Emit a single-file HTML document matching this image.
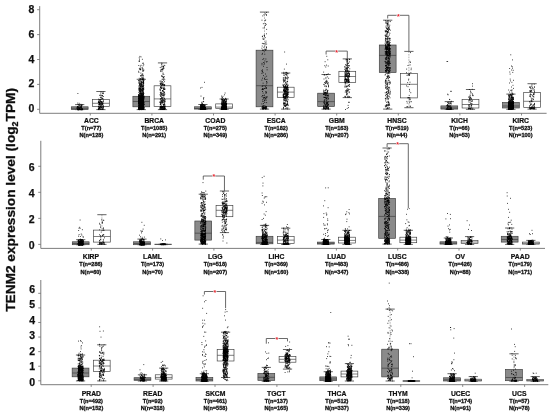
<!DOCTYPE html>
<html><head><meta charset="utf-8"><title>TENM2 expression level</title>
<style>html,body{margin:0;padding:0;background:#fff}svg{display:block}</style>
</head><body>
<svg width="550" height="416" viewBox="0 0 550 416">
<rect width="550" height="416" fill="#fff"/>
<defs><filter id="soft" x="0" y="0" width="550" height="416" filterUnits="userSpaceOnUse"><feGaussianBlur stdDeviation="0.35"/></filter></defs>
<g filter="url(#soft)">
<text transform="translate(14.9,311.8) rotate(-90)" font-family='"Liberation Sans", Arial, Helvetica, sans-serif' font-weight="bold" font-size="13.5" fill="#111" stroke="#111" stroke-width="0.3" textLength="223.8" lengthAdjust="spacingAndGlyphs">TENM2 expression level (log<tspan font-size="8.8" dy="2.6">2</tspan><tspan dy="-2.6">TPM)</tspan></text>
<path d="M39.7 6.1V113.3H546.6" fill="none" stroke="#6e6e6e" stroke-width="0.9"/>
<text x="34.3" y="111.96" text-anchor="end" font-family='"Liberation Sans", Arial, Helvetica, sans-serif' font-weight="bold" font-size="10.5" fill="#111" stroke="#111" stroke-width="0.25">0</text>
<text x="34.3" y="87.26" text-anchor="end" font-family='"Liberation Sans", Arial, Helvetica, sans-serif' font-weight="bold" font-size="10.5" fill="#111" stroke="#111" stroke-width="0.25">2</text>
<text x="34.3" y="62.56" text-anchor="end" font-family='"Liberation Sans", Arial, Helvetica, sans-serif' font-weight="bold" font-size="10.5" fill="#111" stroke="#111" stroke-width="0.25">4</text>
<text x="34.3" y="37.86" text-anchor="end" font-family='"Liberation Sans", Arial, Helvetica, sans-serif' font-weight="bold" font-size="10.5" fill="#111" stroke="#111" stroke-width="0.25">6</text>
<text x="34.3" y="13.16" text-anchor="end" font-family='"Liberation Sans", Arial, Helvetica, sans-serif' font-weight="bold" font-size="10.5" fill="#111" stroke="#111" stroke-width="0.25">8</text>
<path d="M37.1 109.30H39.7M37.1 84.40H39.7M37.1 59.50H39.7M37.1 34.60H39.7M37.1 9.70H39.7M90.3 113.3v2.2M151.9 113.3v2.2M213.5 113.3v2.2M275.1 113.3v2.2M336.7 113.3v2.2M398.3 113.3v2.2M459.9 113.3v2.2M521.5 113.3v2.2" fill="none" stroke="#6e6e6e" stroke-width="0.8"/>
<path d="M79.70 104.6V106.8M79.70 109.6V109.6" stroke="#666" stroke-width="0.5" stroke-dasharray="1.6 1" fill="none"/>
<path d="M75.10 104.6h9.2M75.10 109.6h9.2" stroke="#3a3a3a" stroke-width="0.8" fill="none"/>
<rect x="71.30" y="106.8" width="16.8" height="2.8" fill="#8a8a8a" stroke="#3a3a3a" stroke-width="0.65"/>
<path d="M71.30 108.3h16.8" stroke="#3a3a3a" stroke-width="0.65" fill="none"/>
<path d="M77.2 108.5h0M81.6 106.9h0M80.3 107.3h0M77.9 109.6h0M78.4 106.9h0M78.9 108.4h0M79.0 109.6h0M77.7 109.4h0M81.5 109.6h0M82.3 109.6h0M79.5 108.2h0M79.6 107.4h0M77.5 106.8h0M77.6 106.5h0M78.9 109.6h0M78.5 109.6h0M81.4 109.4h0M77.9 109.6h0M77.2 107.8h0M82.0 109.0h0M79.8 109.6h0M77.9 109.6h0M79.9 109.6h0M77.2 107.4h0M79.8 109.1h0M82.2 108.7h0M81.6 105.6h0M80.7 109.6h0M78.5 107.6h0M79.0 105.5h0M78.0 109.6h0M81.1 109.6h0M79.9 109.3h0M81.2 109.6h0M78.8 108.4h0M78.3 107.9h0M81.3 108.1h0M82.2 109.2h0M81.5 107.7h0M81.3 109.4h0M81.4 106.1h0M80.9 106.9h0M78.3 107.8h0M79.8 105.2h0M78.9 108.8h0M77.3 106.8h0M77.2 108.5h0M78.6 109.6h0M78.4 109.6h0M80.7 106.7h0M82.1 109.6h0M79.4 109.4h0M82.0 109.6h0M82.2 109.0h0M82.1 105.2h0M79.0 106.5h0M78.2 108.8h0M78.3 104.7h0M78.1 109.6h0M78.2 109.6h0M80.3 109.6h0M81.8 109.6h0M81.5 109.1h0M79.6 108.3h0M80.5 108.8h0M81.3 108.2h0M77.5 107.6h0M80.5 107.8h0M81.8 109.6h0M81.2 105.3h0M81.0 105.3h0M79.6 108.8h0M78.0 109.6h0M81.2 106.9h0M78.8 109.6h0M81.3 109.6h0M82.2 109.6h0M79.2 103.3h0M79.2 104.6h0M82.0 104.6h0M80.9 104.3h0M78.0 104.5h0M77.8 103.1h0M77.9 93.5h0" stroke="#000" stroke-opacity="0.9" stroke-width="1.0" stroke-linecap="round" fill="none"/>
<path d="M100.90 91.5V99.6M100.90 106.5V109.6" stroke="#666" stroke-width="0.5" stroke-dasharray="1.6 1" fill="none"/>
<path d="M96.30 91.5h9.2M96.30 109.6h9.2" stroke="#3a3a3a" stroke-width="0.8" fill="none"/>
<rect x="92.50" y="99.6" width="16.8" height="6.9" fill="#fff" stroke="#3a3a3a" stroke-width="0.65"/>
<path d="M92.50 103.3h16.8" stroke="#3a3a3a" stroke-width="0.65" fill="none"/>
<path d="M100.8 93.9h0M98.3 109.1h0M102.4 95.5h0M102.2 105.1h0M100.9 106.5h0M101.1 95.5h0M101.7 103.1h0M98.6 106.1h0M102.1 98.9h0M99.6 104.2h0M98.7 108.3h0M99.7 104.6h0M102.1 109.3h0M99.4 104.8h0M102.1 102.9h0M103.4 106.2h0M100.9 101.6h0M100.3 99.7h0M100.8 103.9h0M101.9 109.0h0M102.3 108.0h0M101.5 101.7h0M101.6 105.0h0M98.7 102.5h0M99.1 108.2h0M99.6 107.4h0M102.2 96.9h0M99.9 102.4h0M101.3 97.4h0M98.4 101.5h0M98.6 102.2h0M99.7 105.0h0M101.8 106.3h0M101.9 102.8h0M101.8 98.7h0M99.8 103.1h0M101.0 99.3h0M100.7 107.9h0M100.7 107.2h0M98.9 108.6h0M102.9 92.8h0M99.3 108.7h0M103.4 100.1h0M103.2 91.9h0M98.4 109.5h0M100.7 104.9h0M102.6 93.6h0M103.3 107.8h0M100.6 100.9h0M99.7 107.5h0M99.4 99.7h0M103.2 101.2h0M99.4 107.5h0M101.3 101.5h0M99.0 109.6h0M101.0 91.9h0M103.3 107.3h0M99.0 108.9h0M102.6 103.7h0M100.9 106.2h0M102.9 98.7h0M102.0 109.3h0M99.5 102.2h0M103.0 106.7h0M100.8 101.2h0M98.4 109.4h0M98.3 102.6h0M100.9 109.2h0M100.6 109.2h0M99.9 104.4h0M99.0 103.0h0M100.1 103.7h0M99.9 100.5h0M102.7 107.0h0M98.3 107.1h0M102.2 104.3h0M102.7 98.5h0M98.9 100.3h0M103.1 103.4h0M102.0 103.3h0M103.0 101.6h0M99.8 108.0h0M100.2 99.4h0M100.3 97.5h0M103.5 106.0h0M101.4 104.9h0M100.2 103.2h0M100.5 106.0h0M99.7 102.0h0M98.6 104.4h0M98.8 106.9h0M102.6 108.8h0M99.8 103.8h0M103.2 109.1h0M99.6 95.3h0M99.7 104.1h0M101.0 104.8h0M99.3 107.9h0M100.2 106.4h0M103.3 96.5h0M102.9 109.5h0M102.5 104.4h0M101.6 107.7h0M103.0 104.9h0M103.2 108.1h0M101.2 107.3h0M102.0 107.7h0M98.6 106.6h0M102.1 104.0h0M100.6 101.6h0M102.2 95.5h0M101.7 102.9h0M99.8 104.3h0M98.6 99.2h0M103.1 102.0h0M99.0 109.1h0M100.8 95.8h0M100.1 102.6h0M99.8 108.1h0M102.1 102.7h0M103.4 93.6h0M99.7 102.9h0M101.7 102.2h0M99.9 106.6h0M101.2 107.6h0M100.4 109.1h0M99.2 101.9h0M99.1 102.1h0" stroke="#000" stroke-opacity="0.9" stroke-width="1.0" stroke-linecap="round" fill="none"/>
<text x="91.4" y="122.8" text-anchor="middle" font-family='"Liberation Sans", Arial, Helvetica, sans-serif' font-weight="bold" font-size="6.8" fill="#111" stroke="#111" stroke-width="0.22">ACC</text>
<text x="91.4" y="130.0" text-anchor="middle" font-family='"Liberation Sans", Arial, Helvetica, sans-serif' font-weight="bold" font-size="5.6" fill="#111" stroke="#111" stroke-width="0.28">T(n=77)</text>
<text x="91.4" y="137.0" text-anchor="middle" font-family='"Liberation Sans", Arial, Helvetica, sans-serif' font-weight="bold" font-size="5.6" fill="#111" stroke="#111" stroke-width="0.28">N(n=128)</text>
<path d="M141.30 79.3V96.3M141.30 106.8V109.6" stroke="#666" stroke-width="0.5" stroke-dasharray="1.6 1" fill="none"/>
<path d="M136.70 79.3h9.2M136.70 109.6h9.2" stroke="#3a3a3a" stroke-width="0.8" fill="none"/>
<rect x="132.90" y="96.3" width="16.8" height="10.5" fill="#8a8a8a" stroke="#3a3a3a" stroke-width="0.65"/>
<path d="M132.90 101.5h16.8" stroke="#3a3a3a" stroke-width="0.65" fill="none"/>
<path d="M140.0 109.3h0M142.4 102.7h0M142.7 79.4h0M142.7 102.2h0M140.3 107.1h0M142.7 102.0h0M143.8 107.5h0M141.1 100.9h0M140.1 98.4h0M141.4 104.3h0M143.6 103.3h0M139.4 107.6h0M138.7 95.7h0M141.2 99.6h0M142.1 94.8h0M142.7 102.8h0M140.6 103.9h0M143.8 83.2h0M139.9 96.3h0M142.6 108.8h0M139.2 91.2h0M138.8 96.3h0M139.4 106.4h0M139.0 83.1h0M141.3 94.5h0M141.6 107.2h0M139.6 99.8h0M143.6 86.2h0M140.6 100.3h0M139.5 104.4h0M139.6 109.0h0M142.5 109.4h0M143.5 97.9h0M139.5 107.5h0M138.9 99.9h0M142.7 107.0h0M140.0 99.3h0M143.8 102.7h0M141.3 96.4h0M142.0 103.9h0M140.5 87.9h0M142.9 91.1h0M141.1 107.5h0M140.4 86.6h0M143.4 101.6h0M139.3 105.1h0M142.5 102.9h0M139.0 101.1h0M142.1 106.9h0M140.8 103.7h0M143.2 97.3h0M139.0 85.8h0M141.6 97.4h0M140.8 93.7h0M143.5 94.7h0M143.6 108.9h0M142.0 106.5h0M139.9 102.5h0M140.0 108.0h0M140.1 101.2h0M141.0 107.9h0M139.9 109.5h0M139.8 106.9h0M142.6 107.9h0M142.0 82.4h0M140.3 101.5h0M143.9 93.4h0M139.8 109.4h0M141.7 96.5h0M139.5 98.3h0M143.2 103.3h0M143.2 106.8h0M140.1 103.4h0M142.6 95.7h0M143.0 94.9h0M140.2 105.9h0M140.4 91.9h0M141.2 108.1h0M143.3 106.4h0M139.5 107.8h0M142.3 96.2h0M141.8 105.8h0M141.1 96.2h0M141.7 107.0h0M143.3 94.4h0M139.8 101.0h0M143.3 102.9h0M140.6 88.4h0M142.8 105.3h0M143.2 103.0h0M139.6 108.9h0M143.2 88.1h0M143.9 96.3h0M140.2 108.1h0M138.8 80.5h0M139.3 102.8h0M143.8 104.1h0M138.7 95.2h0M143.4 85.8h0M139.5 85.0h0M142.5 98.0h0M139.2 103.4h0M139.6 96.0h0M142.3 108.9h0M139.2 107.0h0M140.5 108.3h0M143.5 106.7h0M142.4 79.6h0M143.3 101.9h0M143.8 108.2h0M138.9 98.6h0M139.9 108.0h0M142.8 99.8h0M142.3 100.7h0M138.9 96.9h0M141.3 93.9h0M139.9 98.2h0M140.9 97.3h0M139.2 107.5h0M138.8 109.3h0M143.9 98.0h0M140.3 106.8h0M143.3 97.5h0M139.3 87.7h0M141.2 95.9h0M139.4 105.8h0M140.9 81.6h0M139.6 107.6h0M142.3 107.3h0M139.5 89.1h0M142.5 92.8h0M141.3 91.6h0M139.3 105.6h0M140.5 95.8h0M141.3 99.5h0M143.5 107.8h0M140.5 107.4h0M139.8 104.7h0M143.7 97.4h0M143.3 107.7h0M142.5 97.3h0M140.1 102.6h0M139.6 89.8h0M140.1 107.1h0M139.1 104.4h0M138.9 96.8h0M141.3 108.7h0M140.8 103.0h0M141.6 106.6h0M140.6 104.5h0M138.8 103.7h0M142.3 79.4h0M142.1 102.5h0M141.5 97.4h0M141.6 109.3h0M142.3 105.8h0M143.8 106.2h0M143.2 102.4h0M142.4 108.3h0M140.8 101.0h0M140.4 108.5h0M140.9 104.2h0M143.8 107.6h0M140.7 101.1h0M140.7 108.2h0M140.8 80.2h0M139.4 107.2h0M143.9 80.0h0M138.7 101.8h0M141.9 92.6h0M143.5 88.4h0M140.0 95.4h0M141.9 94.8h0M140.7 106.0h0M140.0 95.2h0M139.7 107.9h0M139.3 98.3h0M143.1 107.5h0M142.8 101.0h0M143.4 108.4h0M139.0 96.2h0M142.3 95.7h0M140.4 99.2h0M142.1 97.9h0M141.6 104.6h0M140.3 105.0h0M143.8 103.8h0M138.7 108.5h0M142.6 102.7h0M143.1 84.9h0M141.4 102.5h0M141.8 102.1h0M143.9 108.0h0M139.9 108.0h0M142.0 96.5h0M142.6 96.7h0M140.7 100.3h0M142.4 96.6h0M140.7 98.3h0M141.4 95.6h0M141.9 79.4h0M142.2 100.5h0M140.4 109.5h0M142.0 106.6h0M141.5 95.3h0M139.9 81.1h0M141.9 107.8h0M140.1 95.4h0M143.4 94.1h0M141.2 95.5h0M142.5 101.1h0M141.4 107.5h0M141.2 98.0h0M139.9 107.3h0M139.4 109.4h0M143.5 101.0h0M141.4 109.0h0M141.4 108.3h0M141.4 98.2h0M142.9 89.7h0M139.9 100.9h0M139.6 109.6h0M143.0 98.4h0M141.1 94.3h0M142.0 89.2h0M143.0 105.6h0M143.3 102.4h0M143.2 96.6h0M138.9 94.4h0M140.7 101.4h0M143.0 99.8h0M143.0 101.5h0M139.3 107.2h0M139.5 98.5h0M140.0 101.0h0M139.2 107.4h0M140.6 96.4h0M142.9 107.8h0M141.4 107.8h0M141.1 108.4h0M139.2 97.4h0M140.8 98.8h0M143.9 109.4h0M142.3 107.2h0M141.0 108.6h0M141.2 84.8h0M142.9 102.9h0M142.6 108.6h0M139.5 98.1h0M142.2 98.6h0M140.6 85.9h0M141.4 109.3h0M139.9 108.3h0M140.6 102.8h0M140.5 109.0h0M140.7 108.3h0M138.8 95.5h0M139.7 108.5h0M141.7 99.6h0M139.0 95.3h0M139.6 103.1h0M142.4 109.3h0M140.1 86.4h0M140.4 109.2h0M140.0 98.7h0M143.0 98.7h0M139.2 107.1h0M142.0 106.9h0M143.2 105.5h0M139.7 100.7h0M140.9 97.7h0M142.8 98.6h0M141.9 90.3h0M140.6 104.9h0M138.9 94.8h0M141.0 96.3h0M140.6 102.8h0M142.4 101.2h0M140.2 98.0h0M140.8 93.4h0M142.1 109.3h0M142.9 99.9h0M140.5 101.4h0M140.7 106.0h0M141.7 100.8h0M143.5 105.3h0M139.7 97.9h0M143.8 108.5h0M142.4 109.4h0M140.6 106.9h0M142.2 109.4h0M140.4 102.3h0M139.1 106.9h0M142.6 99.6h0M140.7 100.1h0M141.4 108.5h0M141.3 105.8h0M143.4 82.2h0M142.6 109.2h0M138.8 80.8h0M141.8 107.4h0M141.1 106.9h0M141.1 84.1h0M143.1 100.6h0M140.9 97.8h0M141.2 107.1h0M143.3 95.0h0M141.0 103.7h0M141.3 107.5h0M141.4 105.3h0M143.0 103.2h0M142.2 90.6h0M142.6 88.4h0M140.8 108.0h0M138.9 105.6h0M142.2 105.2h0M141.6 97.4h0M142.7 95.9h0M142.7 95.3h0M139.3 107.4h0M139.8 79.9h0M139.1 108.2h0M143.0 105.7h0M139.2 108.2h0M139.2 105.9h0M142.6 106.5h0M141.6 102.6h0M139.0 98.9h0M142.2 108.6h0M142.4 109.0h0M141.2 100.4h0M139.0 98.1h0M142.3 103.6h0M140.9 96.0h0M141.7 96.3h0M143.9 107.5h0M142.9 90.7h0M143.2 106.2h0M139.5 108.1h0M140.4 100.2h0M141.4 87.8h0M138.7 103.2h0M143.8 109.2h0M140.1 100.2h0M140.1 108.0h0M140.3 89.2h0M140.0 108.1h0M143.2 94.6h0M141.6 107.6h0M141.4 100.7h0M140.9 107.2h0M139.0 107.7h0M140.3 97.1h0M143.2 102.5h0M142.9 86.1h0M143.2 109.5h0M140.0 107.9h0M139.8 84.5h0M139.0 98.6h0M141.5 108.6h0M140.6 107.4h0M141.1 101.7h0M141.2 105.7h0M141.7 98.9h0M140.6 98.7h0M142.9 108.5h0M139.7 105.4h0M143.5 91.9h0M141.6 100.2h0M139.0 102.7h0M140.3 100.9h0M141.5 86.7h0M140.8 87.1h0M141.6 98.7h0M140.4 104.8h0M140.1 108.0h0M142.8 86.4h0M140.2 97.6h0M142.4 103.9h0M142.9 98.4h0M141.8 101.1h0M141.1 108.6h0M143.6 92.6h0M141.0 106.7h0M143.3 108.3h0M139.0 109.0h0M141.0 90.3h0M142.0 108.4h0M139.0 100.0h0M143.2 99.6h0M139.1 90.3h0M141.8 106.5h0M139.6 108.7h0M143.5 105.5h0M141.6 109.6h0M142.9 101.8h0M141.3 103.6h0M142.2 108.0h0M142.2 105.2h0M140.2 102.9h0M139.8 108.9h0M143.1 90.2h0M139.5 109.0h0M143.5 102.6h0M139.8 109.0h0M139.2 88.1h0M139.2 104.5h0M142.8 109.5h0M143.6 104.9h0M140.9 84.0h0M142.1 103.1h0M140.0 97.0h0M143.4 93.1h0M142.3 94.2h0M139.5 102.8h0M139.0 102.5h0M142.3 108.8h0M138.9 102.8h0M143.0 104.0h0M140.2 104.9h0M139.9 98.2h0M141.7 83.1h0M140.4 109.1h0M141.6 84.8h0M139.5 109.1h0M143.4 96.4h0M140.4 109.5h0M143.1 97.6h0M139.5 107.2h0M142.9 109.0h0M143.8 102.3h0M140.7 84.6h0M138.9 109.3h0M140.7 100.4h0M142.0 100.9h0M139.9 83.5h0M141.5 108.7h0M139.2 100.2h0M141.1 106.2h0M142.5 97.7h0M140.9 107.2h0M142.2 101.8h0M139.3 102.3h0M143.0 104.1h0M139.3 100.8h0M143.5 109.2h0M143.9 104.5h0M143.6 100.7h0M141.4 103.7h0M140.2 96.0h0M140.5 99.6h0M142.6 108.5h0M141.3 101.1h0M143.5 106.7h0M139.2 98.8h0M141.2 96.2h0M143.2 99.6h0M141.8 106.1h0M141.5 104.0h0M139.2 100.3h0M139.4 108.0h0M140.1 104.4h0M143.3 93.9h0M143.1 92.3h0M139.9 97.7h0M143.5 101.4h0M138.9 100.4h0M141.8 103.2h0M143.7 104.6h0M140.5 100.4h0M143.6 108.8h0M142.1 89.9h0M139.0 107.6h0M140.4 107.3h0M141.0 88.6h0M140.0 100.4h0M142.6 88.6h0M139.6 99.6h0M142.8 99.4h0M140.3 97.4h0M139.1 98.7h0M141.6 95.9h0M139.2 106.9h0M141.6 81.6h0M142.8 98.2h0M141.8 84.7h0M141.1 97.6h0M138.9 103.7h0M141.4 103.8h0M139.2 101.2h0M142.1 108.4h0M139.4 107.1h0M141.7 89.3h0M140.5 91.6h0M140.6 107.9h0M142.1 101.2h0M139.6 91.1h0M139.6 102.0h0M143.6 97.4h0M140.4 106.8h0M143.1 108.7h0M143.2 109.5h0M141.2 109.2h0M139.5 106.8h0M139.2 97.6h0M143.3 97.3h0M139.3 109.0h0M141.3 100.7h0M141.5 96.7h0M139.3 100.0h0M141.1 106.4h0M139.6 106.6h0M141.5 96.4h0M141.3 108.6h0M140.6 96.0h0M139.7 105.4h0M140.8 109.2h0M139.8 101.8h0M139.4 104.5h0M139.9 105.1h0M143.2 109.0h0M141.3 104.9h0M143.3 98.5h0M138.8 105.7h0M143.6 84.8h0M141.2 97.8h0M142.8 109.5h0M141.7 100.6h0M142.3 104.7h0M139.9 83.7h0M142.6 97.9h0M139.5 106.2h0M140.1 105.1h0M138.9 101.0h0M140.7 94.0h0M141.4 107.5h0M140.2 104.6h0M143.3 82.3h0M139.1 109.1h0M141.7 82.8h0M139.9 97.7h0M141.8 84.2h0M142.8 101.1h0M142.4 102.0h0M139.0 100.4h0M140.0 108.9h0M141.8 94.6h0M143.8 99.8h0M138.9 102.6h0M141.9 105.5h0M142.3 91.4h0M142.9 109.1h0M140.5 94.6h0M142.9 101.0h0M141.1 90.3h0M143.5 104.6h0M138.8 107.3h0M143.6 108.8h0M140.8 104.5h0M140.8 104.2h0M139.2 106.9h0M140.0 92.8h0M142.5 108.6h0M142.2 95.4h0M139.5 98.1h0M140.5 96.4h0M139.4 109.6h0M139.7 90.9h0M139.8 97.7h0M140.4 92.0h0M143.8 85.2h0M143.9 80.3h0M142.8 101.7h0M141.2 107.3h0M141.3 106.9h0M142.8 100.8h0M143.4 106.5h0M142.6 96.1h0M142.0 98.4h0M139.7 109.5h0M142.0 104.5h0M143.1 101.3h0M142.8 98.3h0M139.2 102.3h0M142.4 79.5h0M140.5 106.9h0M139.5 103.4h0M143.7 81.8h0M142.2 96.2h0M142.6 86.5h0M139.4 101.4h0M143.0 107.2h0M143.6 80.9h0M143.4 97.9h0M142.6 100.2h0M143.0 107.7h0M142.9 102.2h0M141.8 102.4h0M141.0 107.2h0M143.0 96.4h0M142.8 97.3h0M143.2 109.4h0M140.3 109.4h0M143.7 82.2h0M141.5 108.1h0M143.6 109.4h0M139.3 88.2h0M143.7 103.3h0M142.8 91.1h0M140.0 97.0h0M143.1 107.0h0M139.9 99.2h0M139.7 109.2h0M141.1 103.7h0M139.9 107.6h0M141.3 93.4h0M143.4 108.2h0M142.3 106.3h0M142.4 109.5h0M140.7 109.3h0M142.8 97.4h0M142.8 103.0h0M142.3 102.6h0M143.6 106.8h0M143.0 81.3h0M140.8 107.6h0M139.2 96.1h0M142.1 97.8h0M143.0 96.3h0M140.5 93.3h0M141.8 106.8h0M143.0 90.2h0M142.8 108.0h0M138.7 94.8h0M141.2 97.0h0M138.8 109.0h0M139.3 97.3h0M142.9 107.0h0M140.9 98.9h0M141.8 102.6h0M141.1 100.0h0M140.4 89.1h0M139.8 107.0h0M140.5 98.4h0M143.1 96.6h0M141.9 93.3h0M140.2 82.8h0M139.2 101.6h0M140.1 91.1h0M142.3 94.3h0M141.0 109.1h0M142.1 102.4h0M142.9 104.7h0M139.3 108.3h0M142.3 104.2h0M138.9 108.8h0M143.0 82.8h0M139.7 105.3h0M140.1 105.5h0M143.7 109.2h0M140.6 90.8h0M139.9 99.1h0M143.3 96.4h0M141.9 94.8h0M143.3 107.1h0M140.8 105.8h0M141.3 107.1h0M143.7 97.3h0M141.3 108.5h0M143.8 99.0h0M139.7 96.8h0M143.0 86.3h0M139.5 107.1h0M141.4 104.2h0M138.7 102.1h0M139.6 102.2h0M143.6 100.8h0M141.1 108.4h0M142.9 97.2h0M140.0 81.0h0M140.5 103.7h0M139.2 90.2h0M141.6 106.5h0M143.2 93.3h0M141.4 107.7h0M140.7 106.7h0M143.5 81.6h0M143.3 83.3h0M142.2 108.2h0M139.1 81.1h0M141.9 108.0h0M141.0 98.2h0M143.7 96.7h0M140.6 104.2h0M142.1 107.2h0M142.0 85.0h0M140.7 88.1h0M141.4 82.3h0M142.2 96.2h0M143.4 97.7h0M141.3 97.7h0M140.6 101.1h0M143.8 97.6h0M139.0 98.6h0M143.0 94.0h0M142.3 104.9h0M141.6 108.5h0M141.0 90.4h0M142.6 104.0h0M143.3 97.1h0M142.5 107.2h0M142.6 103.7h0M138.9 102.8h0M140.4 108.3h0M139.4 88.6h0M143.7 99.7h0M143.3 108.8h0M139.5 104.4h0M141.8 98.7h0M141.7 102.8h0M138.9 108.2h0M140.7 104.6h0M142.6 107.8h0M142.0 94.6h0M140.2 98.9h0M142.7 106.7h0M140.2 105.6h0M141.5 107.0h0M140.9 91.7h0M143.8 107.9h0M142.1 105.4h0M142.9 107.4h0M142.2 85.8h0M140.7 107.7h0M143.7 105.1h0M142.4 100.7h0M142.3 90.4h0M140.1 100.2h0M139.5 91.1h0M141.7 86.5h0M143.0 95.7h0M142.8 96.3h0M140.5 89.1h0M139.4 106.6h0M141.4 98.5h0M143.3 82.6h0M139.5 98.3h0M142.5 103.9h0M139.6 97.8h0M140.3 104.4h0M139.0 103.2h0M140.2 83.2h0M140.7 103.9h0M143.7 107.7h0M143.7 108.4h0M139.7 96.8h0M140.3 93.5h0M143.6 83.5h0M139.7 95.0h0M140.4 106.3h0M141.0 106.9h0M139.3 98.9h0M140.1 85.0h0M140.7 101.5h0M140.7 99.0h0M143.7 98.3h0M140.1 104.7h0M139.8 106.5h0M143.4 99.0h0M141.0 107.8h0M143.1 104.5h0M142.0 100.9h0M142.7 90.9h0M140.3 104.8h0M139.5 93.2h0M142.6 100.5h0M141.1 107.7h0M141.6 83.8h0M142.2 96.9h0M142.6 86.9h0M140.1 79.6h0M140.6 92.0h0M143.5 107.6h0M141.5 98.9h0M140.2 107.3h0M142.0 99.4h0M140.1 106.8h0M142.7 96.5h0M138.9 105.7h0M143.0 105.2h0M141.6 107.7h0M140.5 89.1h0M143.6 97.3h0M140.1 104.4h0M140.0 104.9h0M139.1 101.5h0M141.6 98.4h0M142.6 107.2h0M142.2 95.8h0M140.8 107.3h0M142.9 100.6h0M139.3 100.5h0M140.3 106.8h0M142.1 93.5h0M143.7 98.1h0M142.0 107.5h0M142.3 109.3h0M142.7 98.1h0M140.8 103.5h0M143.6 109.3h0M142.6 101.3h0M140.5 104.8h0M140.7 106.9h0M142.9 83.1h0M140.5 106.3h0M139.7 93.8h0M143.2 101.3h0M141.5 106.5h0M141.4 107.9h0M142.2 97.5h0M143.4 106.1h0M139.4 105.7h0M140.5 107.3h0M139.0 102.5h0M140.8 93.9h0M141.3 96.9h0M143.1 98.3h0M142.2 101.8h0M141.7 109.1h0M140.8 102.8h0M141.7 107.6h0M140.1 106.9h0M143.1 98.1h0M142.8 108.8h0M143.1 107.6h0M139.5 95.7h0M142.2 105.9h0M142.6 95.4h0M141.3 105.3h0M143.4 106.6h0M143.4 109.5h0M142.6 97.5h0M143.0 102.2h0M142.1 97.7h0M143.3 89.0h0M139.4 102.8h0M142.4 97.4h0M142.4 95.7h0M141.9 99.1h0M140.1 105.6h0M139.1 105.0h0M141.8 97.9h0M143.0 102.0h0M140.1 109.2h0M139.8 105.0h0M139.9 108.4h0M139.2 104.2h0M142.2 101.8h0M143.8 102.7h0M142.9 108.8h0M140.6 103.6h0M142.3 85.0h0M139.1 82.9h0M143.1 107.6h0M140.4 108.7h0M138.7 98.1h0M142.0 105.0h0M139.4 97.6h0M140.1 93.1h0M139.0 97.2h0M141.0 109.4h0M141.6 100.0h0M142.9 106.9h0M138.9 107.4h0M143.0 103.5h0M139.3 107.7h0M139.9 97.2h0M142.0 89.4h0M140.5 97.6h0M140.4 105.1h0M141.7 101.5h0M139.8 85.0h0M142.8 101.7h0M139.8 88.6h0M143.1 107.5h0M142.9 109.0h0M141.5 109.4h0M138.9 96.7h0M142.7 98.3h0M138.8 100.6h0M141.3 102.0h0M140.9 92.0h0M139.0 86.9h0M142.0 100.6h0M142.5 98.7h0M141.7 108.8h0M140.8 104.2h0M141.4 95.7h0M141.8 96.2h0M139.9 100.5h0M143.2 104.4h0M143.9 88.0h0M142.9 97.6h0M143.7 107.8h0M140.4 102.6h0M143.8 102.2h0M139.1 99.8h0M141.2 107.5h0M139.4 98.6h0M141.1 93.1h0M142.2 106.2h0M142.4 108.4h0M141.1 105.8h0M140.5 100.3h0M139.7 108.7h0M140.8 98.7h0M140.2 83.7h0M139.7 107.6h0M142.5 102.6h0M141.4 107.6h0M141.0 108.8h0M139.7 102.1h0M142.4 104.0h0M139.7 102.4h0M140.1 106.8h0M141.6 85.6h0M142.3 108.8h0M143.8 89.5h0M142.6 108.2h0M143.6 102.5h0M143.5 96.3h0M142.5 87.9h0M142.4 101.2h0M139.0 97.6h0M139.8 107.2h0M138.8 109.0h0M143.2 93.9h0M142.5 108.6h0M142.0 81.2h0M140.1 109.0h0M140.5 85.7h0M139.6 102.5h0M142.0 93.6h0M143.9 104.4h0M140.3 105.9h0M138.9 106.9h0M139.6 99.6h0M140.5 86.6h0M143.4 80.8h0M142.9 104.1h0M141.1 107.6h0M139.2 96.7h0M139.3 97.2h0M139.5 106.6h0M142.7 106.9h0M141.2 102.5h0M143.9 96.3h0M143.4 83.1h0M142.8 92.0h0M141.2 105.0h0M143.0 98.5h0M139.4 103.8h0M139.3 100.6h0M141.6 95.4h0M141.3 103.8h0M139.8 98.1h0M140.0 107.0h0M138.8 103.9h0M143.4 81.7h0M142.4 80.0h0M143.6 88.4h0M143.8 96.1h0M141.0 99.5h0M142.5 104.5h0M140.7 91.0h0M142.9 97.9h0M143.1 106.2h0M139.4 107.3h0M138.8 98.6h0M139.8 108.6h0M141.7 104.6h0M140.7 104.3h0M138.7 98.4h0M143.0 107.3h0M142.8 89.8h0M141.1 109.2h0M138.9 102.0h0M143.3 97.6h0M141.5 104.4h0M139.1 108.4h0M140.4 108.2h0M141.9 96.7h0M143.3 101.9h0M141.2 106.1h0M142.0 100.0h0M139.8 95.8h0M140.0 86.2h0M143.4 109.1h0M140.7 102.4h0M139.2 89.5h0M141.8 95.6h0M139.4 96.1h0M139.7 107.8h0M141.1 108.5h0M141.7 107.6h0M142.0 98.5h0M142.4 88.4h0M141.0 89.5h0M139.1 82.7h0M142.5 108.9h0M139.0 105.5h0M141.1 100.6h0M140.8 107.8h0M142.2 101.2h0M142.4 96.5h0M139.9 96.8h0M142.1 100.5h0M142.3 109.4h0M141.2 97.6h0M139.4 108.1h0M143.4 89.2h0M141.8 106.9h0M139.0 109.0h0M139.9 108.4h0M143.8 105.1h0M139.9 102.3h0M140.7 90.0h0M142.8 100.5h0M143.0 96.3h0M142.0 102.3h0M142.6 100.8h0M138.9 96.2h0M139.2 109.1h0M143.8 98.3h0M142.9 102.3h0M138.9 92.5h0M139.0 88.6h0M140.0 107.7h0M143.5 109.3h0M139.8 96.5h0M142.2 107.8h0M143.5 104.6h0M142.0 103.4h0M143.5 108.4h0M140.1 101.6h0M139.5 106.7h0M138.8 107.2h0M142.6 97.7h0M139.2 104.2h0M143.8 104.5h0M142.4 101.3h0M139.7 96.2h0M142.9 100.3h0M139.5 85.0h0M141.4 99.6h0M139.3 103.0h0M142.8 82.6h0M143.3 87.1h0M143.5 105.5h0M138.7 98.9h0M143.1 98.1h0M141.6 98.4h0M143.0 107.7h0M141.3 106.7h0M141.9 103.4h0M141.8 107.5h0M142.9 102.2h0M139.1 109.2h0M139.0 103.9h0M141.5 97.9h0M140.2 107.0h0M140.8 103.1h0M138.7 99.2h0M142.6 93.3h0M138.8 89.1h0M143.0 107.3h0M142.9 101.4h0M141.1 105.6h0M139.3 106.1h0M142.1 108.2h0M139.8 94.1h0M140.9 101.6h0M139.3 107.6h0M143.8 97.4h0M141.5 102.6h0M140.5 69.6h0M139.2 61.4h0M142.5 68.3h0M143.1 77.9h0M143.1 65.8h0M139.2 57.8h0M140.6 69.7h0M140.3 79.0h0M142.7 63.3h0M139.5 61.0h0M141.9 75.6h0M143.8 78.5h0M142.7 78.0h0M138.7 71.3h0M139.1 61.0h0M139.3 68.6h0M142.3 59.3h0M141.8 77.7h0M141.4 75.9h0M141.1 65.3h0M140.8 68.3h0M141.9 74.4h0M142.1 67.4h0M143.5 75.7h0M142.5 79.1h0M142.8 74.2h0M143.4 79.2h0M143.1 69.0h0M142.4 75.7h0M138.9 72.4h0M142.2 69.7h0M143.1 77.0h0M140.9 73.1h0M143.3 79.3h0M139.6 59.2h0M143.6 70.6h0M141.0 56.9h0M142.4 79.1h0M140.0 69.3h0M140.3 66.1h0M140.5 75.8h0M140.4 78.9h0M139.2 78.3h0M141.0 78.5h0M143.8 64.7h0M142.1 78.9h0M143.5 63.2h0M142.7 74.0h0M143.1 71.3h0M143.9 70.0h0M142.6 70.9h0M140.1 68.1h0M140.0 69.6h0M140.8 75.8h0M138.8 65.5h0M139.9 56.4h0" stroke="#000" stroke-opacity="0.9" stroke-width="1.0" stroke-linecap="round" fill="none"/>
<path d="M162.50 62.9V85.8M162.50 106.5V109.6" stroke="#666" stroke-width="0.5" stroke-dasharray="1.6 1" fill="none"/>
<path d="M157.90 62.9h9.2M157.90 109.6h9.2" stroke="#3a3a3a" stroke-width="0.8" fill="none"/>
<rect x="154.10" y="85.8" width="16.8" height="20.7" fill="#fff" stroke="#3a3a3a" stroke-width="0.65"/>
<path d="M154.10 98.9h16.8" stroke="#3a3a3a" stroke-width="0.65" fill="none"/>
<path d="M164.8 65.7h0M163.8 104.8h0M163.4 66.8h0M163.3 77.5h0M160.1 109.1h0M164.4 103.7h0M162.7 103.0h0M162.3 84.6h0M161.7 94.3h0M164.0 98.1h0M164.0 105.8h0M164.4 98.5h0M161.0 107.2h0M161.7 105.8h0M161.2 107.3h0M160.4 98.8h0M161.6 107.9h0M160.0 94.8h0M164.0 95.7h0M161.1 107.3h0M160.3 108.6h0M160.3 107.3h0M163.8 74.5h0M160.9 94.4h0M162.3 94.9h0M162.0 99.4h0M164.1 106.5h0M164.9 100.0h0M161.5 108.0h0M163.2 73.2h0M164.6 104.7h0M162.3 106.8h0M164.6 102.0h0M163.7 91.6h0M161.5 87.0h0M164.4 81.7h0M162.9 85.7h0M160.5 83.7h0M163.0 69.7h0M164.2 89.4h0M162.6 107.1h0M162.4 84.6h0M162.1 93.5h0M164.5 88.2h0M163.4 106.8h0M161.0 80.9h0M161.8 93.3h0M161.8 106.7h0M164.9 109.1h0M163.5 109.5h0M160.5 104.4h0M164.7 108.9h0M160.1 101.7h0M163.0 87.3h0M162.1 109.0h0M163.6 101.8h0M162.1 83.7h0M160.4 107.2h0M162.6 101.7h0M164.2 92.0h0M164.0 85.6h0M161.8 96.8h0M161.1 106.6h0M163.8 99.8h0M164.1 104.3h0M161.0 106.9h0M164.5 100.2h0M165.1 107.9h0M162.2 106.7h0M161.9 102.5h0M163.6 76.9h0M164.7 107.2h0M160.9 93.2h0M161.5 64.3h0M161.6 85.1h0M163.7 77.6h0M160.9 107.0h0M162.7 83.9h0M162.5 107.3h0M163.4 79.2h0M160.6 86.8h0M164.9 101.3h0M165.1 108.6h0M162.8 99.8h0M164.0 78.7h0M160.9 106.5h0M164.6 92.5h0M162.8 108.0h0M163.8 92.8h0M164.4 108.0h0M161.8 94.3h0M164.7 109.0h0M161.0 71.6h0M160.0 81.2h0M162.5 84.3h0M164.6 108.4h0M164.6 85.4h0M164.9 106.6h0M162.6 100.0h0M164.7 108.8h0M162.8 98.1h0M160.6 104.1h0M163.2 109.4h0M164.1 108.0h0M162.1 98.2h0M163.0 106.4h0M161.2 88.6h0M161.3 84.0h0M162.1 79.3h0M162.6 109.5h0M162.3 102.0h0M160.4 104.0h0M159.9 107.7h0M161.7 109.1h0M163.6 108.4h0M163.8 102.4h0M161.1 95.1h0M161.2 107.2h0M162.6 109.5h0M160.8 106.9h0M163.0 93.4h0M164.6 85.6h0M161.0 107.0h0M162.9 91.7h0M163.6 105.7h0M163.8 97.1h0M163.6 83.0h0M163.6 80.3h0M161.3 109.3h0M164.3 106.6h0M164.7 101.1h0M160.2 67.5h0M164.8 102.9h0M162.2 69.5h0M160.3 92.5h0M160.3 107.3h0M164.0 93.5h0M163.4 66.5h0M160.6 84.2h0M162.3 109.3h0M163.2 88.2h0M165.1 89.1h0M161.6 107.6h0M163.9 94.7h0M161.2 108.8h0M160.9 92.0h0M160.7 96.3h0M162.0 108.0h0M163.1 95.1h0M161.5 88.2h0M160.7 70.2h0M161.0 107.8h0M160.3 84.0h0M160.9 106.2h0M161.5 83.6h0M162.5 90.5h0M160.9 95.8h0M162.4 107.2h0M162.2 107.3h0M165.0 106.9h0M162.4 102.1h0M164.8 108.3h0M162.4 76.3h0M160.9 104.3h0M163.0 100.2h0M160.7 99.0h0M160.8 87.9h0M160.3 106.2h0M163.5 68.6h0M164.9 94.1h0M162.0 98.5h0M161.7 108.9h0M162.1 100.8h0M161.7 75.7h0M163.5 67.3h0M161.9 88.4h0M160.7 108.2h0M164.4 89.4h0M162.9 106.5h0M159.9 108.7h0M164.3 107.2h0M163.7 104.3h0M161.7 85.8h0M163.2 109.4h0M164.7 84.7h0M162.0 102.9h0M162.1 102.1h0M161.5 100.9h0M162.8 106.8h0M163.3 106.8h0M163.7 94.9h0M164.8 104.9h0M160.7 90.3h0M161.8 100.3h0M164.3 76.7h0M164.0 107.0h0M163.0 90.8h0M163.4 88.8h0M161.7 69.7h0M164.8 108.3h0M162.8 108.7h0M162.0 70.1h0M160.8 106.8h0M160.5 93.2h0M164.6 107.1h0M164.1 87.2h0M160.0 89.0h0M161.6 102.1h0M162.4 95.3h0M162.5 108.7h0M161.8 107.4h0M164.6 94.9h0M161.7 97.6h0M162.7 107.5h0M164.7 89.2h0M163.2 107.2h0M162.4 68.9h0M161.6 98.4h0M161.9 82.3h0M163.1 104.4h0M164.0 108.4h0M161.3 106.7h0M161.8 87.8h0M161.9 67.2h0M161.8 100.4h0M164.6 108.1h0M162.7 90.6h0M161.3 92.7h0M161.6 85.2h0M164.2 107.7h0M160.7 100.8h0M163.5 88.7h0M160.0 102.5h0M160.9 95.9h0M160.2 102.3h0M164.1 65.3h0M160.7 87.2h0M161.1 103.7h0M160.2 99.2h0M161.3 66.1h0M163.7 107.9h0M163.6 89.7h0M164.6 108.8h0M164.8 79.7h0M162.8 107.7h0M164.7 109.5h0M160.4 107.4h0M164.7 84.9h0M162.2 106.7h0M160.9 108.1h0M163.8 84.5h0M164.4 108.9h0M161.9 101.5h0M160.4 107.3h0M164.4 85.1h0M163.8 104.5h0M163.0 66.3h0M165.0 106.2h0M160.1 89.6h0M160.2 104.3h0M160.5 87.5h0M160.0 109.5h0M163.6 109.0h0M163.2 100.8h0M160.5 102.5h0M160.7 84.7h0M160.8 82.1h0M163.1 108.8h0M163.4 100.3h0M164.9 105.1h0M161.8 76.4h0M165.0 108.9h0M162.2 97.6h0M161.9 82.0h0M161.2 69.2h0M161.1 101.7h0M165.0 101.6h0M165.1 99.7h0M163.6 109.3h0M160.8 103.7h0M160.8 71.2h0M160.7 109.4h0M161.7 63.2h0M163.7 95.7h0M160.2 83.3h0M162.7 90.8h0M163.4 84.9h0M160.1 90.2h0M162.2 81.6h0M164.0 68.2h0M162.9 84.8h0" stroke="#000" stroke-opacity="0.9" stroke-width="1.0" stroke-linecap="round" fill="none"/>
<text x="154.2" y="122.8" text-anchor="middle" font-family='"Liberation Sans", Arial, Helvetica, sans-serif' font-weight="bold" font-size="6.8" fill="#111" stroke="#111" stroke-width="0.22">BRCA</text>
<text x="154.2" y="130.0" text-anchor="middle" font-family='"Liberation Sans", Arial, Helvetica, sans-serif' font-weight="bold" font-size="5.6" fill="#111" stroke="#111" stroke-width="0.28">T(n=1085)</text>
<text x="154.2" y="137.0" text-anchor="middle" font-family='"Liberation Sans", Arial, Helvetica, sans-serif' font-weight="bold" font-size="5.6" fill="#111" stroke="#111" stroke-width="0.28">N(n=291)</text>
<path d="M202.90 104.5V106.8M202.90 109.1V109.3" stroke="#666" stroke-width="0.5" stroke-dasharray="1.6 1" fill="none"/>
<path d="M198.30 104.5h9.2M198.30 109.3h9.2" stroke="#3a3a3a" stroke-width="0.8" fill="none"/>
<rect x="194.50" y="106.8" width="16.8" height="2.3" fill="#8a8a8a" stroke="#3a3a3a" stroke-width="0.65"/>
<path d="M194.50 108.5h16.8" stroke="#3a3a3a" stroke-width="0.65" fill="none"/>
<path d="M200.7 109.0h0M205.3 107.4h0M202.2 109.1h0M200.9 104.8h0M203.7 107.0h0M203.1 109.2h0M202.0 106.8h0M202.0 105.2h0M204.7 106.8h0M202.1 106.2h0M202.5 107.8h0M205.3 107.5h0M202.2 104.7h0M202.4 105.7h0M201.1 108.7h0M203.7 109.0h0M203.8 105.2h0M202.6 104.5h0M202.4 107.3h0M201.5 106.5h0M204.4 107.1h0M202.7 106.1h0M204.6 109.1h0M202.2 109.3h0M204.1 106.7h0M200.4 105.9h0M201.4 105.8h0M205.3 109.1h0M203.8 109.3h0M203.8 109.2h0M202.9 109.3h0M202.8 108.9h0M201.3 108.9h0M201.2 107.0h0M203.7 108.9h0M203.9 109.2h0M201.6 108.7h0M203.7 104.7h0M201.0 106.2h0M203.5 108.2h0M201.2 106.1h0M202.9 106.3h0M201.9 106.1h0M203.2 109.2h0M201.0 109.2h0M202.8 109.3h0M203.5 108.1h0M201.0 109.2h0M201.9 108.6h0M203.8 106.8h0M203.1 108.6h0M203.5 104.9h0M204.4 109.2h0M203.3 108.9h0M201.5 107.4h0M202.6 106.6h0M204.6 109.3h0M203.2 109.1h0M204.2 107.4h0M202.2 109.3h0M202.6 109.0h0M205.3 109.0h0M204.6 109.3h0M203.7 108.5h0M200.9 105.7h0M203.5 108.3h0M200.5 108.6h0M205.2 105.2h0M205.4 108.1h0M204.1 109.2h0M201.7 104.6h0M204.7 106.7h0M201.2 107.7h0M204.6 108.6h0M203.0 109.2h0M200.4 108.7h0M204.9 108.8h0M202.6 105.8h0M204.6 109.3h0M203.9 109.1h0M203.1 106.7h0M204.8 108.4h0M201.4 108.8h0M205.0 108.5h0M202.1 109.1h0M200.4 108.9h0M202.1 108.4h0M200.6 107.4h0M200.7 105.7h0M203.5 108.3h0M200.9 107.4h0M201.1 107.3h0M201.8 106.6h0M201.7 106.8h0M205.1 109.2h0M205.0 109.2h0M204.8 109.3h0M205.4 108.0h0M202.6 104.5h0M204.4 108.0h0M201.8 109.1h0M205.1 109.1h0M204.5 108.8h0M204.1 109.2h0M201.5 105.8h0M200.8 106.8h0M205.1 109.1h0M203.2 106.7h0M203.5 106.5h0M204.8 106.0h0M201.0 109.1h0M203.9 108.9h0M202.7 109.3h0M204.4 106.7h0M202.7 107.3h0M201.3 109.2h0M205.3 108.4h0M201.8 104.5h0M204.2 107.9h0M204.6 109.2h0M201.6 107.4h0M203.9 106.5h0M202.4 109.1h0M201.5 109.2h0M201.4 106.7h0M205.3 107.8h0M202.2 107.5h0M203.0 106.8h0M202.9 109.2h0M200.4 109.3h0M204.2 109.3h0M204.2 109.1h0M204.9 108.7h0M202.2 109.0h0M201.4 109.2h0M202.1 106.2h0M204.1 108.4h0M203.7 107.1h0M202.4 109.1h0M203.0 108.6h0M201.1 107.5h0M205.1 108.8h0M202.8 106.6h0M202.9 109.2h0M204.4 109.0h0M201.3 107.5h0M204.1 109.1h0M202.1 109.3h0M204.5 107.1h0M200.8 106.9h0M201.7 107.4h0M203.6 109.2h0M202.8 107.7h0M202.3 109.2h0M203.3 108.9h0M201.4 109.3h0M202.6 109.1h0M200.3 108.6h0M204.5 109.2h0M201.6 106.4h0M204.6 108.9h0M203.2 109.2h0M203.4 107.5h0M203.6 109.1h0M201.0 108.5h0M204.3 106.7h0M201.8 107.6h0M204.8 109.2h0M204.4 109.0h0M203.8 109.1h0M204.5 106.1h0M202.6 109.2h0M203.8 109.2h0M205.3 107.8h0M201.3 106.8h0M200.8 108.2h0M202.4 109.2h0M202.9 109.2h0M201.1 107.4h0M201.5 107.4h0M204.8 107.3h0M202.3 106.2h0M201.1 109.1h0M201.3 108.3h0M203.3 107.1h0M201.3 105.4h0M202.8 109.2h0M203.1 106.8h0M202.6 109.2h0M202.9 104.5h0M204.7 109.0h0M200.4 105.0h0M205.1 108.4h0M201.3 108.4h0M200.5 107.1h0M204.3 107.6h0M203.3 108.7h0M203.1 107.8h0M201.4 109.2h0M204.4 107.7h0M201.9 108.9h0M204.1 109.2h0M201.5 109.0h0M203.3 108.1h0M203.7 107.2h0M202.2 106.0h0M202.8 108.7h0M200.6 108.9h0M203.6 106.1h0M203.9 107.2h0M201.1 108.7h0M203.2 108.7h0M204.1 105.4h0M200.8 109.1h0M204.7 105.6h0M204.8 107.9h0M200.6 107.3h0M201.6 109.2h0M200.7 109.3h0M201.6 107.9h0M200.7 105.2h0M202.8 109.2h0M201.6 109.3h0M201.9 107.6h0M202.7 108.7h0M202.2 108.9h0M204.4 105.0h0M204.1 106.2h0M200.9 108.7h0M201.5 106.6h0M200.3 109.2h0M202.0 105.0h0M200.9 109.0h0M203.9 106.2h0M204.4 109.3h0M205.5 108.6h0M201.4 106.2h0M200.5 108.9h0M204.2 108.5h0M202.4 108.7h0M205.1 109.2h0M202.3 106.4h0M201.9 107.9h0M200.7 109.1h0M205.2 107.8h0M203.0 108.6h0M202.6 104.8h0M202.6 109.2h0M204.3 107.3h0M204.6 109.2h0M202.8 107.8h0M201.2 107.0h0M202.4 109.2h0M204.9 108.7h0M202.4 106.7h0M203.7 106.6h0M203.2 106.6h0M202.7 107.4h0M203.3 109.3h0M201.6 106.5h0M203.2 106.1h0M204.8 106.8h0M200.7 108.6h0M202.2 108.1h0M204.9 105.9h0M205.4 109.0h0M200.4 109.2h0M203.6 106.2h0M203.6 106.8h0M204.7 108.6h0M202.7 109.1h0M201.0 109.2h0M201.9 108.8h0M204.0 108.9h0M204.1 108.5h0M201.4 103.9h0M203.6 98.7h0M203.7 99.1h0M203.7 101.4h0M200.4 88.0h0M202.6 103.5h0M202.0 87.4h0M203.4 101.7h0M202.1 102.0h0M201.0 96.1h0M203.8 97.5h0M201.8 102.7h0M204.4 82.3h0" stroke="#000" stroke-opacity="0.9" stroke-width="1.0" stroke-linecap="round" fill="none"/>
<path d="M224.10 99.0V103.9M224.10 108.5V109.3" stroke="#666" stroke-width="0.5" stroke-dasharray="1.6 1" fill="none"/>
<path d="M219.50 99.0h9.2M219.50 109.3h9.2" stroke="#3a3a3a" stroke-width="0.8" fill="none"/>
<rect x="215.70" y="103.9" width="16.8" height="4.6" fill="#fff" stroke="#3a3a3a" stroke-width="0.65"/>
<path d="M215.70 107.1h16.8" stroke="#3a3a3a" stroke-width="0.65" fill="none"/>
<path d="M224.8 107.9h0M223.7 103.7h0M226.6 104.1h0M222.5 103.9h0M225.2 105.1h0M221.7 108.8h0M222.9 105.2h0M222.1 108.9h0M222.3 108.5h0M224.2 107.7h0M222.4 109.3h0M225.6 108.0h0M222.0 102.8h0M224.7 103.3h0M226.0 108.5h0M222.2 108.3h0M222.6 108.9h0M225.5 103.3h0M223.9 108.9h0M226.3 108.4h0M223.3 103.4h0M223.6 105.2h0M226.5 108.9h0M223.3 103.2h0M226.5 106.2h0M226.1 109.2h0M222.5 108.7h0M224.3 104.0h0M226.4 107.3h0M222.1 107.1h0M225.9 108.7h0M225.5 108.6h0M225.4 108.9h0M224.6 109.2h0M222.0 107.5h0M226.5 109.2h0M222.0 109.1h0M225.6 109.3h0M225.3 107.9h0M223.2 103.8h0M225.1 109.1h0M223.6 106.2h0M225.4 107.8h0M221.7 108.8h0M226.4 107.9h0M223.5 107.5h0M225.7 104.2h0M224.0 102.3h0M225.7 108.6h0M223.1 105.5h0M224.3 105.1h0M221.6 108.3h0M224.0 108.5h0M221.9 99.1h0M226.0 103.3h0M225.0 101.7h0M223.7 109.3h0M226.6 106.5h0M226.4 104.2h0M226.5 103.6h0M221.9 108.0h0M225.2 108.9h0M225.3 104.2h0M224.7 104.2h0M221.6 108.0h0M226.3 104.0h0M223.8 109.3h0M224.6 107.7h0M225.7 108.1h0M222.9 106.0h0M221.7 107.9h0M226.3 104.5h0M222.9 99.3h0M221.7 99.1h0M222.2 108.3h0M226.7 109.1h0M225.3 106.9h0M222.6 99.9h0M222.3 108.2h0M226.2 107.5h0M225.0 108.2h0M224.5 100.2h0M222.2 104.4h0M223.6 109.0h0M226.4 108.8h0M221.5 108.6h0M223.7 104.6h0M221.8 103.1h0M226.7 103.2h0M222.0 107.7h0M226.5 108.8h0M225.9 107.1h0M225.3 102.9h0M221.7 109.3h0M225.1 108.7h0M224.1 108.6h0M224.1 105.8h0M222.3 104.7h0M224.2 108.5h0M225.7 108.5h0M222.2 103.7h0M226.1 103.9h0M223.7 106.5h0M222.9 105.7h0M222.7 103.7h0M223.9 104.8h0M224.9 107.4h0M224.5 105.7h0M226.1 101.6h0M224.2 106.9h0M224.2 101.9h0M226.6 108.4h0M222.6 107.2h0M221.6 108.1h0M223.2 101.5h0M223.1 106.9h0M222.1 102.6h0M223.7 108.2h0M221.7 107.3h0M226.3 106.5h0M224.0 109.0h0M226.1 103.7h0M225.1 108.9h0M225.3 108.4h0M225.4 102.6h0M223.1 101.6h0M225.3 109.3h0M222.6 108.6h0M224.4 107.1h0M224.6 107.7h0M225.5 102.7h0M222.4 100.6h0M223.3 104.7h0M225.8 107.8h0M225.7 108.0h0M226.6 104.9h0M222.1 107.1h0M222.6 108.8h0M222.1 108.6h0M225.3 108.8h0M225.4 101.1h0M224.9 100.2h0M225.6 105.8h0M224.2 108.8h0M224.4 108.0h0M226.3 108.9h0M224.9 107.8h0M224.9 107.2h0M224.6 106.5h0M224.1 104.3h0M225.4 106.7h0M224.5 100.8h0M222.2 109.2h0M223.7 104.8h0M223.7 100.3h0M223.7 103.4h0M224.4 105.1h0M223.4 108.2h0M223.5 105.0h0M223.7 106.9h0M223.4 106.8h0M226.6 107.1h0M222.0 108.9h0M221.6 106.2h0M225.3 101.6h0M223.6 108.0h0M223.8 106.2h0M224.6 103.9h0M223.4 108.3h0M222.7 109.1h0M221.6 109.0h0M226.0 103.4h0M226.4 107.4h0M223.0 105.6h0M223.9 104.9h0M223.2 107.0h0M221.8 99.4h0M226.1 108.9h0M225.8 107.6h0M222.8 103.6h0M222.8 106.4h0M225.1 103.9h0M225.6 107.8h0M223.9 103.6h0M223.5 102.8h0M222.7 106.9h0M225.7 108.8h0M226.0 108.6h0M226.0 108.1h0M222.1 104.3h0M224.6 102.2h0M226.6 109.2h0M225.2 103.5h0M223.9 100.4h0M222.3 108.5h0M221.8 100.3h0M225.3 109.1h0M221.9 101.5h0M225.7 99.1h0M225.0 108.3h0M224.0 103.1h0M226.1 106.1h0M226.3 101.9h0M224.7 107.5h0M222.0 104.3h0M224.6 99.8h0M223.7 109.1h0M222.8 104.3h0M226.3 100.7h0M225.3 107.2h0M222.1 108.2h0M222.7 108.2h0M223.3 108.6h0M224.5 108.3h0M223.2 108.6h0M223.8 103.8h0M225.7 104.2h0M222.4 109.0h0M225.2 102.7h0M223.2 107.1h0M226.4 107.4h0M226.4 101.0h0M223.2 102.1h0M224.7 104.3h0M222.1 107.5h0M223.6 108.1h0M224.7 108.8h0M224.8 108.3h0M223.3 105.4h0M221.7 108.4h0M222.1 102.5h0M224.4 106.7h0M222.4 107.5h0M223.1 108.9h0M224.7 103.6h0M226.2 108.5h0M224.2 107.6h0M222.8 99.8h0M224.5 107.3h0M222.9 106.3h0M225.6 101.4h0M222.3 107.8h0M222.9 107.7h0M223.8 108.4h0M226.2 99.6h0M222.4 108.5h0M222.5 109.2h0M222.2 106.7h0M222.6 108.5h0M223.2 109.2h0M223.6 102.9h0M225.5 103.5h0M223.6 102.4h0M224.0 107.4h0M223.6 100.9h0M225.5 109.3h0M226.2 108.8h0M223.7 107.9h0M226.3 99.4h0M222.8 105.1h0M226.6 108.6h0M224.2 105.8h0M225.0 108.5h0M223.5 107.6h0M222.9 107.3h0M222.2 101.8h0M226.1 105.3h0M223.4 107.5h0M225.1 107.7h0M223.9 101.9h0M224.2 108.5h0M222.6 108.8h0M222.4 99.8h0M223.2 109.1h0M225.0 107.9h0M224.3 104.0h0M221.5 109.0h0M225.2 105.1h0M223.8 100.3h0M221.9 107.2h0M222.9 106.0h0M222.6 108.5h0M225.8 107.1h0M224.4 105.9h0M223.2 107.7h0M222.8 108.6h0M223.0 109.2h0M223.0 108.1h0M223.3 108.2h0M225.6 106.0h0M225.6 107.9h0M225.1 109.3h0M226.1 105.6h0M224.9 104.2h0M222.1 107.4h0M221.7 103.9h0M222.4 108.3h0M222.8 101.0h0M224.2 107.4h0M225.8 104.9h0M224.5 105.0h0M223.7 101.9h0M222.8 99.1h0M226.6 108.5h0M225.4 109.2h0M223.3 108.9h0M221.7 108.2h0M226.6 107.4h0M222.8 102.0h0M225.9 102.3h0M222.1 109.1h0M224.9 108.9h0M223.4 108.7h0M226.1 106.3h0M223.0 105.3h0M222.0 106.0h0M222.5 108.9h0M225.7 106.2h0M226.6 108.7h0M224.8 107.2h0M225.0 108.1h0M223.0 104.5h0M222.9 104.3h0M222.0 103.7h0M226.6 108.7h0M221.7 104.8h0M224.7 99.5h0M223.3 108.1h0M222.5 105.7h0M223.8 108.4h0M226.3 103.9h0M222.8 107.5h0M222.4 108.8h0M224.8 103.9h0M224.9 103.2h0M224.2 109.2h0M222.4 107.4h0M226.0 108.8h0M222.1 108.6h0M222.4 107.9h0M222.8 107.5h0M224.2 106.4h0M224.0 105.0h0M224.4 100.5h0M225.3 105.4h0M226.1 107.3h0M223.9 101.7h0M221.7 109.2h0M225.8 103.9h0M221.6 96.1h0M223.2 98.7h0M222.2 97.3h0M224.6 94.8h0M225.6 98.3h0M222.2 97.5h0M223.0 96.3h0M225.9 98.8h0M225.1 93.0h0" stroke="#000" stroke-opacity="0.9" stroke-width="1.0" stroke-linecap="round" fill="none"/>
<text x="215.3" y="122.8" text-anchor="middle" font-family='"Liberation Sans", Arial, Helvetica, sans-serif' font-weight="bold" font-size="6.8" fill="#111" stroke="#111" stroke-width="0.22">COAD</text>
<text x="215.3" y="130.0" text-anchor="middle" font-family='"Liberation Sans", Arial, Helvetica, sans-serif' font-weight="bold" font-size="5.6" fill="#111" stroke="#111" stroke-width="0.28">T(n=275)</text>
<text x="215.3" y="137.0" text-anchor="middle" font-family='"Liberation Sans", Arial, Helvetica, sans-serif' font-weight="bold" font-size="5.6" fill="#111" stroke="#111" stroke-width="0.28">N(n=349)</text>
<path d="M264.50 12.1V50.2M264.50 106.8V109.1" stroke="#666" stroke-width="0.5" stroke-dasharray="1.6 1" fill="none"/>
<path d="M259.90 12.1h9.2M259.90 109.1h9.2" stroke="#3a3a3a" stroke-width="0.8" fill="none"/>
<rect x="256.10" y="50.2" width="16.8" height="56.6" fill="#8a8a8a" stroke="#3a3a3a" stroke-width="0.65"/>
<path d="M256.10 85.7h16.8" stroke="#3a3a3a" stroke-width="0.65" fill="none"/>
<path d="M262.5 108.4h0M266.0 41.1h0M263.9 108.3h0M264.6 88.5h0M264.1 107.7h0M264.2 107.7h0M267.1 69.8h0M266.7 102.6h0M266.7 107.6h0M265.7 20.0h0M265.5 25.4h0M262.6 78.2h0M262.1 54.4h0M266.2 87.8h0M265.4 44.0h0M265.2 97.1h0M263.5 108.4h0M263.3 23.7h0M266.7 44.1h0M264.7 108.6h0M262.0 63.4h0M263.7 88.9h0M263.7 39.2h0M262.3 43.4h0M267.0 96.5h0M266.6 81.5h0M266.1 100.3h0M261.9 103.9h0M264.1 35.3h0M262.5 91.5h0M265.7 23.5h0M266.1 87.5h0M266.0 109.0h0M266.0 108.7h0M262.5 69.9h0M262.0 64.8h0M262.4 53.4h0M266.3 49.2h0M266.2 108.3h0M264.6 78.8h0M263.1 83.2h0M266.4 106.8h0M262.5 108.6h0M263.6 108.0h0M261.9 48.2h0M267.0 82.2h0M264.1 64.3h0M265.9 91.6h0M266.1 24.5h0M264.9 61.0h0M267.0 67.5h0M265.9 42.6h0M266.7 29.4h0M266.9 97.6h0M262.3 36.4h0M265.8 50.2h0M263.1 28.0h0M263.6 103.6h0M263.7 107.6h0M267.0 79.4h0M262.2 106.7h0M264.2 51.8h0M262.6 107.0h0M267.1 61.6h0M264.5 95.1h0M265.5 108.9h0M264.6 35.2h0M265.9 92.2h0M263.7 62.5h0M264.0 14.7h0M265.8 79.5h0M265.6 107.1h0M266.5 88.4h0M263.5 106.5h0M266.3 14.6h0M265.7 107.3h0M264.9 107.4h0M264.0 108.0h0M264.8 99.9h0M262.3 71.4h0M262.4 101.2h0M263.5 75.6h0M262.5 95.5h0M262.2 86.5h0M265.6 98.7h0M265.7 108.8h0M265.1 20.6h0M263.0 38.1h0M265.7 107.4h0M266.2 85.2h0M265.1 106.8h0M263.1 93.1h0M264.8 54.2h0M264.0 43.5h0M263.3 43.8h0M262.7 89.4h0M266.4 33.8h0M265.2 49.7h0M266.7 76.2h0M262.8 15.9h0M263.3 107.7h0M264.5 36.2h0M262.2 46.0h0M263.5 109.0h0M264.7 97.5h0M264.4 97.9h0M266.6 15.3h0M264.9 45.9h0M265.2 50.1h0M264.9 105.6h0M266.0 93.4h0M263.8 58.6h0M261.9 73.4h0M267.0 108.9h0M266.0 108.4h0M262.6 88.7h0M262.5 109.1h0M263.1 39.2h0M265.3 13.9h0M262.6 36.3h0M262.0 96.6h0M264.5 27.2h0M261.9 80.1h0M263.2 97.5h0M263.9 47.3h0M263.0 50.1h0M261.9 70.6h0M263.3 108.9h0M263.2 89.6h0M263.6 98.2h0M264.1 85.8h0M263.8 108.4h0M263.6 107.4h0M262.0 20.2h0M266.3 47.9h0M265.7 108.5h0M264.5 63.1h0M261.9 107.8h0M263.1 108.2h0M266.6 47.1h0M264.3 108.4h0M263.0 107.3h0M266.2 106.5h0M266.5 92.4h0M262.5 89.1h0M264.5 100.5h0M264.8 102.5h0M262.5 107.0h0M263.6 66.3h0M265.1 49.2h0M265.4 74.0h0M265.2 88.4h0M265.1 77.1h0M263.9 95.7h0M262.3 71.8h0M262.0 89.6h0M266.3 97.3h0M266.4 12.4h0M266.6 61.9h0M262.3 108.3h0M265.9 59.0h0M262.8 85.7h0M263.7 105.5h0M262.9 99.5h0M266.4 47.2h0M266.2 106.5h0M266.2 107.5h0M263.9 101.4h0M266.8 83.2h0M263.3 50.3h0M264.9 106.9h0M265.4 86.3h0M263.1 72.7h0M263.9 108.8h0M262.4 106.0h0M266.0 98.8h0M262.9 59.5h0M262.6 50.2h0M263.3 107.5h0M265.2 37.6h0M265.2 107.5h0M264.6 78.9h0" stroke="#000" stroke-opacity="0.9" stroke-width="1.0" stroke-linecap="round" fill="none"/>
<path d="M285.70 73.0V87.2M285.70 97.3V109.1" stroke="#666" stroke-width="0.5" stroke-dasharray="1.6 1" fill="none"/>
<path d="M281.10 73.0h9.2M281.10 109.1h9.2" stroke="#3a3a3a" stroke-width="0.8" fill="none"/>
<rect x="277.30" y="87.2" width="16.8" height="10.1" fill="#fff" stroke="#3a3a3a" stroke-width="0.65"/>
<path d="M277.30 92.1h16.8" stroke="#3a3a3a" stroke-width="0.65" fill="none"/>
<path d="M286.5 78.2h0M284.9 103.6h0M287.8 100.2h0M284.3 98.2h0M284.4 96.7h0M284.1 87.6h0M283.9 104.3h0M286.6 87.3h0M286.1 104.0h0M284.4 87.6h0M287.3 85.7h0M286.6 89.8h0M285.3 97.0h0M286.3 94.3h0M286.5 91.3h0M285.4 77.9h0M283.6 90.7h0M285.0 91.9h0M288.0 78.0h0M285.0 104.0h0M286.4 93.3h0M283.6 85.9h0M287.1 89.6h0M287.6 95.8h0M285.0 92.0h0M285.0 77.3h0M285.8 95.6h0M284.4 97.0h0M284.2 94.0h0M283.8 102.8h0M286.7 88.7h0M285.7 103.0h0M288.1 99.3h0M288.1 93.9h0M287.6 89.8h0M288.0 92.8h0M287.5 103.9h0M283.2 85.3h0M283.8 93.8h0M288.2 89.6h0M287.6 87.2h0M286.3 99.7h0M286.3 94.2h0M285.4 97.1h0M285.3 95.1h0M283.9 80.2h0M286.0 91.3h0M284.5 92.3h0M283.7 82.0h0M287.6 87.5h0M286.1 89.0h0M287.7 88.6h0M284.6 84.3h0M286.1 96.7h0M284.5 100.5h0M287.4 97.2h0M284.2 99.8h0M286.5 87.0h0M286.0 96.2h0M284.8 91.1h0M283.5 107.8h0M285.6 96.3h0M285.8 96.7h0M287.4 93.4h0M284.2 103.2h0M284.1 99.2h0M284.7 81.4h0M287.3 86.5h0M284.3 94.5h0M286.4 100.4h0M283.3 78.7h0M283.5 90.2h0M286.8 74.0h0M285.7 87.4h0M283.7 86.4h0M285.6 98.9h0M288.0 90.1h0M285.1 94.5h0M286.0 105.8h0M285.3 88.7h0M285.7 74.4h0M283.3 73.3h0M287.7 101.9h0M286.1 93.4h0M284.9 91.6h0M284.6 103.3h0M284.1 75.4h0M288.0 92.6h0M287.5 94.8h0M285.1 86.2h0M286.2 97.2h0M286.0 104.5h0M284.1 106.2h0M283.3 96.9h0M286.9 107.7h0M283.9 97.9h0M286.0 98.2h0M283.2 97.2h0M283.2 95.8h0M284.0 103.4h0M286.5 87.7h0M286.3 89.4h0M288.3 96.4h0M286.5 87.8h0M285.8 97.9h0M283.2 95.4h0M288.1 73.7h0M285.6 86.7h0M287.6 78.0h0M283.3 97.3h0M287.4 87.8h0M285.6 98.8h0M284.2 90.3h0M285.2 87.2h0M283.5 108.8h0M286.1 93.5h0M284.2 86.8h0M286.7 75.3h0M284.0 90.2h0M286.7 104.5h0M286.3 91.0h0M286.8 87.8h0M288.0 105.0h0M284.6 98.6h0M286.7 96.2h0M285.2 88.9h0M287.7 81.2h0M287.4 104.0h0M287.1 84.3h0M286.2 95.1h0M284.5 80.3h0M287.8 104.2h0M288.1 94.6h0M288.0 87.3h0M284.9 88.7h0M287.4 91.2h0M286.6 95.4h0M287.5 93.4h0M287.3 89.8h0M285.5 106.3h0M285.2 93.9h0M287.2 96.5h0M286.5 74.4h0M285.9 98.1h0M287.6 87.3h0M283.3 79.6h0M283.2 94.4h0M285.5 88.0h0M283.6 96.2h0M287.5 90.1h0M283.6 99.9h0M287.7 92.3h0M284.3 90.0h0M283.8 81.7h0M287.0 83.0h0M286.6 88.6h0M285.2 97.0h0M286.2 92.1h0M286.0 93.1h0M288.0 89.7h0M285.7 96.9h0M285.9 86.9h0M285.5 105.6h0M285.2 90.4h0M286.7 87.4h0M283.7 96.4h0M286.7 87.4h0M287.9 108.0h0M287.1 88.0h0M285.9 91.7h0M284.9 80.2h0M283.6 86.9h0M283.6 96.3h0M285.9 92.8h0M287.7 79.1h0M287.6 98.1h0M284.1 91.9h0M287.0 91.5h0M287.3 104.1h0M285.6 101.2h0M287.6 102.8h0M284.1 105.0h0M284.8 91.6h0M285.8 87.0h0M286.9 81.9h0M285.4 82.6h0M284.7 105.6h0M287.6 108.9h0M285.1 91.6h0M285.3 93.8h0M284.3 90.7h0M285.6 93.5h0M286.8 95.8h0M285.0 99.2h0M286.5 95.5h0M285.7 100.5h0M283.2 85.5h0M288.1 85.1h0M284.6 103.0h0M285.9 77.7h0M288.1 105.6h0M284.2 89.6h0M283.4 89.8h0M284.2 105.5h0M283.9 101.0h0M287.5 81.5h0M285.8 90.7h0M283.3 94.1h0M284.5 87.3h0M285.8 92.3h0M284.0 75.0h0M284.7 88.0h0M287.8 85.3h0M285.4 80.1h0M284.3 90.8h0M286.2 96.4h0M283.7 90.9h0M285.8 85.6h0M286.5 94.0h0M283.6 107.6h0M286.0 89.6h0M284.7 91.5h0M287.0 101.5h0M286.3 89.8h0M287.8 93.4h0M286.3 105.2h0M284.1 97.0h0M284.1 73.7h0M286.8 94.8h0M287.3 101.5h0M283.4 103.2h0M285.3 78.0h0M284.6 93.5h0M285.5 87.1h0M287.6 76.1h0M286.0 108.5h0M287.0 89.1h0M287.1 95.3h0M284.5 91.5h0M286.3 84.8h0M285.1 106.5h0M285.6 90.4h0M285.9 98.2h0M286.6 84.4h0M284.0 97.2h0M287.5 104.8h0M283.9 103.9h0M284.7 88.0h0M287.5 73.7h0M288.2 77.4h0M285.0 78.9h0M288.1 91.2h0M283.3 80.4h0M288.1 88.1h0M284.1 93.8h0M283.3 77.6h0M287.1 97.3h0M283.9 98.0h0M287.0 92.5h0M283.1 84.4h0M283.7 96.5h0M285.0 90.3h0M283.5 94.5h0M285.5 85.4h0M284.9 89.5h0M286.9 99.0h0M285.7 91.1h0M288.1 92.4h0M287.5 86.6h0M284.0 87.1h0M287.9 87.9h0M287.8 94.3h0M286.0 83.4h0M285.8 94.2h0M284.0 88.6h0M284.8 86.2h0M284.2 103.8h0M284.1 95.9h0M286.3 105.3h0M284.8 96.9h0M287.1 94.4h0M286.1 94.9h0M287.4 95.6h0M283.6 95.8h0M287.5 94.5h0M285.7 90.7h0M286.4 64.1h0M284.3 69.1h0M286.7 72.8h0M285.2 72.7h0M286.9 72.5h0M286.1 72.3h0M283.8 72.3h0M284.7 52.0h0" stroke="#000" stroke-opacity="0.9" stroke-width="1.0" stroke-linecap="round" fill="none"/>
<text x="276.2" y="122.8" text-anchor="middle" font-family='"Liberation Sans", Arial, Helvetica, sans-serif' font-weight="bold" font-size="6.8" fill="#111" stroke="#111" stroke-width="0.22">ESCA</text>
<text x="276.2" y="130.0" text-anchor="middle" font-family='"Liberation Sans", Arial, Helvetica, sans-serif' font-weight="bold" font-size="5.6" fill="#111" stroke="#111" stroke-width="0.28">T(n=182)</text>
<text x="276.2" y="137.0" text-anchor="middle" font-family='"Liberation Sans", Arial, Helvetica, sans-serif' font-weight="bold" font-size="5.6" fill="#111" stroke="#111" stroke-width="0.28">N(n=286)</text>
<path d="M326.10 74.5V93.2M326.10 106.5V109.1" stroke="#666" stroke-width="0.5" stroke-dasharray="1.6 1" fill="none"/>
<path d="M321.50 74.5h9.2M321.50 109.1h9.2" stroke="#3a3a3a" stroke-width="0.8" fill="none"/>
<rect x="317.70" y="93.2" width="16.8" height="13.3" fill="#8a8a8a" stroke="#3a3a3a" stroke-width="0.65"/>
<path d="M317.70 101.6h16.8" stroke="#3a3a3a" stroke-width="0.65" fill="none"/>
<path d="M326.2 93.2h0M326.9 97.8h0M328.3 96.0h0M326.9 103.9h0M326.2 93.8h0M327.5 95.4h0M326.0 95.4h0M323.7 107.1h0M326.3 89.5h0M325.7 81.8h0M325.2 104.3h0M325.5 108.9h0M324.7 94.1h0M325.1 97.4h0M327.4 95.6h0M328.1 84.4h0M325.9 108.6h0M327.9 90.4h0M324.2 100.4h0M326.2 92.9h0M327.4 91.2h0M327.6 83.0h0M325.5 106.0h0M324.4 74.7h0M328.5 85.5h0M326.7 98.8h0M326.9 104.0h0M325.3 95.0h0M324.1 105.7h0M326.5 82.7h0M325.6 97.5h0M328.1 98.8h0M326.9 107.7h0M327.4 91.7h0M326.5 102.0h0M327.4 105.6h0M324.2 108.6h0M328.7 78.3h0M326.5 106.2h0M326.6 103.8h0M324.5 86.1h0M324.0 94.1h0M327.2 107.2h0M327.3 108.6h0M327.0 109.0h0M324.8 94.8h0M326.0 95.9h0M327.5 93.8h0M326.8 80.4h0M328.2 99.0h0M324.0 102.2h0M327.5 105.2h0M323.6 94.3h0M326.8 107.7h0M326.3 106.6h0M323.9 102.3h0M325.7 92.5h0M327.0 99.9h0M328.0 104.3h0M323.9 84.6h0M326.2 106.4h0M327.6 106.3h0M324.1 103.7h0M328.1 104.8h0M328.4 82.9h0M325.3 109.1h0M324.6 97.5h0M324.3 92.7h0M324.6 99.8h0M325.7 83.3h0M327.2 107.7h0M328.4 104.6h0M326.4 103.8h0M328.5 98.1h0M325.7 90.7h0M326.9 102.5h0M323.5 108.7h0M325.7 92.5h0M323.6 106.0h0M324.2 75.1h0M327.7 90.4h0M324.1 107.1h0M325.1 93.3h0M326.2 103.9h0M326.2 94.5h0M323.7 107.4h0M324.1 106.8h0M327.0 108.6h0M325.6 93.1h0M324.0 79.0h0M326.0 95.7h0M325.4 92.9h0M328.7 109.0h0M323.7 108.9h0M324.4 93.1h0M323.9 108.2h0M326.4 108.2h0M328.5 95.1h0M327.5 102.6h0M324.1 84.3h0M326.3 98.4h0M325.4 108.8h0M328.6 86.7h0M327.2 97.3h0M326.6 86.4h0M324.8 104.1h0M325.8 106.5h0M326.2 100.5h0M325.5 95.0h0M326.4 98.1h0M324.0 97.1h0M325.7 99.0h0M328.6 86.7h0M325.6 83.1h0M326.1 107.2h0M327.4 103.3h0M327.7 103.0h0M327.3 81.8h0M325.5 105.0h0M327.2 92.2h0M324.5 101.3h0M326.7 105.9h0M323.6 90.2h0M324.5 108.6h0M324.4 103.3h0M325.3 105.2h0M327.3 76.9h0M323.6 92.0h0M328.1 101.6h0M324.0 107.4h0M328.4 107.7h0M328.4 108.2h0M326.7 102.8h0M327.9 96.0h0M328.4 108.7h0M325.8 78.0h0M328.0 102.9h0M323.7 94.4h0M327.6 83.7h0M326.9 93.6h0M327.5 103.7h0M324.3 92.4h0M323.9 93.9h0M326.2 81.5h0M326.7 81.4h0M327.1 107.1h0M324.4 107.9h0M326.5 107.0h0M328.5 108.9h0M324.8 90.7h0M327.8 92.2h0M328.5 107.5h0M327.0 92.7h0M325.8 86.1h0M325.7 89.9h0M325.9 106.8h0M324.1 97.5h0M323.9 91.8h0M325.0 102.6h0M324.4 82.6h0M328.2 108.4h0M325.4 107.7h0M328.1 105.3h0M326.4 65.1h0M328.2 66.0h0M328.2 73.8h0M327.2 74.5h0M325.8 67.0h0M324.8 65.7h0M326.4 74.5h0M325.1 61.7h0M327.8 59.8h0M323.7 72.1h0M326.8 56.3h0" stroke="#000" stroke-opacity="0.9" stroke-width="1.0" stroke-linecap="round" fill="none"/>
<path d="M347.30 58.9V71.3M347.30 82.6V97.6" stroke="#666" stroke-width="0.5" stroke-dasharray="1.6 1" fill="none"/>
<path d="M342.70 58.9h9.2M342.70 97.6h9.2" stroke="#3a3a3a" stroke-width="0.8" fill="none"/>
<rect x="338.90" y="71.3" width="16.8" height="11.3" fill="#fff" stroke="#3a3a3a" stroke-width="0.65"/>
<path d="M338.90 76.5h16.8" stroke="#3a3a3a" stroke-width="0.65" fill="none"/>
<path d="M348.5 79.1h0M349.0 76.4h0M346.6 68.9h0M346.9 59.8h0M346.6 74.2h0M346.5 94.4h0M346.8 81.1h0M349.1 65.5h0M345.0 74.2h0M349.8 89.5h0M348.8 85.3h0M347.6 68.7h0M348.0 89.1h0M346.3 91.7h0M348.7 85.9h0M349.2 76.1h0M346.7 93.3h0M347.3 73.8h0M345.8 76.6h0M346.0 79.7h0M349.1 82.6h0M348.0 81.7h0M347.0 62.7h0M348.0 79.5h0M345.7 70.9h0M344.7 82.8h0M346.6 79.3h0M347.7 60.2h0M345.7 79.5h0M347.5 93.9h0M346.4 72.2h0M346.1 71.2h0M348.5 89.8h0M346.6 70.8h0M348.6 81.3h0M348.6 82.2h0M346.7 86.2h0M344.9 81.7h0M349.1 92.7h0M347.6 59.4h0M347.7 71.2h0M348.3 77.8h0M347.6 86.2h0M349.4 74.3h0M344.7 86.9h0M349.7 96.5h0M347.9 67.6h0M346.8 59.3h0M349.4 86.4h0M349.4 92.0h0M347.8 74.0h0M344.7 66.8h0M347.9 80.6h0M346.8 71.2h0M347.7 77.4h0M349.0 73.5h0M345.4 64.8h0M349.1 66.1h0M346.3 76.4h0M346.0 69.1h0M344.9 96.4h0M345.3 96.4h0M346.1 64.9h0M347.5 65.7h0M349.6 74.4h0M345.6 83.8h0M346.2 73.6h0M346.6 91.0h0M348.0 78.1h0M346.5 65.6h0M348.2 75.5h0M345.5 79.3h0M344.9 78.7h0M347.7 61.1h0M348.5 80.8h0M345.4 82.7h0M344.9 75.3h0M348.2 82.6h0M345.0 73.0h0M349.5 61.9h0M348.3 96.3h0M345.5 78.2h0M346.8 79.7h0M345.0 72.8h0M345.2 92.1h0M346.5 74.9h0M349.3 81.7h0M349.4 84.5h0M348.6 90.9h0M348.0 72.5h0M347.7 71.3h0M347.4 97.0h0M348.1 71.1h0M347.3 73.9h0M346.8 75.7h0M349.1 76.2h0M346.3 76.1h0M346.8 94.9h0M348.2 82.1h0M349.7 59.6h0M346.5 68.5h0M347.0 75.4h0M346.8 90.7h0M345.8 75.0h0M346.5 80.2h0M348.8 73.3h0M345.7 76.0h0M347.2 79.7h0M346.2 81.6h0M347.7 78.2h0M348.7 80.5h0M345.3 97.3h0M347.2 75.1h0M345.7 76.7h0M348.1 80.0h0M348.2 97.3h0M345.9 73.7h0M345.9 86.3h0M346.3 80.5h0M346.4 89.9h0M349.3 79.9h0M349.2 74.0h0M348.8 65.5h0M346.7 92.5h0M347.1 81.1h0M345.7 69.0h0M347.1 70.1h0M349.6 71.3h0M345.2 67.9h0M346.8 79.5h0M345.7 77.9h0M349.1 74.6h0M346.3 86.7h0M347.2 69.7h0M345.0 80.0h0M348.3 82.3h0M347.4 70.8h0M348.9 85.2h0M348.5 78.2h0M348.6 75.9h0M346.1 83.0h0M346.0 87.2h0M347.8 89.1h0M345.0 80.9h0M349.6 59.3h0M348.4 80.4h0M347.3 91.8h0M346.6 61.1h0M345.1 85.1h0M347.6 64.3h0M348.7 71.1h0M345.3 71.4h0M345.2 75.4h0M348.3 76.5h0M347.1 76.5h0M348.8 73.2h0M346.8 81.5h0M349.8 68.8h0M349.2 97.5h0M346.4 79.2h0M347.5 80.9h0M347.8 67.6h0M347.0 68.4h0M349.0 81.4h0M348.4 63.4h0M349.0 75.6h0M346.0 59.8h0M347.3 73.3h0M347.5 90.5h0M347.7 76.5h0M344.8 69.4h0M348.9 71.3h0M347.0 81.3h0M345.5 74.8h0M349.1 77.1h0M347.6 63.3h0M348.5 79.9h0M348.5 67.3h0M347.9 79.5h0M349.5 75.1h0M345.0 81.2h0M346.4 80.6h0M345.6 82.0h0M348.0 63.0h0M345.8 78.6h0M344.8 80.2h0M345.4 90.8h0M345.6 71.1h0M347.5 66.2h0M347.1 63.9h0M347.1 75.2h0M344.8 77.2h0M347.4 61.2h0M346.0 72.4h0M345.2 79.6h0M345.0 79.5h0M345.5 82.5h0M346.8 76.4h0M345.6 70.5h0M347.1 68.7h0M345.6 74.2h0M348.5 72.9h0M349.3 73.2h0M346.4 67.3h0M345.1 76.5h0M349.7 76.5h0M345.1 66.9h0M348.1 105.4h0M348.6 107.6h0M347.2 108.4h0M349.3 102.3h0M345.5 109.5h0M348.4 102.3h0" stroke="#000" stroke-opacity="0.9" stroke-width="1.0" stroke-linecap="round" fill="none"/>
<text x="336.8" y="122.8" text-anchor="middle" font-family='"Liberation Sans", Arial, Helvetica, sans-serif' font-weight="bold" font-size="6.8" fill="#111" stroke="#111" stroke-width="0.22">GBM</text>
<text x="336.8" y="130.0" text-anchor="middle" font-family='"Liberation Sans", Arial, Helvetica, sans-serif' font-weight="bold" font-size="5.6" fill="#111" stroke="#111" stroke-width="0.28">T(n=163)</text>
<text x="336.8" y="137.0" text-anchor="middle" font-family='"Liberation Sans", Arial, Helvetica, sans-serif' font-weight="bold" font-size="5.6" fill="#111" stroke="#111" stroke-width="0.28">N(n=207)</text>
<path d="M387.70 20.2V45.0M387.70 72.5V109.1" stroke="#666" stroke-width="0.5" stroke-dasharray="1.6 1" fill="none"/>
<path d="M383.10 20.2h9.2M383.10 109.1h9.2" stroke="#3a3a3a" stroke-width="0.8" fill="none"/>
<rect x="379.30" y="45.0" width="16.8" height="27.5" fill="#8a8a8a" stroke="#3a3a3a" stroke-width="0.65"/>
<path d="M379.30 55.4h16.8" stroke="#3a3a3a" stroke-width="0.65" fill="none"/>
<path d="M388.6 24.2h0M389.2 38.4h0M390.2 53.8h0M386.8 59.8h0M385.5 80.0h0M386.2 106.5h0M385.1 61.4h0M386.5 31.3h0M388.3 57.2h0M389.7 60.4h0M385.6 38.8h0M386.5 41.9h0M389.7 105.4h0M388.2 101.3h0M387.2 48.0h0M385.5 38.6h0M385.4 35.2h0M386.2 22.9h0M388.3 67.2h0M385.4 51.8h0M387.7 97.7h0M389.4 43.2h0M385.1 75.0h0M386.6 46.1h0M387.2 38.9h0M388.3 29.9h0M388.9 58.5h0M388.6 65.8h0M387.4 24.3h0M386.9 55.8h0M388.4 52.1h0M387.5 53.4h0M389.9 33.3h0M387.9 44.1h0M388.1 32.0h0M388.6 78.7h0M387.6 48.2h0M387.7 41.8h0M388.6 64.0h0M388.2 41.3h0M390.3 30.2h0M386.7 54.8h0M387.7 29.4h0M390.2 45.5h0M389.3 96.3h0M388.0 96.0h0M386.7 62.0h0M386.0 26.2h0M387.3 49.6h0M387.3 55.2h0M387.3 33.8h0M386.4 105.5h0M387.6 76.8h0M388.1 47.0h0M385.6 31.4h0M388.5 105.7h0M388.8 32.3h0M386.1 27.6h0M386.4 69.5h0M385.3 31.1h0M387.6 86.1h0M388.6 48.8h0M387.2 89.2h0M388.2 89.9h0M388.2 99.1h0M385.3 106.7h0M385.4 95.6h0M387.7 47.1h0M389.9 50.7h0M388.8 46.9h0M387.4 69.7h0M386.5 47.5h0M385.8 70.4h0M388.5 90.0h0M389.1 49.5h0M387.1 76.4h0M385.5 38.0h0M386.5 63.1h0M388.8 75.5h0M389.1 29.0h0M387.2 84.1h0M389.7 84.1h0M387.1 52.8h0M385.2 53.8h0M386.2 35.0h0M389.7 77.4h0M388.8 46.4h0M385.6 44.8h0M386.6 108.9h0M387.2 64.9h0M387.6 46.2h0M385.2 61.7h0M389.9 53.1h0M387.9 46.9h0M386.5 71.1h0M385.3 85.3h0M388.1 55.4h0M390.0 97.8h0M388.8 64.4h0M389.6 44.4h0M389.6 48.3h0M388.6 30.5h0M385.4 58.0h0M386.7 31.0h0M388.1 52.8h0M387.3 42.4h0M386.2 53.4h0M385.5 70.8h0M389.6 71.7h0M388.6 55.1h0M386.7 28.3h0M387.5 63.2h0M389.6 53.4h0M385.8 70.8h0M388.4 91.6h0M386.3 78.8h0M389.8 56.2h0M389.3 51.4h0M390.0 69.0h0M387.1 52.1h0M387.7 84.6h0M386.8 78.4h0M386.9 44.0h0M390.1 48.9h0M390.1 54.1h0M390.3 21.6h0M389.8 39.3h0M387.6 28.9h0M388.5 61.0h0M389.8 53.8h0M387.3 105.1h0M389.9 51.2h0M389.2 61.9h0M386.6 67.6h0M387.0 67.6h0M388.7 44.5h0M386.0 106.9h0M386.4 102.3h0M386.1 59.2h0M385.7 88.2h0M389.8 45.6h0M390.3 83.0h0M389.4 29.3h0M387.7 62.3h0M389.0 67.5h0M388.7 61.5h0M387.4 47.5h0M387.8 68.2h0M385.8 45.6h0M386.4 65.2h0M386.9 86.7h0M387.0 48.8h0M388.5 104.5h0M386.4 105.7h0M386.3 92.8h0M389.6 49.3h0M389.2 54.2h0M389.9 56.4h0M389.2 104.6h0M386.1 52.8h0M387.6 60.9h0M389.4 50.9h0M389.3 43.7h0M386.3 67.2h0M387.6 37.7h0M388.2 44.3h0M385.2 48.4h0M386.4 48.1h0M389.0 82.3h0M388.6 52.4h0M387.4 39.0h0M388.1 102.1h0M387.8 67.7h0M386.9 63.0h0M385.5 80.8h0M389.0 49.8h0M389.1 27.4h0M387.4 55.2h0M389.1 87.2h0M389.4 45.6h0M388.7 43.8h0M389.3 47.8h0M390.1 63.4h0M385.3 58.3h0M390.0 51.5h0M387.5 108.1h0M389.1 80.7h0M388.9 61.6h0M385.6 70.8h0M388.1 93.5h0M385.6 47.7h0M388.9 63.0h0M386.9 28.4h0M387.1 56.6h0M386.5 69.4h0M389.3 62.1h0M388.4 45.4h0M386.7 52.1h0M389.0 87.8h0M386.1 42.1h0M389.3 48.6h0M388.2 49.1h0M389.1 71.2h0M388.3 55.4h0M390.2 63.4h0M388.7 70.2h0M387.5 67.0h0M388.2 92.3h0M388.0 71.0h0M386.6 71.7h0M386.7 48.5h0M389.3 54.7h0M389.4 53.6h0M390.1 51.4h0M388.7 102.9h0M387.7 51.7h0M387.2 68.4h0M388.8 48.3h0M388.5 28.6h0M390.0 53.7h0M389.0 49.0h0M387.1 23.8h0M386.5 49.5h0M385.3 45.5h0M389.2 26.6h0M387.3 49.8h0M387.2 44.9h0M385.4 59.7h0M387.7 48.7h0M389.8 54.3h0M386.5 57.4h0M389.0 103.1h0M389.0 62.9h0M388.5 76.3h0M388.2 105.3h0M386.4 84.3h0M388.6 65.2h0M388.1 96.1h0M390.1 55.2h0M387.8 83.3h0M386.9 83.1h0M389.8 73.6h0M388.3 41.8h0M386.9 53.5h0M388.5 44.9h0M385.9 53.9h0M386.1 51.3h0M389.7 69.5h0M387.5 48.7h0M389.3 63.5h0M386.2 97.1h0M387.5 32.4h0M386.3 87.3h0M389.3 44.0h0M388.2 52.1h0M387.1 48.4h0M387.1 98.3h0M386.2 94.5h0M386.2 52.5h0M388.7 108.1h0M386.7 54.1h0M385.6 98.9h0M387.1 67.4h0M387.5 49.3h0M390.2 38.4h0M387.1 67.6h0M387.2 105.3h0M390.2 70.6h0M388.8 77.0h0M387.5 47.5h0M387.2 58.8h0M386.3 52.7h0M385.9 46.4h0M387.6 93.8h0M388.4 98.7h0M385.7 54.7h0M387.6 32.4h0M386.0 36.6h0M388.2 56.4h0M386.9 51.9h0M388.6 50.3h0M389.2 71.1h0M387.2 57.8h0M387.1 29.0h0M385.5 20.8h0M386.2 58.1h0M388.3 63.8h0M389.3 68.8h0M385.8 72.0h0M390.2 82.9h0M389.9 42.6h0M387.0 47.8h0M387.9 63.4h0M388.6 102.6h0M386.8 23.1h0M387.0 73.4h0M388.9 68.1h0M387.6 55.0h0M387.4 31.5h0M388.0 62.3h0M385.7 86.9h0M387.5 41.1h0M386.6 92.2h0M386.0 32.7h0M387.8 88.3h0M388.8 102.2h0M387.8 63.0h0M387.7 41.4h0M388.6 72.2h0M387.3 64.6h0M390.2 48.5h0M386.2 49.4h0M385.1 35.3h0M388.1 51.0h0M388.7 49.1h0M387.1 85.8h0M387.2 55.6h0M386.9 36.2h0M386.4 67.4h0M389.2 77.1h0M389.6 45.4h0M386.6 36.6h0M388.0 25.5h0M387.5 61.3h0M385.8 68.6h0M388.9 67.7h0M387.9 29.4h0M390.3 52.7h0M389.8 65.3h0M389.8 71.4h0M386.5 35.0h0M385.7 46.1h0M389.3 54.7h0M385.7 100.9h0M388.7 67.6h0M386.0 65.6h0M388.8 44.9h0M385.4 36.2h0M385.6 83.7h0M389.6 52.7h0M387.8 75.1h0M387.4 95.7h0M390.2 68.4h0M389.2 48.8h0M386.3 46.5h0M388.8 51.7h0M387.1 96.9h0M387.5 108.1h0M386.7 54.6h0M386.3 47.2h0M386.7 51.4h0M386.5 67.2h0M386.1 31.6h0M389.6 107.8h0M387.1 38.5h0M388.0 20.5h0M389.3 58.7h0M388.6 90.4h0M385.9 81.2h0M390.1 45.2h0M389.9 49.2h0M389.5 47.7h0M386.8 59.0h0M389.4 104.1h0M388.4 60.4h0M385.3 39.9h0M387.1 46.5h0M388.7 70.4h0M387.9 27.0h0M390.0 42.6h0M389.2 77.3h0M389.4 50.7h0M390.2 67.6h0M386.9 94.8h0M389.8 57.8h0M385.1 43.3h0M389.3 29.0h0M385.6 63.2h0M387.7 77.6h0M387.4 48.9h0M385.5 48.8h0M388.4 58.2h0M389.2 38.5h0M386.3 104.5h0M386.4 80.9h0M389.1 93.0h0M387.8 44.9h0M385.2 30.9h0M386.7 38.8h0M390.0 57.0h0M386.5 70.3h0M386.6 70.8h0M387.4 23.3h0M389.7 88.0h0M389.3 41.2h0M387.1 73.3h0M388.6 50.7h0M385.2 82.0h0M385.4 46.8h0M387.0 25.1h0M388.4 57.6h0M385.8 48.1h0M385.3 98.5h0M389.5 47.8h0M386.1 99.0h0M385.4 40.3h0M385.5 47.3h0M385.5 65.3h0M386.6 65.7h0M388.1 45.5h0M388.5 87.7h0M386.6 92.5h0M387.8 51.5h0M386.8 33.8h0M388.1 44.2h0M385.7 22.9h0M388.3 53.6h0M385.1 49.5h0M389.9 90.1h0M386.2 53.3h0M388.0 36.3h0M386.1 39.9h0M387.4 88.1h0M386.5 53.0h0M388.4 73.4h0M389.2 47.0h0M389.5 35.0h0M390.2 91.6h0M387.5 42.7h0M388.0 44.8h0M386.9 94.3h0M386.6 51.3h0M387.7 43.1h0M390.2 92.2h0M385.4 62.2h0M389.0 70.5h0M386.8 67.2h0M388.2 48.0h0M386.5 42.2h0M388.8 58.7h0M387.7 52.2h0M386.7 57.4h0M387.4 48.5h0M385.1 51.8h0M385.6 74.2h0M389.8 25.2h0M385.5 80.7h0M387.2 69.6h0M388.6 71.8h0M385.3 105.6h0M389.9 94.5h0M386.2 30.3h0M390.1 40.3h0M387.4 23.9h0M388.1 68.6h0M388.2 42.9h0M385.6 68.6h0M387.7 54.5h0M389.0 63.1h0M389.2 82.5h0M388.9 42.1h0M388.6 27.5h0M385.8 48.1h0M387.2 76.8h0M387.7 21.8h0M385.3 41.8h0M389.1 38.3h0M385.6 70.9h0M388.0 31.7h0M386.5 57.2h0M385.9 82.1h0M390.1 93.4h0M388.3 59.1h0M388.9 40.0h0M388.3 72.8h0M388.0 45.3h0M389.6 45.3h0M385.4 66.0h0M387.1 47.2h0M386.2 21.3h0M388.2 22.8h0M387.2 40.0h0M389.9 49.3h0M386.3 43.6h0M386.5 89.0h0M389.9 55.3h0M388.8 55.5h0M387.3 70.4h0M387.0 91.5h0M388.9 53.7h0M385.9 65.8h0M388.9 21.3h0M386.3 48.5h0M389.3 52.6h0M385.5 52.0h0M389.9 67.6h0M389.6 59.4h0M385.2 92.8h0M385.9 82.8h0M389.9 61.8h0M389.4 72.1h0M386.6 50.7h0M389.3 64.8h0M388.1 36.2h0M386.4 48.7h0M388.7 80.3h0M387.3 82.9h0M385.8 87.7h0M389.5 46.2h0M388.8 38.0h0M386.4 49.5h0M387.3 31.6h0M388.7 92.6h0M387.0 68.2h0M386.4 59.2h0M387.8 108.6h0M390.0 81.7h0M385.6 44.8h0M386.4 62.8h0" stroke="#000" stroke-opacity="0.9" stroke-width="1.0" stroke-linecap="round" fill="none"/>
<path d="M408.90 51.4V73.6M408.90 97.9V107.7" stroke="#666" stroke-width="0.5" stroke-dasharray="1.6 1" fill="none"/>
<path d="M404.30 51.4h9.2M404.30 107.7h9.2" stroke="#3a3a3a" stroke-width="0.8" fill="none"/>
<rect x="400.50" y="73.6" width="16.8" height="24.3" fill="#fff" stroke="#3a3a3a" stroke-width="0.65"/>
<path d="M400.50 84.3h16.8" stroke="#3a3a3a" stroke-width="0.65" fill="none"/>
<path d="M408.6 97.7h0M409.3 73.6h0M408.0 75.1h0M410.6 99.2h0M409.9 97.8h0M406.7 69.1h0M410.0 61.4h0M407.0 106.7h0M408.8 97.6h0M407.3 106.7h0M408.8 79.1h0M409.7 102.7h0M410.1 64.9h0M408.0 65.5h0M406.6 72.7h0M408.6 80.0h0M411.1 69.7h0M409.2 95.4h0M409.5 89.4h0M410.3 62.5h0M409.6 84.5h0M411.2 68.2h0M411.3 101.7h0M410.1 106.1h0M410.5 52.6h0M407.0 75.3h0M407.7 97.8h0M410.0 101.3h0M409.3 99.6h0M410.8 92.7h0M410.3 106.4h0M408.0 86.7h0M407.2 103.0h0M409.7 91.1h0M406.9 101.4h0M408.9 74.5h0M407.7 82.6h0M408.4 75.0h0M409.7 74.5h0M409.6 98.0h0M409.5 75.5h0M406.6 85.9h0M410.9 72.6h0M410.0 82.2h0" stroke="#000" stroke-opacity="0.9" stroke-width="1.0" stroke-linecap="round" fill="none"/>
<text x="397.0" y="122.8" text-anchor="middle" font-family='"Liberation Sans", Arial, Helvetica, sans-serif' font-weight="bold" font-size="6.8" fill="#111" stroke="#111" stroke-width="0.22">HNSC</text>
<text x="397.0" y="130.0" text-anchor="middle" font-family='"Liberation Sans", Arial, Helvetica, sans-serif' font-weight="bold" font-size="5.6" fill="#111" stroke="#111" stroke-width="0.28">T(n=519)</text>
<text x="397.0" y="137.0" text-anchor="middle" font-family='"Liberation Sans", Arial, Helvetica, sans-serif' font-weight="bold" font-size="5.6" fill="#111" stroke="#111" stroke-width="0.28">N(n=44)</text>
<path d="M449.30 101.6V105.9M449.30 109.1V109.3" stroke="#666" stroke-width="0.5" stroke-dasharray="1.6 1" fill="none"/>
<path d="M444.70 101.6h9.2M444.70 109.3h9.2" stroke="#3a3a3a" stroke-width="0.8" fill="none"/>
<rect x="440.90" y="105.9" width="16.8" height="3.2" fill="#8a8a8a" stroke="#3a3a3a" stroke-width="0.65"/>
<path d="M440.90 108.0h16.8" stroke="#3a3a3a" stroke-width="0.65" fill="none"/>
<path d="M451.3 103.9h0M449.8 107.8h0M450.0 107.2h0M446.8 109.1h0M447.8 107.7h0M450.8 108.2h0M446.8 108.9h0M447.7 105.7h0M447.1 109.1h0M449.7 106.4h0M447.4 104.9h0M450.8 109.2h0M449.0 109.3h0M450.8 109.2h0M451.4 108.0h0M451.8 109.3h0M447.7 104.8h0M448.6 102.2h0M450.8 103.3h0M448.4 107.0h0M451.6 107.2h0M448.4 105.6h0M450.0 103.2h0M448.0 108.9h0M450.5 108.4h0M448.2 107.9h0M448.9 109.3h0M450.5 107.8h0M451.0 108.7h0M447.4 102.4h0M447.6 107.7h0M447.8 107.1h0M450.7 109.2h0M450.2 102.0h0M450.4 109.2h0M450.9 109.3h0M447.9 109.3h0M449.3 109.2h0M446.7 105.7h0M448.5 106.5h0M449.8 105.8h0M448.1 106.4h0M450.8 105.2h0M447.8 106.0h0M449.0 103.8h0M450.3 103.2h0M447.9 109.2h0M450.2 108.2h0M448.8 103.7h0M447.0 108.1h0M447.2 106.0h0M450.1 109.1h0M451.0 109.2h0M450.2 109.1h0M451.2 108.9h0M450.2 107.3h0M450.7 106.2h0M451.1 102.1h0M449.8 106.3h0M449.5 109.2h0M447.5 105.2h0M447.9 108.6h0M447.1 109.3h0M447.3 105.2h0M448.7 109.3h0M448.2 103.1h0M449.6 99.4h0M451.0 91.5h0M448.1 94.8h0M451.4 101.3h0M451.0 91.2h0M447.7 94.2h0M449.8 99.6h0M447.7 61.5h0M447.0 61.5h0" stroke="#000" stroke-opacity="0.9" stroke-width="1.0" stroke-linecap="round" fill="none"/>
<path d="M470.50 89.5V99.6M470.50 108.0V109.3" stroke="#666" stroke-width="0.5" stroke-dasharray="1.6 1" fill="none"/>
<path d="M465.90 89.5h9.2M465.90 109.3h9.2" stroke="#3a3a3a" stroke-width="0.8" fill="none"/>
<rect x="462.10" y="99.6" width="16.8" height="8.4" fill="#fff" stroke="#3a3a3a" stroke-width="0.65"/>
<path d="M462.10 104.5h16.8" stroke="#3a3a3a" stroke-width="0.65" fill="none"/>
<path d="M469.3 108.3h0M468.6 108.0h0M470.7 91.6h0M469.4 99.4h0M470.9 109.1h0M471.6 105.7h0M469.1 102.2h0M468.6 105.0h0M470.6 108.9h0M470.0 99.5h0M470.2 108.7h0M469.8 106.2h0M468.8 100.9h0M468.5 108.5h0M471.7 99.2h0M471.2 103.6h0M471.5 101.3h0M471.2 92.8h0M470.6 98.1h0M468.9 106.1h0M472.7 94.9h0M470.7 102.1h0M470.3 97.7h0M469.3 108.2h0M469.9 108.1h0M473.0 95.7h0M470.0 96.7h0M472.1 100.7h0M468.5 97.1h0M471.0 107.1h0M469.3 89.5h0M469.1 106.0h0M469.5 97.0h0M470.0 108.6h0M471.2 105.4h0M470.0 97.7h0M472.4 101.1h0M468.7 109.0h0M472.3 93.8h0M470.2 100.5h0M472.0 103.7h0M470.0 95.2h0M469.2 100.4h0M472.6 109.1h0M471.2 108.3h0M471.7 107.0h0M470.6 103.8h0M471.6 98.3h0M472.9 108.2h0M471.8 104.9h0M472.9 95.4h0M469.7 104.7h0M469.4 98.5h0M472.5 86.1h0M472.2 89.3h0M472.5 83.7h0" stroke="#000" stroke-opacity="0.9" stroke-width="1.0" stroke-linecap="round" fill="none"/>
<text x="459.5" y="122.8" text-anchor="middle" font-family='"Liberation Sans", Arial, Helvetica, sans-serif' font-weight="bold" font-size="6.8" fill="#111" stroke="#111" stroke-width="0.22">KICH</text>
<text x="459.5" y="130.0" text-anchor="middle" font-family='"Liberation Sans", Arial, Helvetica, sans-serif' font-weight="bold" font-size="5.6" fill="#111" stroke="#111" stroke-width="0.28">T(n=66)</text>
<text x="459.5" y="137.0" text-anchor="middle" font-family='"Liberation Sans", Arial, Helvetica, sans-serif' font-weight="bold" font-size="5.6" fill="#111" stroke="#111" stroke-width="0.28">N(n=53)</text>
<path d="M510.90 94.1V102.5M510.90 108.0V109.3" stroke="#666" stroke-width="0.5" stroke-dasharray="1.6 1" fill="none"/>
<path d="M506.30 94.1h9.2M506.30 109.3h9.2" stroke="#3a3a3a" stroke-width="0.8" fill="none"/>
<rect x="502.50" y="102.5" width="16.8" height="5.5" fill="#8a8a8a" stroke="#3a3a3a" stroke-width="0.65"/>
<path d="M502.50 106.0h16.8" stroke="#3a3a3a" stroke-width="0.65" fill="none"/>
<path d="M508.4 106.8h0M511.0 101.8h0M512.8 108.2h0M511.7 106.8h0M512.7 106.9h0M511.6 108.4h0M513.5 102.7h0M508.5 107.8h0M510.5 105.8h0M509.3 99.8h0M512.2 108.1h0M509.8 105.4h0M511.8 106.3h0M511.7 99.4h0M508.4 106.3h0M511.5 104.5h0M510.0 105.7h0M509.6 109.1h0M511.7 106.8h0M511.6 107.6h0M509.4 106.1h0M512.0 106.3h0M508.7 108.1h0M508.6 106.9h0M512.9 108.2h0M513.1 99.3h0M513.2 99.3h0M513.5 97.8h0M512.2 106.1h0M511.3 109.0h0M511.1 103.5h0M511.1 108.8h0M513.2 101.6h0M513.3 99.4h0M510.6 108.2h0M509.3 105.7h0M511.1 108.3h0M510.5 108.3h0M512.5 108.5h0M513.1 108.9h0M511.5 108.3h0M508.7 106.3h0M511.1 108.1h0M509.0 108.9h0M511.1 108.6h0M512.6 98.6h0M511.8 106.8h0M510.7 106.6h0M509.1 108.2h0M513.1 108.3h0M512.8 106.2h0M510.8 103.2h0M508.6 104.9h0M511.8 107.5h0M510.4 100.2h0M510.4 108.1h0M510.3 103.8h0M509.7 106.2h0M509.0 109.2h0M511.7 107.7h0M511.0 101.6h0M510.5 109.2h0M512.2 108.8h0M510.9 100.0h0M509.1 107.9h0M509.7 95.1h0M511.2 103.3h0M511.8 108.0h0M511.6 99.3h0M512.2 94.7h0M510.2 109.3h0M512.3 106.4h0M511.3 108.0h0M509.6 100.9h0M509.0 107.6h0M511.6 95.4h0M512.7 106.5h0M513.2 105.8h0M512.5 105.6h0M512.6 108.7h0M511.4 99.1h0M509.6 96.5h0M509.8 107.4h0M512.8 104.0h0M509.7 105.3h0M510.8 94.3h0M511.2 107.4h0M508.4 105.5h0M508.9 108.6h0M509.3 107.6h0M512.4 102.5h0M512.4 108.2h0M508.8 105.2h0M509.1 106.2h0M513.4 104.7h0M509.2 106.5h0M512.5 106.5h0M511.3 100.7h0M512.8 104.4h0M512.1 108.4h0M508.8 105.5h0M512.3 102.1h0M512.0 106.2h0M508.5 108.5h0M513.2 105.7h0M509.8 103.0h0M510.7 106.3h0M511.0 107.1h0M511.2 103.1h0M511.3 107.8h0M508.6 104.6h0M512.7 106.6h0M511.0 102.5h0M508.8 105.8h0M510.9 102.7h0M509.3 109.0h0M510.5 108.5h0M512.0 104.9h0M512.2 107.4h0M509.1 100.0h0M509.8 107.4h0M513.3 97.9h0M511.6 96.8h0M509.3 101.6h0M511.5 103.2h0M509.6 108.4h0M508.7 101.3h0M511.7 107.9h0M508.9 97.1h0M509.0 107.6h0M511.8 108.0h0M513.3 108.4h0M508.7 109.1h0M512.2 107.7h0M509.0 106.7h0M508.6 106.1h0M508.4 107.9h0M508.4 95.0h0M512.1 108.6h0M513.0 102.1h0M508.4 108.3h0M509.1 109.0h0M508.5 106.0h0M510.4 108.9h0M510.0 102.0h0M509.3 109.3h0M512.5 102.4h0M508.8 108.9h0M511.6 108.6h0M509.0 108.1h0M511.7 107.1h0M509.0 102.5h0M509.3 106.1h0M513.4 103.1h0M509.7 107.9h0M510.6 104.8h0M511.7 103.2h0M513.5 105.9h0M511.2 109.1h0M508.9 106.4h0M511.8 105.5h0M511.9 108.3h0M511.3 103.2h0M510.3 106.0h0M512.6 108.6h0M508.6 108.2h0M511.1 105.8h0M511.1 107.1h0M513.1 105.5h0M512.4 101.1h0M509.5 109.2h0M510.3 105.6h0M511.4 109.0h0M510.3 108.2h0M508.6 108.5h0M513.5 107.3h0M510.7 100.3h0M509.0 103.9h0M509.1 106.5h0M508.4 108.3h0M513.0 105.3h0M509.0 104.0h0M511.2 106.4h0M513.2 109.3h0M512.3 103.9h0M511.4 104.2h0M509.8 106.8h0M511.8 107.8h0M512.5 101.4h0M509.4 106.4h0M509.5 102.2h0M510.4 106.0h0M511.4 106.9h0M512.9 108.2h0M511.4 106.9h0M509.7 106.1h0M512.1 106.7h0M509.1 108.8h0M508.9 108.7h0M508.3 102.6h0M511.3 107.3h0M511.3 97.9h0M510.7 98.2h0M511.2 109.1h0M509.3 99.8h0M509.4 102.4h0M511.3 100.9h0M510.4 105.3h0M510.9 108.6h0M513.1 108.0h0M510.7 101.8h0M512.2 106.2h0M508.6 99.7h0M510.9 101.5h0M508.6 106.5h0M509.3 105.0h0M509.3 104.5h0M510.3 107.9h0M509.1 108.2h0M513.2 105.9h0M509.9 101.6h0M509.9 100.1h0M508.7 104.8h0M510.2 105.6h0M512.4 101.2h0M511.1 101.2h0M512.9 103.1h0M511.5 103.6h0M511.6 98.1h0M510.5 107.9h0M512.6 109.0h0M510.6 102.6h0M509.0 106.2h0M509.5 102.3h0M512.4 104.4h0M508.6 109.2h0M509.2 104.7h0M511.6 106.3h0M511.8 106.1h0M510.7 108.6h0M511.7 107.5h0M510.5 108.3h0M511.4 104.9h0M508.5 106.4h0M510.4 108.5h0M513.4 107.6h0M511.3 108.4h0M510.1 103.2h0M511.5 109.3h0M513.4 101.2h0M510.7 106.9h0M510.5 109.0h0M512.6 97.6h0M512.7 107.7h0M509.5 101.9h0M511.8 103.1h0M509.9 96.7h0M510.1 107.5h0M512.5 106.1h0M510.2 102.8h0M513.1 107.7h0M510.8 103.4h0M512.8 108.7h0M509.0 105.7h0M510.4 108.6h0M508.5 106.8h0M512.8 108.5h0M512.9 103.2h0M510.8 107.1h0M510.7 99.9h0M513.3 106.1h0M510.3 103.7h0M509.9 108.6h0M509.0 103.7h0M513.1 104.7h0M512.5 108.1h0M511.0 104.6h0M512.1 103.3h0M512.6 107.4h0M511.8 107.1h0M508.9 108.8h0M511.7 106.0h0M512.8 96.6h0M510.8 94.9h0M510.5 104.1h0M511.7 107.4h0M509.3 106.6h0M509.5 108.8h0M511.8 105.2h0M513.5 108.3h0M508.9 103.0h0M511.8 95.1h0M510.9 103.4h0M508.5 105.2h0M509.1 107.3h0M509.9 105.7h0M511.9 98.1h0M509.0 105.6h0M510.2 104.9h0M511.5 106.2h0M512.2 103.3h0M513.5 101.7h0M512.7 101.1h0M509.3 108.8h0M511.2 108.0h0M511.5 102.9h0M511.2 106.2h0M511.4 107.1h0M510.3 107.3h0M509.5 107.6h0M511.8 103.4h0M512.8 102.5h0M511.8 108.0h0M511.7 99.4h0M513.3 94.2h0M509.6 109.2h0M511.3 108.9h0M512.6 100.7h0M511.7 97.0h0M508.3 106.6h0M511.0 108.1h0M512.5 104.3h0M509.4 108.7h0M510.3 108.4h0M513.4 103.0h0M510.7 103.0h0M511.1 101.8h0M511.4 95.2h0M512.7 101.4h0M510.7 102.7h0M513.0 97.8h0M512.0 108.2h0M510.4 108.5h0M511.5 96.8h0M509.9 107.6h0M508.6 108.7h0M510.8 106.2h0M508.5 98.2h0M509.9 98.4h0M512.7 102.9h0M513.3 107.8h0M509.3 104.7h0M509.2 106.7h0M510.1 108.3h0M510.6 108.1h0M509.0 109.0h0M512.5 97.8h0M509.1 101.8h0M511.1 100.7h0M509.7 101.7h0M511.7 107.1h0M508.9 108.3h0M510.9 105.3h0M512.7 98.2h0M508.4 106.9h0M509.3 104.6h0M508.7 99.1h0M512.6 99.9h0M511.8 106.1h0M509.6 107.0h0M513.0 108.6h0M509.2 108.3h0M510.8 95.2h0M512.1 108.8h0M511.4 106.1h0M508.6 107.1h0M508.5 107.1h0M509.3 108.8h0M513.2 103.2h0M513.0 105.8h0M509.9 98.6h0M508.5 105.1h0M511.6 107.4h0M509.3 107.1h0M512.9 104.5h0M513.1 103.8h0M512.4 107.3h0M512.3 106.9h0M512.3 106.6h0M512.6 105.6h0M510.3 108.8h0M512.1 104.7h0M508.4 103.9h0M511.9 108.5h0M510.6 104.7h0M513.4 98.2h0M512.4 103.7h0M510.7 102.2h0M512.0 99.8h0M511.3 107.4h0M511.5 106.0h0M508.3 108.1h0M509.5 103.3h0M509.6 109.3h0M512.0 103.5h0M513.1 106.5h0M511.6 106.3h0M512.2 97.4h0M511.6 106.2h0M509.1 95.5h0M509.6 109.1h0M511.3 105.9h0M512.2 106.9h0M510.5 108.7h0M511.9 109.1h0M510.0 109.1h0M509.9 107.6h0M509.2 105.8h0M510.5 103.8h0M511.3 106.5h0M508.9 108.4h0M513.1 107.6h0M508.3 108.7h0M512.1 103.1h0M510.1 103.2h0M513.2 103.1h0M509.8 101.2h0M508.4 108.2h0M511.9 108.2h0M510.3 107.9h0M512.6 106.8h0M511.8 102.4h0M510.6 109.1h0M511.7 106.3h0M511.8 109.0h0M510.0 100.6h0M509.3 104.1h0M511.7 108.4h0M511.3 106.5h0M508.5 102.3h0M509.1 107.5h0M510.5 109.3h0M508.8 104.8h0M511.0 108.3h0M510.4 94.4h0M509.8 109.1h0M512.2 108.1h0M512.1 102.8h0M508.6 96.1h0M511.4 106.3h0M513.5 105.1h0M511.5 108.9h0M513.4 108.5h0M509.5 108.1h0M509.4 103.5h0M510.0 95.4h0M509.5 104.3h0M509.1 103.7h0M509.6 107.1h0M510.9 106.9h0M512.5 94.2h0M512.3 105.5h0M508.5 106.1h0M512.3 108.6h0M511.6 97.4h0M509.7 96.9h0M508.3 106.1h0M512.8 106.7h0M509.0 95.3h0M509.6 105.2h0M509.9 104.3h0M512.4 107.9h0M513.2 99.1h0M513.1 102.1h0M512.7 99.3h0M512.7 106.3h0M510.8 105.5h0M508.6 109.2h0M509.5 101.9h0M509.0 104.2h0M508.9 106.2h0M509.0 107.9h0M510.0 94.7h0M508.6 107.0h0M509.8 108.6h0M512.7 106.0h0M509.6 108.9h0M510.9 109.3h0M512.7 108.9h0M508.4 103.2h0M512.1 106.8h0M511.1 108.5h0M508.5 108.9h0M512.9 99.3h0M512.4 107.0h0M508.8 109.0h0M513.3 102.9h0M511.3 106.2h0M511.6 102.6h0M509.4 102.4h0M508.5 101.9h0M512.0 105.0h0M512.0 95.7h0M509.2 108.9h0M508.5 106.3h0M511.3 107.9h0M509.9 108.9h0M510.1 105.6h0M512.8 106.5h0M511.2 102.3h0M508.9 103.5h0M511.9 108.2h0M512.0 102.1h0M511.3 102.1h0M513.3 102.4h0M510.8 104.4h0M511.7 105.7h0M508.6 109.3h0M509.9 105.3h0M509.9 108.0h0M510.5 104.1h0M511.0 109.1h0M508.9 106.0h0M511.9 97.2h0M508.6 103.1h0M509.6 97.6h0M511.3 108.1h0M508.4 108.3h0M510.0 97.0h0M512.5 103.8h0M512.1 102.1h0M510.3 108.6h0M509.2 107.5h0M512.2 66.7h0M512.8 72.4h0M508.7 90.0h0M510.5 80.9h0M511.1 90.2h0M511.9 82.3h0M509.4 83.0h0M512.6 93.2h0M511.5 66.0h0M512.5 68.2h0M513.2 70.3h0M511.9 93.8h0M511.8 92.0h0M509.8 72.0h0M509.7 68.5h0M510.2 79.1h0M512.5 59.9h0M511.4 87.0h0M509.7 92.1h0M513.0 85.3h0M511.0 90.5h0M513.4 88.4h0M511.7 70.0h0M512.1 90.0h0M510.1 74.1h0M513.5 80.3h0M510.8 54.8h0" stroke="#000" stroke-opacity="0.9" stroke-width="1.0" stroke-linecap="round" fill="none"/>
<path d="M532.10 83.7V92.4M532.10 107.4V109.1" stroke="#666" stroke-width="0.5" stroke-dasharray="1.6 1" fill="none"/>
<path d="M527.50 83.7h9.2M527.50 109.1h9.2" stroke="#3a3a3a" stroke-width="0.8" fill="none"/>
<rect x="523.70" y="92.4" width="16.8" height="15.0" fill="#fff" stroke="#3a3a3a" stroke-width="0.65"/>
<path d="M523.70 101.3h16.8" stroke="#3a3a3a" stroke-width="0.65" fill="none"/>
<path d="M530.3 96.0h0M530.6 94.0h0M534.4 103.8h0M534.2 93.8h0M530.1 108.5h0M532.5 106.7h0M531.6 108.2h0M529.7 86.9h0M530.8 104.4h0M532.9 101.3h0M529.6 107.8h0M534.5 91.8h0M531.0 104.7h0M531.3 98.2h0M534.4 103.4h0M530.2 108.8h0M530.2 103.1h0M532.0 108.2h0M531.1 108.0h0M531.2 107.7h0M532.5 95.3h0M534.4 108.9h0M531.7 108.1h0M529.7 101.7h0M531.4 104.0h0M533.9 94.7h0M531.7 106.8h0M529.8 96.4h0M530.8 108.7h0M530.7 91.5h0M531.3 90.6h0M531.2 101.5h0M533.0 107.8h0M533.2 108.8h0M529.7 91.0h0M530.3 91.1h0M533.8 94.1h0M534.1 89.4h0M533.6 99.5h0M530.4 96.8h0M533.1 96.6h0M529.9 95.1h0M533.0 107.8h0M530.7 88.7h0M533.9 107.7h0M533.9 97.0h0M531.9 85.0h0M533.3 108.8h0M534.4 87.0h0M534.1 90.5h0M532.9 98.5h0M532.7 87.3h0M531.4 90.9h0M533.1 88.6h0M530.2 91.0h0M531.9 100.1h0M529.9 87.5h0M530.0 107.7h0M533.0 105.3h0M531.7 108.5h0M530.6 107.7h0M534.4 104.6h0M531.0 100.8h0M532.3 107.5h0M532.0 88.7h0M530.5 87.3h0M534.7 108.0h0M533.4 108.2h0M534.1 106.6h0M531.1 91.8h0M534.2 84.2h0M534.2 106.6h0M534.4 87.1h0M530.4 105.1h0M530.3 90.9h0M529.9 101.8h0M530.0 108.8h0M533.1 105.6h0M529.8 105.6h0M531.9 101.8h0M531.3 94.7h0M533.3 108.2h0M529.7 106.7h0M533.2 96.3h0M534.5 105.0h0M531.0 107.9h0M531.6 100.8h0M533.4 94.3h0M531.1 86.4h0M533.9 108.0h0M534.7 108.7h0M530.7 108.8h0M531.9 99.3h0M530.3 94.6h0M532.4 108.4h0M531.5 108.3h0M534.6 92.0h0M533.3 104.6h0M534.7 107.7h0M533.7 93.9h0" stroke="#000" stroke-opacity="0.9" stroke-width="1.0" stroke-linecap="round" fill="none"/>
<text x="520.7" y="122.8" text-anchor="middle" font-family='"Liberation Sans", Arial, Helvetica, sans-serif' font-weight="bold" font-size="6.8" fill="#111" stroke="#111" stroke-width="0.22">KIRC</text>
<text x="520.7" y="130.0" text-anchor="middle" font-family='"Liberation Sans", Arial, Helvetica, sans-serif' font-weight="bold" font-size="5.6" fill="#111" stroke="#111" stroke-width="0.28">T(n=523)</text>
<text x="520.7" y="137.0" text-anchor="middle" font-family='"Liberation Sans", Arial, Helvetica, sans-serif' font-weight="bold" font-size="5.6" fill="#111" stroke="#111" stroke-width="0.28">N(n=100)</text>
<path d="M326.10 54.5V51.1H347.30V58.9" fill="none" stroke="#444" stroke-width="0.8"/>
<circle cx="336.70" cy="51.1" r="1.6" fill="#fff"/>
<text x="336.70" y="54.5" text-anchor="middle" font-family='"Liberation Sans", Arial, Helvetica, sans-serif' font-weight="bold" font-size="7" fill="#e8202a">*</text>
<path d="M387.70 18.5V15.3H408.90V51.4" fill="none" stroke="#444" stroke-width="0.8"/>
<circle cx="398.30" cy="15.3" r="1.6" fill="#fff"/>
<text x="398.30" y="18.7" text-anchor="middle" font-family='"Liberation Sans", Arial, Helvetica, sans-serif' font-weight="bold" font-size="7" fill="#e8202a">*</text>
<path d="M40.8 140.8V248.4H545.0" fill="none" stroke="#6e6e6e" stroke-width="0.9"/>
<text x="34.7" y="248.86" text-anchor="end" font-family='"Liberation Sans", Arial, Helvetica, sans-serif' font-weight="bold" font-size="10.5" fill="#111" stroke="#111" stroke-width="0.25">0</text>
<text x="34.7" y="222.90" text-anchor="end" font-family='"Liberation Sans", Arial, Helvetica, sans-serif' font-weight="bold" font-size="10.5" fill="#111" stroke="#111" stroke-width="0.25">2</text>
<text x="34.7" y="196.94" text-anchor="end" font-family='"Liberation Sans", Arial, Helvetica, sans-serif' font-weight="bold" font-size="10.5" fill="#111" stroke="#111" stroke-width="0.25">4</text>
<text x="34.7" y="170.98" text-anchor="end" font-family='"Liberation Sans", Arial, Helvetica, sans-serif' font-weight="bold" font-size="10.5" fill="#111" stroke="#111" stroke-width="0.25">6</text>
<path d="M38.2 244.40H40.8M38.2 218.36H40.8M38.2 192.32H40.8M38.2 166.28H40.8M91.3 248.4v2.2M152.6 248.4v2.2M213.9 248.4v2.2M275.1 248.4v2.2M336.4 248.4v2.2M397.7 248.4v2.2M459.0 248.4v2.2M520.3 248.4v2.2" fill="none" stroke="#6e6e6e" stroke-width="0.8"/>
<path d="M80.70 239.7V241.8M80.70 244.7V244.7" stroke="#666" stroke-width="0.5" stroke-dasharray="1.6 1" fill="none"/>
<path d="M76.10 239.7h9.2M76.10 244.7h9.2" stroke="#3a3a3a" stroke-width="0.8" fill="none"/>
<rect x="72.30" y="241.8" width="16.8" height="2.9" fill="#8a8a8a" stroke="#3a3a3a" stroke-width="0.65"/>
<path d="M72.30 243.5h16.8" stroke="#3a3a3a" stroke-width="0.65" fill="none"/>
<path d="M82.9 241.3h0M78.5 242.0h0M82.1 244.6h0M80.5 241.7h0M80.9 244.0h0M79.4 242.8h0M83.0 244.6h0M79.7 244.4h0M79.8 243.5h0M78.4 242.8h0M82.7 241.6h0M82.4 244.7h0M78.4 240.6h0M78.9 243.2h0M79.6 244.7h0M78.2 240.8h0M80.7 241.0h0M82.5 241.8h0M81.8 244.7h0M80.7 242.9h0M83.2 243.6h0M79.7 241.8h0M79.8 241.6h0M79.5 242.8h0M81.2 244.7h0M80.5 243.8h0M78.7 242.3h0M80.7 242.3h0M83.1 244.7h0M82.7 242.2h0M81.3 241.3h0M82.6 244.4h0M80.6 241.4h0M80.7 242.4h0M81.7 241.5h0M79.1 244.7h0M81.2 244.7h0M80.7 242.9h0M79.6 244.0h0M80.7 243.9h0M79.0 244.7h0M81.4 242.9h0M78.7 244.7h0M80.4 241.6h0M78.4 243.8h0M80.9 242.5h0M78.6 242.5h0M82.4 241.9h0M78.2 241.3h0M82.3 244.5h0M79.7 244.4h0M83.1 243.6h0M79.8 242.3h0M78.9 244.7h0M81.6 239.9h0M79.4 244.5h0M82.3 242.3h0M80.6 244.7h0M79.5 242.1h0M81.2 240.9h0M79.3 244.7h0M79.5 239.8h0M78.5 244.7h0M79.3 243.5h0M79.2 243.9h0M78.9 241.1h0M80.3 241.7h0M80.4 243.5h0M81.2 244.7h0M81.0 241.9h0M81.6 244.7h0M81.3 244.6h0M80.5 244.7h0M82.5 244.7h0M78.8 243.0h0M79.5 244.7h0M78.2 240.1h0M82.8 240.3h0M82.7 243.0h0M80.2 244.7h0M82.5 242.4h0M81.0 243.9h0M82.9 244.7h0M82.8 240.4h0M79.8 244.7h0M79.6 241.8h0M80.3 242.1h0M83.1 241.5h0M80.5 242.2h0M80.0 241.8h0M78.2 243.8h0M80.1 242.4h0M82.9 241.4h0M80.3 244.7h0M82.2 243.6h0M82.8 244.7h0M83.0 242.8h0M81.9 244.7h0M80.7 244.7h0M79.7 242.6h0M83.0 244.3h0M82.3 244.7h0M82.0 244.7h0M78.4 244.7h0M81.5 240.6h0M81.7 244.7h0M78.8 243.9h0M79.8 241.3h0M80.5 241.9h0M79.4 244.7h0M78.7 244.7h0M78.9 242.6h0M80.5 240.3h0M78.2 243.5h0M82.2 240.1h0M80.3 244.7h0M79.5 243.7h0M79.4 242.7h0M79.7 244.7h0M81.2 244.7h0M81.8 244.2h0M80.3 244.1h0M81.8 243.0h0M81.1 242.5h0M82.3 244.7h0M81.9 241.8h0M82.1 244.7h0M78.2 244.7h0M79.9 242.9h0M78.7 244.7h0M82.4 242.8h0M79.0 241.9h0M82.9 242.3h0M79.9 243.6h0M78.9 240.8h0M81.7 241.1h0M79.1 244.7h0M80.0 243.6h0M80.4 244.7h0M81.4 241.8h0M80.8 243.6h0M81.6 239.7h0M82.2 244.7h0M83.1 244.7h0M81.3 243.9h0M80.3 240.0h0M80.7 244.3h0M79.9 241.4h0M82.4 244.7h0M80.9 244.3h0M81.7 241.2h0M82.4 244.0h0M81.7 241.8h0M82.7 239.9h0M80.5 244.7h0M81.7 244.7h0M82.7 243.7h0M80.6 240.1h0M82.4 243.4h0M79.6 244.7h0M78.9 244.7h0M82.5 244.0h0M81.0 244.7h0M83.1 240.5h0M81.2 243.8h0M79.4 244.0h0M78.7 243.1h0M82.8 241.8h0M79.4 244.7h0M79.0 244.6h0M80.8 244.4h0M81.8 241.2h0M81.1 244.4h0M78.3 243.5h0M82.2 244.6h0M81.6 244.5h0M79.8 242.8h0M82.9 241.8h0M80.7 244.1h0M82.1 241.7h0M78.6 241.8h0M79.7 244.1h0M82.0 242.7h0M81.7 240.6h0M81.7 244.1h0M81.7 244.5h0M78.2 243.7h0M82.5 244.7h0M78.3 244.5h0M79.4 242.2h0M79.7 244.6h0M80.7 241.6h0M78.6 241.8h0M80.3 241.5h0M78.8 241.8h0M79.8 243.4h0M79.9 240.9h0M78.7 244.7h0M82.3 244.7h0M78.3 240.1h0M79.1 244.7h0M82.7 244.2h0M80.2 243.8h0M83.0 241.7h0M79.7 242.5h0M80.8 244.5h0M80.8 243.1h0M80.2 244.7h0M83.2 240.4h0M80.2 244.7h0M82.2 244.7h0M80.7 243.3h0M79.9 243.3h0M82.5 244.7h0M82.9 244.5h0M78.2 241.6h0M81.2 242.5h0M82.0 242.5h0M80.7 244.4h0M80.2 242.4h0M81.8 242.2h0M78.9 242.1h0M80.6 244.0h0M79.1 244.7h0M82.6 243.9h0M82.2 244.1h0M80.2 240.2h0M82.2 243.7h0M80.9 244.7h0M81.5 240.4h0M79.3 243.3h0M82.1 243.7h0M81.5 244.7h0M83.3 244.4h0M79.5 244.7h0M80.2 243.6h0M82.2 244.7h0M79.4 242.9h0M82.1 241.5h0M82.5 244.7h0M79.0 244.7h0M81.9 244.7h0M79.6 244.7h0M79.5 244.7h0M79.9 244.7h0M82.1 242.6h0M81.4 241.1h0M80.1 244.7h0M81.6 244.7h0M82.3 243.5h0M79.1 242.2h0M82.6 244.0h0M80.8 243.8h0M81.4 244.7h0M82.6 244.7h0M79.2 239.8h0M80.5 241.4h0M81.8 242.2h0M78.2 244.7h0M80.1 244.7h0M80.9 244.5h0M80.4 242.2h0M80.7 244.1h0M82.5 244.7h0M78.7 244.6h0M81.8 244.7h0M79.6 242.0h0M78.5 240.6h0M80.5 243.7h0M78.8 242.1h0M80.5 243.7h0M79.0 244.7h0M80.4 242.7h0M78.8 242.9h0M83.3 242.3h0M79.2 244.7h0M80.4 243.4h0M81.2 241.1h0M81.6 244.2h0M78.8 244.7h0M82.5 244.4h0M80.0 241.8h0M78.5 244.7h0M80.3 244.2h0M81.3 241.7h0M80.0 244.7h0M81.9 235.1h0M79.7 227.3h0M82.3 239.7h0M83.0 236.8h0M82.3 229.7h0M78.4 236.2h0M80.3 239.1h0M80.9 239.6h0M80.1 228.3h0M79.1 234.6h0M81.2 234.0h0M78.7 230.5h0M79.0 228.2h0M80.3 236.5h0M83.3 237.1h0M80.1 220.0h0" stroke="#000" stroke-opacity="0.9" stroke-width="1.0" stroke-linecap="round" fill="none"/>
<path d="M101.90 214.7V230.1M101.90 242.1V244.4" stroke="#666" stroke-width="0.5" stroke-dasharray="1.6 1" fill="none"/>
<path d="M97.30 214.7h9.2M97.30 244.4h9.2" stroke="#3a3a3a" stroke-width="0.8" fill="none"/>
<rect x="93.50" y="230.1" width="16.8" height="12.0" fill="#fff" stroke="#3a3a3a" stroke-width="0.65"/>
<path d="M93.50 236.5h16.8" stroke="#3a3a3a" stroke-width="0.65" fill="none"/>
<path d="M102.3 221.9h0M102.2 235.9h0M103.8 234.8h0M99.5 241.0h0M103.0 230.1h0M103.7 230.0h0M102.0 230.6h0M100.5 226.1h0M103.4 244.0h0M101.5 244.2h0M100.7 239.6h0M103.3 240.8h0M103.3 239.4h0M103.6 242.9h0M101.9 242.7h0M99.4 240.4h0M99.4 242.5h0M102.2 222.5h0M99.5 244.1h0M102.5 223.1h0M100.0 224.5h0M103.3 242.1h0M99.4 243.2h0M102.9 235.4h0M100.5 242.3h0M104.5 242.9h0M101.8 219.7h0M102.0 243.5h0M103.7 242.6h0M100.8 237.9h0M104.4 237.8h0M100.8 239.8h0M99.5 234.8h0M100.8 236.7h0M101.2 232.1h0M102.4 243.0h0M99.6 223.3h0M104.0 230.4h0M103.3 234.6h0M103.2 220.2h0M104.4 244.4h0M99.6 243.9h0M102.9 241.7h0M103.8 220.4h0M100.2 243.6h0M101.4 243.1h0M100.3 242.8h0M104.1 243.3h0M101.8 242.7h0M103.6 227.9h0M100.6 235.6h0M102.4 235.3h0M103.2 228.5h0M101.1 244.4h0M100.7 227.6h0M99.7 229.8h0M102.6 244.1h0M101.4 244.1h0M100.3 243.9h0M101.0 243.3h0" stroke="#000" stroke-opacity="0.9" stroke-width="1.0" stroke-linecap="round" fill="none"/>
<text x="90.9" y="258.6" text-anchor="middle" font-family='"Liberation Sans", Arial, Helvetica, sans-serif' font-weight="bold" font-size="6.8" fill="#111" stroke="#111" stroke-width="0.22">KIRP</text>
<text x="90.9" y="266.4" text-anchor="middle" font-family='"Liberation Sans", Arial, Helvetica, sans-serif' font-weight="bold" font-size="5.6" fill="#111" stroke="#111" stroke-width="0.28">T(n=286)</text>
<text x="90.9" y="273.6" text-anchor="middle" font-family='"Liberation Sans", Arial, Helvetica, sans-serif' font-weight="bold" font-size="5.6" fill="#111" stroke="#111" stroke-width="0.28">N(n=60)</text>
<path d="M141.98 239.1V241.8M141.98 244.7V244.7" stroke="#666" stroke-width="0.5" stroke-dasharray="1.6 1" fill="none"/>
<path d="M137.38 239.1h9.2M137.38 244.7h9.2" stroke="#3a3a3a" stroke-width="0.8" fill="none"/>
<rect x="133.58" y="241.8" width="16.8" height="2.9" fill="#8a8a8a" stroke="#3a3a3a" stroke-width="0.65"/>
<path d="M133.58 243.5h16.8" stroke="#3a3a3a" stroke-width="0.65" fill="none"/>
<path d="M142.0 243.6h0M141.7 242.1h0M143.8 244.7h0M141.1 244.7h0M140.6 242.2h0M141.3 239.4h0M143.7 244.5h0M143.2 242.7h0M140.4 240.4h0M143.6 243.4h0M144.5 243.6h0M141.1 244.7h0M143.5 242.6h0M143.0 239.2h0M142.6 243.7h0M140.6 241.8h0M139.4 244.7h0M143.9 244.7h0M141.1 244.0h0M143.7 244.7h0M143.8 243.1h0M143.8 240.8h0M143.2 239.9h0M143.2 242.3h0M143.6 243.2h0M144.3 244.7h0M144.2 243.5h0M144.0 242.0h0M141.1 243.7h0M144.2 244.7h0M139.9 241.3h0M140.3 240.1h0M143.9 242.6h0M142.2 243.2h0M144.3 244.7h0M141.1 242.3h0M139.7 244.7h0M140.2 244.7h0M144.0 239.4h0M143.6 243.7h0M141.6 244.7h0M142.8 243.9h0M139.6 240.8h0M144.3 244.3h0M140.9 244.7h0M140.4 244.0h0M141.9 244.7h0M141.9 244.2h0M141.9 242.3h0M143.1 244.7h0M140.3 242.1h0M143.5 244.7h0M141.1 240.2h0M141.5 241.4h0M144.0 239.7h0M143.2 241.9h0M143.2 243.9h0M143.5 244.2h0M141.6 244.7h0M141.2 244.7h0M142.1 244.7h0M143.8 243.6h0M140.3 244.7h0M143.0 244.7h0M141.8 241.5h0M144.3 242.8h0M143.1 244.7h0M144.2 243.2h0M141.5 244.7h0M141.8 243.0h0M140.7 242.4h0M140.5 242.9h0M141.0 244.4h0M140.5 243.1h0M142.6 243.7h0M142.3 244.7h0M143.2 244.2h0M143.3 244.7h0M144.4 243.7h0M142.1 242.1h0M142.6 241.8h0M142.1 244.4h0M141.9 241.2h0M141.2 239.6h0M141.0 242.4h0M141.1 244.7h0M142.0 241.9h0M141.7 242.2h0M142.2 244.7h0M142.9 242.5h0M144.5 244.7h0M142.4 244.7h0M144.5 241.2h0M141.0 240.6h0M142.5 244.7h0M142.4 244.2h0M141.7 244.7h0M141.8 244.7h0M140.6 241.4h0M144.5 242.6h0M139.8 241.5h0M143.6 244.7h0M141.9 243.0h0M141.2 241.7h0M141.0 244.7h0M144.3 243.8h0M141.1 244.7h0M142.4 244.7h0M141.5 244.7h0M142.8 243.7h0M142.3 244.7h0M142.1 244.7h0M139.9 242.9h0M139.5 244.5h0M142.8 244.7h0M139.4 244.6h0M142.1 244.7h0M140.8 244.7h0M143.2 243.9h0M141.1 244.7h0M139.6 239.9h0M140.2 242.5h0M141.1 242.7h0M142.7 242.3h0M143.0 240.9h0M143.7 244.7h0M144.3 243.1h0M142.3 243.9h0M139.6 243.0h0M142.8 244.7h0M141.2 241.2h0M142.5 244.1h0M140.3 241.6h0M141.4 244.7h0M140.6 243.5h0M142.9 243.7h0M144.3 244.7h0M141.3 244.6h0M142.0 242.3h0M142.7 242.7h0M143.4 244.7h0M141.2 244.3h0M140.8 239.2h0M142.8 244.7h0M141.0 242.4h0M142.0 244.5h0M142.7 244.2h0M142.3 239.6h0M144.4 242.7h0M141.2 244.7h0M140.5 243.7h0M141.5 240.4h0M144.0 244.7h0M143.8 243.3h0M139.7 241.2h0M140.3 244.1h0M140.6 244.7h0M143.4 239.5h0M143.0 241.7h0M140.2 241.3h0M143.5 244.2h0M143.9 243.8h0M143.6 241.6h0M141.2 244.7h0M143.6 244.5h0M140.7 241.0h0M144.2 243.7h0M140.1 240.1h0M141.4 244.7h0M141.0 243.3h0M143.6 243.8h0M143.4 242.9h0M142.1 243.5h0M142.2 237.3h0M140.9 230.8h0M142.4 238.5h0M139.6 235.2h0M143.1 229.1h0M144.3 237.1h0M141.8 238.8h0M141.8 231.4h0M142.4 231.2h0M141.4 232.9h0M144.2 225.3h0M140.5 236.8h0M141.9 222.3h0" stroke="#000" stroke-opacity="0.9" stroke-width="1.0" stroke-linecap="round" fill="none"/>
<path d="M163.18 244.2V244.2M163.18 244.6V244.6" stroke="#666" stroke-width="0.5" stroke-dasharray="1.6 1" fill="none"/>
<path d="M158.58 244.2h9.2M158.58 244.6h9.2" stroke="#3a3a3a" stroke-width="0.8" fill="none"/>
<rect x="154.78" y="244.2" width="16.8" height="0.4" fill="#fff" stroke="#3a3a3a" stroke-width="0.65"/>
<path d="M154.78 244.4h16.8" stroke="#3a3a3a" stroke-width="0.65" fill="none"/>
<path d="M162.0 244.3h0M162.4 244.4h0M162.4 244.2h0M163.9 244.2h0M162.2 244.2h0M163.0 244.4h0M164.0 244.2h0M162.0 244.4h0M161.3 244.6h0M164.0 244.6h0M164.0 244.3h0M160.6 244.2h0M162.8 244.6h0M165.0 244.2h0M163.7 244.6h0M164.1 244.2h0M165.7 244.2h0M161.6 244.4h0M162.6 244.3h0M161.3 244.6h0M165.3 244.2h0M163.6 244.2h0M165.1 244.2h0M164.0 244.2h0M162.3 244.6h0M164.3 244.2h0M162.0 244.2h0M163.2 244.4h0M163.8 244.6h0M164.6 244.6h0M161.9 244.6h0M164.5 244.3h0M163.4 244.6h0M163.8 244.2h0M161.1 244.3h0M163.3 244.6h0M161.1 244.5h0M163.9 244.2h0M164.7 244.2h0M162.6 244.2h0M162.8 244.4h0M163.8 244.2h0M163.5 244.2h0M165.7 244.6h0M165.0 244.4h0M164.1 244.2h0M162.4 244.2h0M160.9 244.2h0M164.1 244.3h0M161.7 244.6h0M164.2 244.4h0M164.0 244.6h0M165.1 244.4h0M160.9 244.4h0M163.1 244.4h0M162.3 244.3h0M162.4 244.2h0M161.9 244.6h0M164.9 244.3h0M162.9 244.6h0M163.4 244.5h0M161.2 244.2h0M163.5 244.3h0M163.9 244.4h0M161.2 244.2h0M162.3 244.6h0M162.0 244.2h0M163.5 244.2h0M161.0 244.6h0M165.7 244.6h0M162.6 240.5h0M165.4 239.9h0M160.8 238.9h0" stroke="#000" stroke-opacity="0.9" stroke-width="1.0" stroke-linecap="round" fill="none"/>
<text x="152.5" y="258.6" text-anchor="middle" font-family='"Liberation Sans", Arial, Helvetica, sans-serif' font-weight="bold" font-size="6.8" fill="#111" stroke="#111" stroke-width="0.22">LAML</text>
<text x="152.5" y="266.4" text-anchor="middle" font-family='"Liberation Sans", Arial, Helvetica, sans-serif' font-weight="bold" font-size="5.6" fill="#111" stroke="#111" stroke-width="0.28">T(n=173)</text>
<text x="152.5" y="273.6" text-anchor="middle" font-family='"Liberation Sans", Arial, Helvetica, sans-serif' font-weight="bold" font-size="5.6" fill="#111" stroke="#111" stroke-width="0.28">N(n=70)</text>
<path d="M203.26 194.2V221.0M203.26 240.1V244.1" stroke="#666" stroke-width="0.5" stroke-dasharray="1.6 1" fill="none"/>
<path d="M198.66 194.2h9.2M198.66 244.1h9.2" stroke="#3a3a3a" stroke-width="0.8" fill="none"/>
<rect x="194.86" y="221.0" width="16.8" height="19.1" fill="#8a8a8a" stroke="#3a3a3a" stroke-width="0.65"/>
<path d="M194.86 233.2h16.8" stroke="#3a3a3a" stroke-width="0.65" fill="none"/>
<path d="M205.3 198.4h0M202.2 235.8h0M204.5 224.7h0M205.6 243.8h0M202.6 227.1h0M202.5 238.7h0M204.2 224.4h0M205.6 236.0h0M203.4 241.8h0M204.0 242.8h0M201.2 235.4h0M202.3 241.1h0M203.0 243.6h0M204.1 237.0h0M202.6 239.8h0M204.5 223.1h0M205.0 221.0h0M201.9 204.4h0M203.4 241.8h0M201.2 203.2h0M202.3 209.8h0M203.7 242.7h0M205.0 222.8h0M201.7 242.2h0M204.8 216.5h0M204.1 222.3h0M204.9 198.9h0M201.0 238.2h0M203.3 226.3h0M201.4 220.8h0M204.7 234.0h0M204.2 204.5h0M201.9 242.7h0M205.8 227.9h0M205.3 237.1h0M202.7 224.9h0M201.8 234.3h0M204.7 231.0h0M202.4 242.5h0M205.1 234.5h0M202.1 240.2h0M205.1 222.6h0M202.5 236.7h0M203.7 242.4h0M202.3 234.7h0M203.9 228.8h0M201.0 216.3h0M202.5 208.4h0M202.5 221.4h0M203.7 236.2h0M204.8 240.5h0M203.2 220.2h0M205.6 223.9h0M201.5 225.8h0M204.5 236.4h0M202.7 239.7h0M201.8 234.1h0M202.4 223.0h0M202.6 230.5h0M203.2 211.6h0M203.2 230.7h0M204.8 209.0h0M204.8 204.3h0M202.7 235.7h0M204.7 197.3h0M203.8 239.6h0M200.8 206.0h0M205.0 235.1h0M205.3 237.9h0M204.0 234.7h0M203.3 243.3h0M205.4 240.8h0M205.8 221.7h0M203.7 234.6h0M200.9 210.6h0M203.3 236.4h0M201.7 243.5h0M203.1 221.0h0M203.8 230.6h0M201.8 196.0h0M201.0 198.9h0M203.2 244.1h0M204.2 207.7h0M203.4 217.9h0M204.9 234.0h0M205.9 240.0h0M205.7 226.6h0M202.4 234.7h0M203.0 235.2h0M203.7 237.1h0M201.8 237.3h0M205.5 236.6h0M204.7 239.0h0M205.7 209.6h0M202.7 217.1h0M203.3 241.4h0M203.4 243.2h0M201.2 207.8h0M202.0 240.6h0M204.1 210.0h0M205.5 244.1h0M201.0 195.8h0M202.4 202.8h0M203.3 196.6h0M202.8 241.5h0M202.0 228.8h0M201.6 241.2h0M202.3 195.6h0M201.0 239.6h0M202.1 198.3h0M201.0 241.6h0M205.2 230.9h0M204.0 220.1h0M203.2 221.3h0M202.3 233.6h0M204.2 222.5h0M202.4 226.0h0M205.0 216.6h0M205.1 220.1h0M201.9 242.1h0M203.3 231.3h0M202.5 240.8h0M205.8 241.8h0M201.9 207.1h0M200.9 241.7h0M201.8 210.5h0M205.6 241.5h0M203.9 241.9h0M204.5 241.3h0M203.2 239.2h0M204.3 240.5h0M202.9 241.8h0M203.4 239.6h0M204.0 224.3h0M204.8 242.3h0M205.6 218.5h0M204.0 215.7h0M205.0 196.1h0M201.5 243.3h0M201.7 225.7h0M205.4 232.0h0M201.0 237.1h0M203.0 233.4h0M201.9 220.3h0M203.5 221.0h0M202.2 224.1h0M205.4 228.6h0M201.2 231.0h0M205.0 220.1h0M205.6 242.0h0M202.8 214.9h0M204.8 242.2h0M203.9 233.7h0M201.8 213.4h0M203.4 220.3h0M201.3 234.0h0M202.3 213.6h0M201.0 221.6h0M201.6 235.9h0M205.3 223.9h0M203.3 216.5h0M205.2 226.7h0M203.1 233.6h0M202.3 243.8h0M203.2 208.7h0M202.5 240.9h0M205.7 233.4h0M200.8 235.1h0M201.7 239.0h0M201.8 233.2h0M203.3 233.7h0M202.7 204.9h0M201.3 215.5h0M203.8 220.3h0M205.2 229.4h0M203.5 228.5h0M202.4 236.2h0M203.3 237.4h0M201.9 216.3h0M200.9 225.8h0M202.2 242.9h0M202.6 243.6h0M204.7 240.8h0M202.8 226.3h0M205.2 236.6h0M201.3 207.7h0M202.3 239.7h0M201.6 240.5h0M204.8 230.8h0M201.5 214.9h0M203.6 223.6h0M203.3 239.7h0M204.5 196.5h0M203.4 229.7h0M202.2 235.9h0M205.6 204.3h0M203.2 219.7h0M201.5 239.5h0M203.5 201.5h0M203.3 217.8h0M201.2 222.3h0M200.9 233.3h0M203.2 234.5h0M204.4 237.8h0M202.5 231.8h0M204.0 217.0h0M202.0 236.1h0M204.4 239.0h0M204.8 207.1h0M203.4 224.6h0M205.4 238.4h0M202.8 244.1h0M202.6 240.9h0M200.7 197.9h0M202.6 243.9h0M204.6 222.5h0M204.7 223.8h0M202.9 228.7h0M203.0 197.5h0M203.8 206.7h0M200.9 231.6h0M203.4 212.3h0M205.1 195.8h0M201.3 240.9h0M201.1 227.7h0M203.2 236.6h0M203.8 241.8h0M202.6 230.2h0M202.8 222.3h0M205.5 242.0h0M205.8 217.6h0M205.8 223.8h0M201.6 239.1h0M202.3 243.5h0M202.0 221.3h0M205.4 236.9h0M203.9 241.6h0M203.6 236.5h0M201.1 215.1h0M204.8 217.2h0M205.7 222.9h0M201.9 230.1h0M202.2 220.8h0M200.7 222.9h0M205.0 217.0h0M201.9 219.5h0M201.5 211.1h0M205.2 243.8h0M204.2 205.0h0M203.0 234.8h0M201.9 231.4h0M205.6 229.7h0M202.4 241.9h0M204.5 236.9h0M204.0 228.3h0M202.7 241.3h0M205.7 236.1h0M202.8 234.5h0M202.0 242.1h0M201.8 218.7h0M200.8 207.1h0M203.0 199.0h0M205.5 197.7h0M204.5 242.6h0M202.5 234.4h0M202.2 237.7h0M204.8 240.5h0M204.9 201.7h0M202.3 240.9h0M202.0 242.2h0M202.0 219.7h0M204.9 226.4h0M203.1 228.2h0M204.2 222.3h0M204.2 202.8h0M204.8 240.1h0M203.5 203.1h0M200.8 239.6h0M204.1 227.2h0M201.9 242.0h0M205.1 236.2h0M203.7 239.1h0M204.2 233.9h0M204.2 239.0h0M205.1 225.3h0M204.9 194.9h0M205.4 234.2h0M205.0 234.0h0M202.0 205.5h0M204.5 237.7h0M202.5 194.4h0M204.6 241.9h0M203.6 226.4h0M203.6 226.6h0M201.1 237.2h0M201.6 235.2h0M201.3 238.6h0M201.2 242.0h0M205.2 243.8h0M205.4 241.5h0M202.5 205.5h0M203.0 243.0h0M203.6 222.1h0M204.3 240.3h0M201.1 236.0h0M205.7 198.8h0M200.8 229.1h0M201.3 230.9h0M204.4 237.7h0M202.4 241.0h0M204.0 236.0h0M203.6 237.3h0M203.2 241.4h0M203.4 230.7h0M204.9 214.0h0M202.8 221.3h0M204.6 207.0h0M203.7 220.3h0M205.3 235.3h0M201.2 203.7h0M202.2 244.0h0M200.8 240.6h0M200.8 226.3h0M203.5 220.8h0M203.0 205.4h0M201.6 234.2h0M201.5 221.4h0M201.7 233.8h0M205.3 240.1h0M203.6 210.7h0M202.8 228.7h0M203.6 201.1h0M202.9 196.5h0M203.2 239.8h0M201.0 234.0h0M205.8 221.6h0M203.7 195.1h0M204.4 217.9h0M205.3 221.7h0M201.2 238.9h0M201.0 240.7h0M201.8 235.6h0M201.5 235.4h0M201.7 242.7h0M202.7 237.4h0M205.0 239.4h0M203.7 210.5h0M204.4 239.1h0M203.3 236.1h0M205.5 221.7h0M205.2 233.8h0M201.3 202.6h0M204.2 240.9h0M205.6 227.6h0M204.9 236.0h0M203.5 241.7h0M202.7 240.4h0M201.1 240.2h0M202.1 240.9h0M201.1 237.3h0M201.0 205.7h0M204.7 210.4h0M203.3 208.2h0M202.6 241.6h0M204.4 242.8h0M202.3 236.2h0M205.4 244.0h0M201.9 234.2h0M201.7 235.4h0M201.8 242.9h0M205.6 233.3h0M205.3 220.1h0M201.7 194.8h0M205.5 230.4h0M200.8 240.9h0M204.3 206.0h0M203.0 241.2h0M201.8 243.3h0M203.8 225.3h0M201.8 227.1h0M203.4 236.9h0M204.5 243.0h0M202.9 219.5h0M205.3 237.3h0M205.3 230.4h0M201.6 238.4h0M201.8 238.6h0M200.7 228.0h0M202.5 219.3h0M201.0 235.6h0M202.2 243.2h0M201.3 240.8h0M203.2 243.2h0M202.0 225.0h0M205.5 235.7h0M204.8 233.5h0M202.5 239.8h0M203.4 238.0h0M201.1 226.7h0M201.0 229.5h0M204.9 230.6h0M201.1 234.8h0M202.6 238.6h0M201.9 233.2h0M201.8 239.4h0M201.8 242.4h0M201.8 236.9h0M205.5 216.5h0M201.9 241.9h0M204.0 220.9h0M201.9 234.7h0M205.5 238.6h0M205.3 228.2h0M203.3 242.2h0M205.6 225.1h0M204.4 244.0h0M205.3 232.8h0M203.4 225.2h0M201.1 243.8h0M201.1 209.9h0M205.0 241.3h0M205.7 233.8h0M202.8 236.4h0M205.3 242.2h0M205.4 199.4h0M202.3 217.0h0M204.6 242.0h0M204.7 218.8h0M204.1 243.5h0M201.9 242.1h0M200.9 210.0h0M202.4 241.3h0M202.1 206.6h0M203.4 241.9h0M202.5 234.3h0M202.7 241.3h0M202.3 239.8h0M201.4 239.4h0M202.1 242.0h0M204.1 240.3h0M202.1 238.0h0M205.3 224.5h0M205.2 229.6h0M203.0 206.2h0M202.2 243.2h0M204.1 199.3h0M205.3 222.5h0M204.9 212.3h0M201.8 232.3h0M201.8 240.2h0M200.9 198.7h0M205.6 241.9h0M202.1 208.7h0M202.7 233.2h0M204.6 241.6h0M202.2 243.9h0M204.4 224.2h0M200.7 197.8h0M202.8 239.8h0M200.8 242.9h0M204.9 218.4h0M202.1 231.1h0M204.9 217.8h0M204.6 234.0h0M201.2 231.5h0M202.2 239.3h0M204.8 236.4h0M204.2 230.9h0M202.8 215.9h0M201.3 238.4h0M201.5 202.6h0M202.5 239.2h0M203.2 209.4h0M204.1 238.2h0M205.2 243.1h0M204.3 238.5h0M203.5 225.4h0M203.4 236.7h0M203.8 241.1h0M200.9 223.4h0M200.9 211.3h0M203.5 234.4h0M202.9 235.9h0M205.2 241.3h0M201.9 196.8h0M202.5 196.4h0M202.0 232.8h0M204.1 226.0h0M204.8 242.7h0M201.2 196.8h0M202.7 213.7h0M204.2 233.2h0M204.5 231.4h0M204.7 210.5h0M201.5 215.9h0M204.4 213.9h0M203.0 243.4h0M205.3 208.0h0M201.7 235.0h0M205.0 207.0h0M205.4 231.0h0M203.8 243.3h0M201.5 219.9h0M202.5 243.6h0M202.6 236.9h0M205.2 219.1h0M201.6 233.6h0M202.8 199.9h0M202.6 238.7h0M203.4 243.3h0M204.4 204.8h0M200.8 241.3h0M201.9 231.2h0M201.1 237.9h0M203.2 237.2h0M204.0 234.6h0M204.7 210.6h0M204.4 235.2h0M201.5 192.9h0M205.8 191.1h0M200.7 193.9h0M201.7 191.8h0M203.9 192.8h0M204.0 192.5h0M202.7 192.6h0M204.2 194.2h0M203.0 182.6h0" stroke="#000" stroke-opacity="0.9" stroke-width="1.0" stroke-linecap="round" fill="none"/>
<path d="M224.46 191.0V205.4M224.46 216.7V232.6" stroke="#666" stroke-width="0.5" stroke-dasharray="1.6 1" fill="none"/>
<path d="M219.86 191.0h9.2M219.86 232.6h9.2" stroke="#3a3a3a" stroke-width="0.8" fill="none"/>
<rect x="216.06" y="205.4" width="16.8" height="11.3" fill="#fff" stroke="#3a3a3a" stroke-width="0.65"/>
<path d="M216.06 210.3h16.8" stroke="#3a3a3a" stroke-width="0.65" fill="none"/>
<path d="M225.1 212.3h0M223.1 211.0h0M224.2 206.2h0M223.0 209.9h0M225.2 195.0h0M225.3 229.5h0M222.1 220.3h0M226.0 214.6h0M226.7 204.2h0M223.4 212.1h0M226.0 205.5h0M223.5 203.3h0M226.5 229.8h0M226.8 209.3h0M225.5 201.3h0M224.0 215.4h0M223.7 211.9h0M222.8 207.5h0M226.4 193.8h0M226.7 205.2h0M225.5 207.6h0M226.6 221.3h0M223.6 227.9h0M222.3 219.5h0M224.4 203.6h0M227.1 208.7h0M225.0 205.8h0M226.2 229.8h0M225.2 212.2h0M224.0 210.5h0M224.4 209.2h0M223.1 203.1h0M223.9 210.0h0M226.9 201.2h0M226.6 200.0h0M225.0 208.2h0M225.5 222.9h0M223.5 209.3h0M225.2 207.1h0M226.5 205.2h0M222.3 222.2h0M226.9 201.1h0M222.8 215.6h0M222.1 229.4h0M222.0 226.1h0M224.0 199.0h0M225.7 220.1h0M223.1 203.7h0M226.8 201.7h0M225.8 228.3h0M222.6 208.7h0M225.9 222.6h0M223.0 216.2h0M225.6 223.6h0M222.1 214.3h0M226.0 212.3h0M223.7 213.8h0M225.4 221.8h0M222.2 212.1h0M224.5 212.1h0M223.9 214.7h0M222.6 231.8h0M224.1 221.4h0M226.9 208.6h0M222.0 212.1h0M226.9 207.2h0M223.6 193.1h0M226.0 227.4h0M226.1 225.7h0M224.9 198.4h0M225.1 202.8h0M226.9 213.8h0M224.2 213.7h0M226.1 211.6h0M224.4 206.0h0M223.5 218.1h0M227.0 206.2h0M222.6 215.8h0M226.8 207.7h0M225.7 213.6h0M222.8 202.6h0M226.5 219.6h0M222.1 207.7h0M225.6 204.1h0M226.9 207.3h0M225.8 214.9h0M226.6 211.7h0M225.5 213.0h0M225.7 232.4h0M226.6 212.6h0M226.7 219.0h0M223.8 217.8h0M222.8 208.6h0M223.8 203.7h0M222.4 196.4h0M226.6 219.8h0M224.1 230.5h0M226.9 205.7h0M222.4 219.3h0M224.2 207.5h0M225.0 194.6h0M223.8 212.0h0M225.6 207.4h0M223.2 204.4h0M222.0 199.2h0M226.5 216.5h0M224.7 215.2h0M223.6 193.4h0M225.9 201.5h0M222.4 194.6h0M223.4 213.2h0M224.4 195.7h0M226.3 215.3h0M224.9 223.0h0M224.3 206.9h0M225.1 225.8h0M226.7 208.6h0M223.8 217.8h0M222.8 225.3h0M224.7 219.9h0M222.6 212.7h0M223.1 206.1h0M225.3 207.5h0M224.2 231.2h0M222.8 191.8h0M221.9 210.5h0M226.9 209.8h0M226.2 212.2h0M225.2 199.8h0M224.8 208.9h0M224.3 209.4h0M226.9 209.0h0M227.0 224.4h0M226.8 200.8h0M225.2 208.0h0M225.3 205.2h0M226.7 211.4h0M223.1 191.6h0M224.4 221.2h0M224.8 226.3h0M223.5 206.7h0M224.9 201.4h0M224.9 212.6h0M226.7 210.5h0M224.3 232.1h0M224.0 212.5h0M224.7 203.2h0M221.9 230.5h0M222.0 214.4h0M222.0 211.1h0M226.4 228.9h0M226.4 208.6h0M225.8 208.2h0M223.2 206.3h0M225.1 223.7h0M222.6 204.1h0M224.7 194.8h0M224.6 205.9h0M225.4 229.6h0M222.5 217.1h0M226.7 208.8h0M224.9 197.0h0M227.1 207.2h0M222.3 203.7h0M225.6 211.0h0M226.1 208.8h0M227.0 207.2h0M223.1 226.8h0M223.6 228.8h0M226.5 209.6h0M225.5 209.1h0M222.4 216.3h0M225.0 208.1h0M223.4 215.7h0M226.0 208.1h0M222.4 209.2h0M225.6 204.3h0M223.9 203.5h0M222.7 215.0h0M223.2 202.8h0M226.0 213.7h0M226.8 212.9h0M226.9 210.4h0M222.1 202.7h0M226.4 198.6h0M225.1 219.5h0M223.9 211.6h0M222.1 228.9h0M225.6 211.3h0M224.6 208.7h0M223.0 201.6h0M224.6 217.3h0M222.3 208.0h0M226.8 203.9h0M226.3 225.1h0M225.7 206.5h0M227.0 211.5h0M222.8 199.5h0M224.4 212.6h0M226.8 210.4h0M226.6 196.0h0M225.2 212.5h0M222.4 203.7h0M224.4 209.9h0M224.7 215.3h0M224.7 216.6h0M223.4 219.5h0M223.0 241.0h0M223.4 236.8h0M223.1 238.1h0M226.9 243.0h0M222.7 234.5h0M222.9 235.3h0" stroke="#000" stroke-opacity="0.9" stroke-width="1.0" stroke-linecap="round" fill="none"/>
<text x="215.3" y="258.6" text-anchor="middle" font-family='"Liberation Sans", Arial, Helvetica, sans-serif' font-weight="bold" font-size="6.8" fill="#111" stroke="#111" stroke-width="0.22">LGG</text>
<text x="215.3" y="266.4" text-anchor="middle" font-family='"Liberation Sans", Arial, Helvetica, sans-serif' font-weight="bold" font-size="5.6" fill="#111" stroke="#111" stroke-width="0.28">T(n=518)</text>
<text x="215.3" y="273.6" text-anchor="middle" font-family='"Liberation Sans", Arial, Helvetica, sans-serif' font-weight="bold" font-size="5.6" fill="#111" stroke="#111" stroke-width="0.28">N(n=207)</text>
<path d="M264.54 225.4V236.3M264.54 243.8V244.4" stroke="#666" stroke-width="0.5" stroke-dasharray="1.6 1" fill="none"/>
<path d="M259.94 225.4h9.2M259.94 244.4h9.2" stroke="#3a3a3a" stroke-width="0.8" fill="none"/>
<rect x="256.14" y="236.3" width="16.8" height="7.5" fill="#8a8a8a" stroke="#3a3a3a" stroke-width="0.65"/>
<path d="M256.14 242.4h16.8" stroke="#3a3a3a" stroke-width="0.65" fill="none"/>
<path d="M265.5 235.9h0M265.3 244.0h0M262.7 240.3h0M265.5 226.8h0M266.0 244.3h0M265.8 244.2h0M265.2 235.9h0M265.0 242.0h0M263.2 243.3h0M267.1 234.1h0M267.0 244.2h0M263.3 244.4h0M265.4 243.2h0M265.9 244.1h0M264.4 243.3h0M263.4 244.0h0M263.8 241.0h0M262.8 236.5h0M266.1 233.8h0M264.6 242.3h0M267.1 234.2h0M263.0 243.1h0M267.0 237.1h0M265.3 241.4h0M264.8 244.2h0M262.5 237.6h0M262.3 235.8h0M264.5 236.1h0M262.6 234.9h0M265.2 240.4h0M263.2 241.0h0M266.7 243.0h0M265.3 240.6h0M262.2 242.9h0M266.4 236.9h0M265.5 238.7h0M263.1 238.3h0M263.9 244.2h0M265.5 242.5h0M266.6 244.4h0M264.0 237.2h0M266.1 244.1h0M266.8 242.5h0M266.9 239.4h0M265.2 237.0h0M266.2 244.2h0M262.3 244.1h0M265.6 243.6h0M266.4 237.2h0M263.7 244.3h0M266.4 244.2h0M263.8 242.8h0M266.3 243.3h0M263.7 242.9h0M264.8 243.6h0M265.2 229.3h0M262.6 234.0h0M262.4 240.4h0M263.8 235.2h0M264.2 244.1h0M265.3 238.2h0M266.9 235.5h0M266.8 241.5h0M262.6 233.9h0M265.6 237.2h0M262.5 237.1h0M262.3 232.3h0M262.5 244.4h0M266.6 243.6h0M265.6 231.6h0M264.6 243.4h0M264.9 242.7h0M265.2 244.3h0M262.5 229.9h0M264.4 241.4h0M266.7 242.8h0M262.1 227.3h0M265.6 239.5h0M262.3 238.7h0M264.7 242.5h0M262.9 241.2h0M262.3 243.4h0M262.3 240.5h0M264.2 244.1h0M267.0 241.7h0M262.7 243.9h0M264.2 244.3h0M263.5 244.1h0M263.8 243.4h0M263.1 242.8h0M264.0 241.7h0M267.0 232.3h0M262.7 241.9h0M266.3 240.1h0M266.1 236.0h0M264.3 237.9h0M265.5 242.5h0M264.8 243.1h0M267.1 225.8h0M262.2 231.2h0M265.9 233.9h0M266.2 244.0h0M265.3 239.7h0M267.0 243.9h0M262.2 242.0h0M265.1 243.1h0M265.8 229.6h0M262.3 239.6h0M264.7 234.5h0M266.2 244.3h0M265.4 236.9h0M263.9 233.1h0M266.2 242.5h0M266.7 244.3h0M263.1 239.8h0M263.2 238.5h0M266.2 225.8h0M265.9 244.0h0M264.2 230.3h0M267.1 235.8h0M267.0 243.1h0M265.0 244.1h0M263.9 244.1h0M262.4 236.1h0M262.0 229.5h0M264.0 242.5h0M264.2 238.9h0M262.4 233.0h0M263.1 238.4h0M266.4 244.0h0M265.8 244.1h0M263.8 244.2h0M262.5 230.5h0M266.8 242.5h0M266.6 233.8h0M265.9 235.9h0M265.5 241.5h0M265.5 243.0h0M263.3 242.4h0M264.8 233.8h0M262.0 236.3h0M263.6 232.8h0M262.9 234.7h0M262.5 244.1h0M265.7 242.9h0M264.2 243.8h0M263.6 243.9h0M266.0 244.3h0M265.3 239.7h0M265.4 244.0h0M266.6 227.2h0M262.9 234.2h0M264.3 237.8h0M262.3 239.6h0M265.8 236.6h0M265.8 244.0h0M262.1 238.2h0M263.7 243.1h0M262.3 238.5h0M266.2 243.2h0M265.1 240.8h0M263.2 237.0h0M265.6 243.3h0M266.8 241.8h0M266.5 240.0h0M264.0 237.9h0M262.1 238.5h0M263.9 242.7h0M263.3 226.0h0M265.6 243.1h0M263.7 244.3h0M266.3 243.6h0M263.4 244.1h0M266.6 239.9h0M266.8 229.7h0M264.8 242.9h0M262.1 243.0h0M266.0 236.3h0M266.4 243.4h0M262.6 244.3h0M265.7 243.6h0M262.4 244.3h0M263.6 234.5h0M263.4 241.0h0M262.8 231.8h0M265.3 227.2h0M267.1 235.4h0M264.6 243.3h0M266.8 236.9h0M263.3 241.9h0M262.6 237.4h0M263.4 243.7h0M266.2 242.5h0M263.6 243.2h0M263.7 244.1h0M266.5 243.3h0M265.1 242.7h0M264.0 242.7h0M266.5 238.7h0M262.7 235.6h0M263.0 238.0h0M265.2 243.9h0M264.5 239.5h0M265.5 240.4h0M266.2 244.4h0M265.5 235.0h0M262.9 244.3h0M265.7 244.2h0M263.2 243.8h0M262.4 244.1h0M263.5 243.9h0M263.9 241.1h0M264.6 244.4h0M262.5 244.0h0M265.2 244.0h0M263.9 236.4h0M267.1 228.4h0M264.4 230.9h0M266.3 244.0h0M266.1 244.4h0M265.1 240.7h0M265.4 229.4h0M262.4 235.6h0M266.7 243.1h0M267.0 239.4h0M266.7 242.8h0M262.4 236.8h0M263.1 236.1h0M263.6 243.6h0M262.8 244.1h0M263.3 243.9h0M262.4 241.8h0M265.0 243.7h0M266.5 243.4h0M263.7 235.6h0M266.3 238.0h0M266.4 242.6h0M264.9 234.8h0M266.4 243.6h0M263.3 243.2h0M265.1 241.1h0M265.3 243.6h0M262.0 244.4h0M267.1 244.3h0M263.3 241.6h0M264.6 243.9h0M266.1 233.6h0M264.4 243.6h0M262.6 237.6h0M267.1 240.0h0M266.5 244.1h0M264.5 237.4h0M263.6 234.0h0M262.0 238.2h0M263.6 243.8h0M267.0 243.1h0M265.9 243.0h0M262.7 243.7h0M265.3 235.8h0M262.4 227.2h0M264.5 242.0h0M266.9 243.7h0M262.1 230.4h0M264.5 243.4h0M267.0 235.6h0M262.5 244.2h0M264.3 244.3h0M266.1 225.5h0M266.3 244.1h0M264.7 244.2h0M264.9 243.9h0M264.8 243.9h0M265.4 226.8h0M267.0 240.6h0M265.4 242.7h0M263.1 243.8h0M263.1 244.0h0M264.5 236.7h0M265.4 239.3h0M266.1 242.5h0M263.4 243.6h0M262.9 240.6h0M262.4 242.6h0M265.9 236.1h0M262.1 242.9h0M262.0 243.8h0M264.2 243.2h0M266.1 241.3h0M267.0 242.2h0M263.3 244.0h0M263.8 242.6h0M262.5 243.1h0M262.6 242.8h0M263.0 229.7h0M266.1 232.2h0M265.6 239.9h0M265.6 234.5h0M266.0 232.6h0M263.0 228.9h0M267.0 243.2h0M264.7 242.6h0M263.3 243.7h0M266.1 242.6h0M263.2 239.2h0M262.0 237.1h0M265.9 239.0h0M262.6 239.2h0M267.1 242.3h0M266.3 243.8h0M263.7 242.6h0M267.0 244.2h0M265.0 236.3h0M264.8 243.9h0M263.4 243.8h0M266.6 244.0h0M265.1 237.5h0M263.4 243.4h0M263.6 241.2h0M263.5 238.3h0M263.6 243.8h0M266.8 241.2h0M264.9 240.0h0M265.2 242.5h0M265.8 242.6h0M262.3 243.5h0M265.1 241.7h0M266.0 229.8h0M262.4 235.8h0M266.8 240.2h0M264.5 237.0h0M262.0 243.7h0M267.0 242.0h0M264.1 236.2h0M266.2 243.6h0M267.0 239.3h0M262.1 243.0h0M263.4 242.9h0M264.5 243.2h0M263.5 243.9h0M265.6 239.8h0M263.8 243.1h0M264.4 243.8h0M264.1 243.1h0M266.0 243.2h0M264.8 243.0h0M263.9 244.0h0M266.5 243.3h0M264.2 236.2h0M267.1 242.7h0M262.6 243.7h0M262.4 229.8h0M265.6 232.7h0M266.6 237.1h0M262.2 237.9h0M263.7 237.7h0M265.7 238.7h0M265.7 232.4h0M264.8 235.1h0M265.5 239.5h0M266.5 243.0h0M264.9 243.9h0M263.9 243.4h0M263.0 240.6h0M263.7 243.9h0M266.2 235.8h0M266.4 244.1h0M263.8 243.6h0M263.2 231.7h0M267.0 243.0h0M262.2 177.6h0M264.0 224.8h0M264.1 214.0h0M265.6 196.8h0M262.1 203.3h0M265.5 225.0h0M262.1 193.0h0M263.0 183.1h0M264.2 198.1h0M265.9 223.9h0M262.9 185.9h0M265.3 224.4h0M262.1 225.4h0M262.8 201.2h0M263.5 202.0h0M262.3 195.5h0M266.1 211.6h0M264.9 225.2h0M266.2 225.3h0M264.4 204.9h0M264.8 197.0h0M262.1 219.5h0M266.8 196.7h0M263.6 218.4h0M265.3 215.2h0M266.4 202.3h0M264.1 176.3h0" stroke="#000" stroke-opacity="0.9" stroke-width="1.0" stroke-linecap="round" fill="none"/>
<path d="M285.74 228.2V236.6M285.74 243.5V244.4" stroke="#666" stroke-width="0.5" stroke-dasharray="1.6 1" fill="none"/>
<path d="M281.14 228.2h9.2M281.14 244.4h9.2" stroke="#3a3a3a" stroke-width="0.8" fill="none"/>
<rect x="277.34" y="236.6" width="16.8" height="6.9" fill="#fff" stroke="#3a3a3a" stroke-width="0.65"/>
<path d="M277.34 240.1h16.8" stroke="#3a3a3a" stroke-width="0.65" fill="none"/>
<path d="M285.1 242.7h0M288.0 229.4h0M284.3 241.3h0M288.3 238.7h0M283.2 239.5h0M288.2 237.5h0M288.2 231.0h0M287.9 236.4h0M288.3 243.0h0M288.2 240.6h0M285.7 244.1h0M287.4 243.8h0M284.1 240.7h0M287.4 242.6h0M284.0 243.8h0M287.6 238.8h0M287.1 237.6h0M286.7 243.3h0M287.2 241.1h0M284.8 240.5h0M287.3 239.9h0M287.9 236.6h0M286.5 236.0h0M286.7 243.8h0M284.4 236.6h0M285.2 234.6h0M286.8 244.1h0M286.2 236.6h0M286.0 243.6h0M283.8 241.4h0M283.2 244.4h0M285.6 235.5h0M287.4 238.3h0M288.3 235.7h0M283.9 231.5h0M288.2 238.6h0M284.6 236.7h0M288.2 233.9h0M285.3 243.8h0M287.3 239.3h0M286.1 243.8h0M286.5 236.5h0M283.5 243.3h0M283.8 238.4h0M287.8 240.3h0M283.4 235.1h0M286.3 244.4h0M288.1 243.9h0M286.5 238.5h0M286.1 242.6h0M286.8 244.1h0M287.2 243.4h0M284.7 235.8h0M283.7 234.3h0M284.7 240.6h0M286.4 243.5h0M284.3 243.8h0M285.0 239.8h0M285.6 240.0h0M284.9 229.9h0M286.5 240.2h0M288.0 237.9h0M285.9 236.6h0M287.3 235.5h0M284.3 239.1h0M287.8 242.7h0M287.6 236.3h0M283.7 228.4h0M283.2 233.0h0M285.3 236.9h0M284.4 237.6h0M283.2 244.3h0M284.0 240.8h0M287.4 233.5h0M285.7 236.1h0M286.5 234.5h0M285.7 232.8h0M283.7 241.3h0M288.3 244.0h0M288.0 244.3h0M285.5 241.2h0M288.2 241.7h0M286.6 236.5h0M285.3 241.9h0M283.7 239.7h0M288.3 238.9h0M283.3 237.9h0M285.3 240.8h0M284.8 244.4h0M286.9 237.0h0M285.1 234.6h0M283.4 242.8h0M285.2 242.4h0M283.3 232.2h0M286.2 243.6h0M288.0 232.8h0M286.6 243.3h0M288.1 240.1h0M286.1 244.2h0M286.0 236.1h0M286.1 243.9h0M283.3 242.1h0M284.8 243.5h0M285.6 243.6h0M285.9 242.8h0M287.8 237.2h0M286.8 240.0h0M284.9 236.3h0M288.3 236.9h0M286.3 235.2h0M283.5 239.8h0M285.8 241.2h0M284.7 244.1h0M285.2 239.0h0M286.3 243.8h0M287.5 240.6h0M286.9 243.7h0M288.1 229.9h0M286.1 237.7h0M283.7 243.2h0M286.2 243.6h0M287.7 235.5h0M284.9 235.4h0M288.2 243.8h0M283.5 230.0h0M286.3 238.5h0M284.3 241.3h0M286.2 234.7h0M284.4 244.0h0M285.9 241.2h0M284.1 232.2h0M287.9 243.2h0M287.9 243.7h0M285.8 236.3h0M284.0 237.6h0M286.0 244.4h0M284.2 237.7h0M287.9 244.1h0M287.5 235.4h0M283.8 243.8h0M283.9 237.7h0M286.5 234.1h0M284.5 244.0h0M283.8 244.1h0M284.0 235.8h0M283.3 244.0h0M287.6 243.6h0M283.9 237.3h0M283.5 238.4h0M284.6 244.3h0M283.3 239.4h0M287.2 235.6h0M287.1 243.8h0M285.9 239.2h0M288.3 243.7h0M287.9 244.2h0M286.2 233.0h0M284.0 238.1h0M287.0 241.4h0M283.2 243.7h0M288.1 227.4h0M287.2 227.8h0M286.6 226.8h0M283.8 228.1h0M287.3 224.5h0" stroke="#000" stroke-opacity="0.9" stroke-width="1.0" stroke-linecap="round" fill="none"/>
<text x="276.4" y="258.6" text-anchor="middle" font-family='"Liberation Sans", Arial, Helvetica, sans-serif' font-weight="bold" font-size="6.8" fill="#111" stroke="#111" stroke-width="0.22">LIHC</text>
<text x="276.4" y="266.4" text-anchor="middle" font-family='"Liberation Sans", Arial, Helvetica, sans-serif' font-weight="bold" font-size="5.6" fill="#111" stroke="#111" stroke-width="0.28">T(n=369)</text>
<text x="276.4" y="273.6" text-anchor="middle" font-family='"Liberation Sans", Arial, Helvetica, sans-serif' font-weight="bold" font-size="5.6" fill="#111" stroke="#111" stroke-width="0.28">N(n=160)</text>
<path d="M325.82 239.5V242.1M325.82 244.1V244.4" stroke="#666" stroke-width="0.5" stroke-dasharray="1.6 1" fill="none"/>
<path d="M321.22 239.5h9.2M321.22 244.4h9.2" stroke="#3a3a3a" stroke-width="0.8" fill="none"/>
<rect x="317.42" y="242.1" width="16.8" height="2.0" fill="#8a8a8a" stroke="#3a3a3a" stroke-width="0.65"/>
<path d="M317.42 243.3h16.8" stroke="#3a3a3a" stroke-width="0.65" fill="none"/>
<path d="M323.7 239.7h0M328.0 243.6h0M325.6 241.4h0M324.6 243.0h0M327.1 244.3h0M324.1 239.6h0M326.4 244.2h0M323.5 243.4h0M326.7 244.3h0M327.3 242.6h0M327.0 244.2h0M326.0 244.3h0M327.3 244.2h0M324.3 244.3h0M325.7 240.7h0M326.1 244.1h0M324.7 242.2h0M328.0 242.1h0M328.1 244.4h0M326.1 243.6h0M323.3 244.3h0M324.9 243.0h0M327.0 244.2h0M326.0 243.3h0M327.0 243.7h0M326.1 243.9h0M327.3 243.7h0M327.7 244.2h0M328.2 244.2h0M325.8 242.7h0M327.1 244.3h0M327.5 244.3h0M324.5 241.9h0M328.1 244.3h0M323.8 244.3h0M325.6 243.9h0M323.6 244.3h0M327.8 244.3h0M327.1 243.6h0M323.5 243.6h0M325.0 242.9h0M326.9 244.2h0M324.4 243.8h0M324.2 240.4h0M324.8 239.8h0M325.3 242.1h0M325.8 243.2h0M324.5 241.4h0M324.7 244.2h0M328.0 244.2h0M323.5 244.4h0M324.3 240.2h0M324.3 243.2h0M325.8 241.4h0M326.6 243.5h0M325.7 244.3h0M328.1 243.6h0M325.7 241.0h0M323.8 244.3h0M323.8 244.2h0M326.3 244.3h0M323.7 242.6h0M327.2 239.9h0M326.9 243.9h0M324.5 244.4h0M328.2 244.3h0M328.3 243.4h0M325.1 244.2h0M324.0 244.3h0M325.6 240.4h0M324.7 241.4h0M327.5 244.1h0M323.9 242.6h0M325.8 242.5h0M325.3 243.8h0M327.5 241.4h0M325.3 242.1h0M323.8 243.1h0M323.3 244.3h0M325.4 243.4h0M325.2 243.3h0M325.3 243.4h0M327.0 242.2h0M325.0 240.9h0M326.0 243.4h0M323.8 243.3h0M323.3 244.2h0M325.4 243.7h0M326.8 242.2h0M324.9 240.9h0M328.1 242.1h0M323.6 241.5h0M323.8 244.3h0M324.5 243.5h0M324.3 244.4h0M323.8 239.6h0M324.1 242.6h0M328.3 242.1h0M324.9 244.0h0M327.8 243.1h0M327.9 241.7h0M325.5 242.1h0M327.3 242.1h0M327.1 244.1h0M326.5 244.3h0M326.2 243.8h0M326.4 241.7h0M323.6 244.4h0M326.5 239.6h0M326.4 241.1h0M327.8 244.4h0M327.2 241.6h0M325.8 244.1h0M326.4 243.5h0M324.7 243.6h0M324.4 241.5h0M324.0 244.3h0M326.3 243.4h0M324.8 243.5h0M324.4 244.0h0M327.0 241.3h0M327.9 241.4h0M323.9 241.2h0M328.3 243.6h0M325.1 240.0h0M325.4 239.8h0M326.7 244.1h0M327.9 242.8h0M327.6 243.5h0M327.6 243.0h0M326.4 244.2h0M326.5 243.5h0M323.3 242.1h0M326.0 243.9h0M323.5 244.2h0M327.9 239.6h0M324.7 243.0h0M326.5 242.6h0M323.5 244.2h0M327.5 244.1h0M324.2 243.2h0M323.5 243.7h0M324.8 244.3h0M326.7 239.6h0M326.3 244.2h0M324.7 243.7h0M325.4 240.6h0M323.3 242.3h0M324.2 242.7h0M323.8 242.1h0M328.2 243.6h0M324.2 243.7h0M326.6 241.2h0M326.6 244.2h0M323.6 242.2h0M327.2 242.8h0M327.4 242.9h0M327.2 242.0h0M323.7 243.5h0M323.6 243.2h0M326.6 243.9h0M328.2 244.2h0M327.0 243.2h0M323.3 243.2h0M326.7 241.8h0M323.8 242.0h0M324.3 242.3h0M325.3 244.2h0M326.8 242.9h0M325.0 244.2h0M324.6 241.0h0M327.1 239.5h0M325.0 244.1h0M325.2 240.2h0M323.7 243.9h0M324.7 242.5h0M327.1 243.0h0M323.3 242.7h0M325.9 244.1h0M324.7 244.3h0M326.6 240.2h0M324.5 241.3h0M325.7 244.4h0M326.6 242.8h0M328.1 242.4h0M323.9 241.1h0M325.8 242.5h0M326.4 243.2h0M323.3 244.2h0M323.9 243.0h0M324.4 243.9h0M325.4 242.3h0M323.2 243.6h0M324.3 243.4h0M325.5 241.6h0M327.4 244.1h0M328.2 243.4h0M327.9 243.4h0M323.7 243.4h0M323.7 244.4h0M326.2 244.3h0M325.9 240.4h0M323.9 244.2h0M325.9 243.0h0M328.1 241.1h0M325.7 244.1h0M325.5 243.1h0M325.0 243.9h0M326.5 242.1h0M328.2 244.2h0M326.3 244.1h0M325.0 242.3h0M326.8 243.3h0M326.0 244.2h0M326.4 244.2h0M325.3 240.4h0M323.7 243.6h0M327.2 242.7h0M324.8 244.4h0M323.6 240.5h0M325.1 244.3h0M324.3 244.4h0M326.9 244.1h0M323.3 242.7h0M327.6 243.9h0M326.3 242.6h0M323.8 241.9h0M327.0 242.2h0M325.3 241.9h0M326.3 242.9h0M324.8 244.1h0M324.0 242.8h0M325.0 244.2h0M326.3 240.8h0M328.3 244.3h0M326.7 243.3h0M325.8 244.3h0M327.1 241.8h0M327.1 243.0h0M325.2 244.4h0M323.5 242.1h0M327.8 244.3h0M324.0 243.4h0M324.1 244.4h0M324.8 241.4h0M326.8 242.9h0M325.4 241.7h0M325.4 243.8h0M324.0 239.8h0M327.3 241.2h0M327.1 244.1h0M326.5 243.3h0M327.9 243.7h0M323.4 243.6h0M327.5 241.3h0M327.3 242.7h0M325.7 240.2h0M325.2 244.1h0M328.3 240.3h0M327.3 242.6h0M328.2 244.1h0M323.4 243.8h0M327.1 241.5h0M324.6 242.8h0M323.4 239.8h0M327.5 244.3h0M327.9 244.1h0M327.3 244.2h0M326.0 244.3h0M326.2 244.1h0M323.7 242.3h0M326.7 244.4h0M324.7 241.2h0M327.5 241.0h0M323.6 242.0h0M324.2 244.3h0M324.6 243.8h0M326.0 242.7h0M324.8 244.1h0M325.2 243.7h0M325.8 242.1h0M324.0 242.8h0M326.0 244.3h0M323.3 244.1h0M325.5 243.4h0M326.3 241.8h0M325.9 240.8h0M323.3 243.7h0M325.9 240.0h0M327.9 244.2h0M325.2 244.3h0M324.6 243.5h0M327.5 243.3h0M327.6 244.3h0M327.4 243.8h0M325.6 243.4h0M324.3 244.0h0M323.8 244.1h0M326.5 244.2h0M324.0 242.0h0M326.6 242.3h0M323.9 244.2h0M325.5 241.1h0M326.6 244.2h0M326.6 240.3h0M324.8 242.5h0M326.3 243.3h0M327.9 244.4h0M327.2 244.0h0M325.6 240.7h0M323.4 243.6h0M323.7 244.2h0M324.3 243.3h0M323.4 241.2h0M326.7 243.8h0M326.5 243.6h0M323.5 243.7h0M328.2 243.6h0M325.6 244.0h0M327.9 240.0h0M324.2 244.1h0M326.7 244.4h0M328.1 242.1h0M326.8 241.7h0M324.7 242.2h0M328.1 242.9h0M324.9 243.6h0M325.3 239.9h0M325.8 244.2h0M324.7 242.5h0M327.8 243.8h0M325.7 240.3h0M323.7 244.0h0M324.9 242.0h0M327.1 244.4h0M327.9 244.2h0M323.5 240.2h0M327.1 244.2h0M327.7 241.8h0M323.2 241.8h0M326.0 244.1h0M327.9 242.6h0M326.5 239.9h0M328.1 241.2h0M326.9 244.2h0M324.5 244.2h0M327.6 244.3h0M325.8 242.1h0M323.8 240.3h0M325.3 243.3h0M323.3 244.1h0M327.8 244.1h0M323.3 240.9h0M327.8 244.3h0M324.1 242.8h0M323.6 243.6h0M326.7 240.9h0M326.2 244.2h0M326.0 242.9h0M324.8 242.4h0M325.2 242.7h0M325.4 243.3h0M328.0 241.7h0M326.1 241.9h0M327.8 243.3h0M326.1 241.9h0M325.0 240.9h0M323.9 240.7h0M325.9 244.3h0M326.7 241.4h0M323.3 241.7h0M325.1 244.3h0M326.7 244.2h0M324.7 240.1h0M328.3 242.6h0M326.1 244.3h0M327.1 244.3h0M324.2 242.0h0M327.6 243.7h0M325.0 243.9h0M323.9 244.3h0M325.5 242.4h0M324.2 244.1h0M325.6 244.2h0M327.9 244.1h0M325.3 243.3h0M324.3 244.3h0M327.0 242.4h0M325.0 243.6h0M326.3 243.8h0M327.4 244.3h0M324.6 243.1h0M324.4 240.4h0M323.8 242.2h0M326.6 240.8h0M323.6 242.5h0M328.0 244.1h0M323.6 241.3h0M327.6 244.0h0M327.3 243.6h0M327.1 243.7h0M328.3 243.0h0M325.2 244.3h0M326.9 243.2h0M326.3 243.4h0M323.2 241.7h0M326.1 239.8h0M326.7 242.4h0M324.8 242.8h0M324.7 243.8h0M323.7 241.0h0M323.4 242.6h0M324.1 244.0h0M323.5 244.2h0M323.4 243.3h0M324.8 244.4h0M325.9 242.2h0M326.9 243.4h0M324.0 240.8h0M328.0 242.1h0M327.6 244.0h0M325.6 244.2h0M323.8 243.1h0M326.1 244.2h0M323.3 244.3h0M323.9 242.2h0M326.4 244.2h0M325.0 242.2h0M328.0 241.1h0M326.4 242.9h0M326.8 243.8h0M327.6 243.9h0M325.8 242.2h0M325.3 243.4h0M326.6 242.1h0M323.8 243.9h0M324.2 243.3h0M323.7 244.2h0M327.2 244.0h0M326.5 244.4h0M324.2 242.4h0M327.8 243.8h0M324.0 244.4h0M324.3 244.3h0M324.9 243.1h0M327.3 244.1h0M326.4 242.4h0M328.4 244.2h0M327.1 241.2h0M327.3 244.3h0M327.0 244.1h0M327.1 243.6h0M326.0 243.5h0M328.2 244.3h0M327.1 244.3h0M325.9 241.6h0M326.4 242.4h0M325.8 242.2h0M325.0 239.7h0M326.7 240.7h0M327.5 243.8h0M326.6 240.0h0M323.5 243.6h0M325.2 244.2h0M325.4 242.2h0M328.3 242.2h0M324.8 241.9h0M324.7 244.0h0M323.6 242.2h0M323.4 242.6h0M325.1 241.9h0M325.4 242.7h0M326.1 242.9h0M323.4 243.9h0M328.2 242.4h0M327.6 244.3h0M324.1 242.3h0M325.6 244.0h0M327.0 243.5h0M323.8 242.2h0M324.4 244.0h0M324.4 244.1h0M326.0 243.5h0M327.1 239.5h0M327.4 230.4h0M325.1 225.2h0M323.4 239.5h0M323.7 217.4h0M325.1 228.7h0M323.7 223.8h0M324.7 238.2h0M327.3 223.8h0M325.7 187.9h0M324.8 200.7h0M325.4 235.6h0M327.6 239.5h0M328.4 235.8h0M326.8 214.2h0M323.7 234.3h0M327.5 224.8h0M327.8 220.4h0M325.5 233.6h0M324.1 238.5h0M326.7 215.1h0M327.5 232.3h0M328.3 229.9h0M327.5 236.3h0M324.4 228.8h0M324.1 225.2h0M328.1 207.7h0M327.7 218.9h0M326.7 228.4h0M323.5 205.9h0M323.9 213.6h0M326.2 213.0h0M328.2 187.8h0" stroke="#000" stroke-opacity="0.9" stroke-width="1.0" stroke-linecap="round" fill="none"/>
<path d="M347.02 230.3V237.2M347.02 243.0V244.4" stroke="#666" stroke-width="0.5" stroke-dasharray="1.6 1" fill="none"/>
<path d="M342.42 230.3h9.2M342.42 244.4h9.2" stroke="#3a3a3a" stroke-width="0.8" fill="none"/>
<rect x="338.62" y="237.2" width="16.8" height="5.8" fill="#fff" stroke="#3a3a3a" stroke-width="0.65"/>
<path d="M338.62 240.4h16.8" stroke="#3a3a3a" stroke-width="0.65" fill="none"/>
<path d="M349.3 239.0h0M345.7 238.7h0M349.0 235.2h0M347.3 235.3h0M344.5 243.0h0M346.5 238.6h0M346.8 243.6h0M349.2 243.6h0M348.1 243.6h0M344.9 242.5h0M346.5 242.3h0M349.6 239.1h0M348.2 231.6h0M346.7 243.4h0M345.8 243.8h0M349.2 243.4h0M345.2 235.6h0M346.5 241.1h0M346.9 234.8h0M347.5 242.6h0M348.8 243.0h0M348.3 232.5h0M347.5 239.8h0M348.6 237.5h0M348.3 244.0h0M346.0 243.8h0M345.0 242.8h0M349.2 235.9h0M348.2 243.8h0M345.5 237.3h0M347.3 240.8h0M346.6 242.3h0M346.1 237.0h0M345.1 241.7h0M348.2 231.4h0M345.8 236.8h0M344.8 233.5h0M346.4 243.6h0M346.1 237.8h0M348.9 243.6h0M345.5 243.5h0M344.6 238.1h0M349.4 240.1h0M347.0 241.4h0M345.9 240.0h0M348.7 244.2h0M346.9 231.2h0M346.4 244.3h0M347.0 241.3h0M347.6 242.5h0M344.4 237.7h0M349.4 241.9h0M346.8 234.1h0M347.5 238.2h0M348.6 234.0h0M347.8 238.1h0M344.5 238.2h0M348.0 242.8h0M346.2 240.9h0M347.1 241.0h0M348.5 237.9h0M344.9 238.7h0M345.1 241.9h0M345.5 234.2h0M349.6 243.4h0M347.4 243.9h0M347.3 237.1h0M348.4 240.7h0M349.3 239.9h0M349.5 244.2h0M345.7 241.8h0M349.6 240.2h0M349.6 230.5h0M346.7 240.3h0M344.4 234.3h0M348.1 238.2h0M345.5 243.6h0M344.7 240.4h0M347.0 236.6h0M349.1 234.9h0M344.9 241.4h0M347.2 243.8h0M348.8 240.4h0M347.2 243.6h0M349.3 236.6h0M349.2 235.4h0M344.9 241.4h0M345.7 238.2h0M348.2 239.6h0M345.3 235.5h0M347.0 237.7h0M347.7 240.0h0M344.9 243.1h0M346.3 243.4h0M349.0 241.8h0M349.6 243.0h0M347.0 240.0h0M344.8 243.3h0M345.2 237.2h0M344.7 238.2h0M347.9 238.8h0M348.3 236.7h0M346.6 230.5h0M347.6 241.9h0M349.6 243.8h0M345.9 242.4h0M347.2 239.5h0M347.3 237.2h0M345.6 242.0h0M345.4 236.1h0M348.5 232.2h0M347.1 242.2h0M349.3 239.3h0M346.1 237.1h0M346.4 237.1h0M348.1 238.3h0M348.5 239.9h0M347.5 241.7h0M349.5 234.7h0M348.0 239.2h0M346.8 237.1h0M346.2 242.5h0M349.3 244.1h0M347.2 240.9h0M348.0 233.4h0M344.4 239.6h0M347.2 240.4h0M347.0 237.1h0M349.0 243.9h0M345.7 241.3h0M347.6 236.5h0M347.9 242.9h0M348.4 239.1h0M348.0 244.1h0M347.0 242.9h0M345.5 241.4h0M345.5 242.8h0M347.5 239.1h0M344.4 243.2h0M347.7 242.3h0M348.7 241.3h0M345.5 240.4h0M347.8 236.2h0M345.4 231.3h0M349.4 239.1h0M348.0 237.4h0M349.3 234.1h0M345.8 239.4h0M344.6 239.8h0M348.0 238.2h0M349.0 243.4h0M348.8 241.2h0M349.3 239.2h0M345.3 241.6h0M346.5 240.4h0M349.6 243.1h0M347.5 239.7h0M349.4 238.3h0M346.4 243.5h0M345.3 236.6h0M348.0 238.3h0M348.3 237.2h0M348.5 238.1h0M348.4 238.9h0M349.6 243.0h0M349.3 242.1h0M348.0 238.2h0M346.1 240.2h0M346.9 235.4h0M344.8 239.4h0M346.6 243.4h0M346.3 240.0h0M346.3 242.5h0M348.6 239.9h0M344.8 236.0h0M346.6 240.5h0M346.3 234.8h0M346.2 237.0h0M348.0 242.6h0M347.4 243.8h0M349.0 232.6h0M348.4 243.6h0M348.4 241.5h0M349.1 244.3h0M349.3 240.0h0M347.5 237.4h0M345.7 240.8h0M345.6 242.4h0M347.7 237.2h0M347.7 237.2h0M345.5 244.3h0M349.6 243.9h0M347.4 237.1h0M344.5 235.9h0M345.8 232.5h0M347.7 242.0h0M345.9 240.6h0M347.6 239.2h0M347.3 243.7h0M349.4 243.6h0M344.5 238.1h0M344.5 240.5h0M345.9 239.7h0M348.7 235.2h0M346.4 241.3h0M346.6 239.1h0M348.8 243.6h0M349.5 236.1h0M348.7 240.3h0M349.0 244.3h0M347.2 241.7h0M346.7 241.2h0M346.5 242.1h0M344.9 237.5h0M346.6 238.7h0M344.5 243.5h0M346.9 233.2h0M346.5 236.2h0M344.5 243.1h0M347.3 244.2h0M346.4 244.0h0M347.5 243.0h0M349.0 232.8h0M349.1 236.4h0M346.4 244.1h0M347.4 236.4h0M349.4 239.2h0M349.5 244.4h0M345.8 243.9h0M345.8 241.7h0M345.3 236.9h0M349.4 241.5h0M347.1 242.1h0M345.6 232.2h0M348.9 238.9h0M349.0 238.1h0M345.9 237.8h0M347.4 232.7h0M346.4 238.7h0M348.7 238.7h0M349.3 237.5h0M349.1 238.5h0M345.8 237.1h0M344.7 230.9h0M345.5 236.3h0M347.3 240.8h0M348.4 233.2h0M347.1 244.0h0M349.0 244.1h0M346.3 244.2h0M347.1 242.7h0M346.9 237.6h0M348.7 233.1h0M347.4 243.2h0M346.8 243.6h0M346.3 239.1h0M349.4 235.1h0M346.7 239.4h0M344.6 231.2h0M349.1 238.4h0M349.5 243.2h0M348.2 243.7h0M346.3 237.5h0M347.8 240.0h0M345.0 231.8h0M345.2 235.1h0M346.2 240.6h0M345.7 235.5h0M347.0 244.2h0M348.1 239.3h0M347.5 243.1h0M346.6 237.9h0M348.8 239.5h0M346.3 242.5h0M345.3 230.5h0M348.9 243.7h0M347.0 238.3h0M344.8 237.6h0M348.0 243.0h0M344.8 240.6h0M348.6 237.8h0M346.6 240.0h0M347.4 233.3h0M348.4 238.6h0M347.8 238.9h0M349.4 241.3h0M346.2 240.4h0M345.5 239.1h0M348.4 242.3h0M349.4 238.7h0M347.7 237.5h0M345.2 244.1h0M347.3 242.3h0M345.6 242.4h0M346.8 237.1h0M349.1 243.6h0M345.7 243.0h0M349.5 240.6h0M347.8 232.1h0M347.6 243.9h0M345.3 237.5h0M346.6 243.3h0M349.1 237.0h0M347.8 244.0h0M349.2 241.8h0M348.4 243.2h0M349.2 241.7h0M346.0 242.6h0M345.8 239.5h0M345.1 238.3h0M345.1 237.9h0M348.1 235.7h0M346.5 239.5h0M345.4 237.6h0M346.0 243.4h0M345.8 238.2h0M346.4 242.4h0M347.3 243.3h0M349.5 240.7h0M347.2 234.1h0M349.5 236.3h0M348.4 238.8h0M347.3 235.6h0M347.2 240.3h0M345.2 240.6h0M347.2 238.1h0M346.0 240.4h0M344.4 236.9h0M346.4 244.3h0M344.7 241.1h0M347.0 238.0h0M346.9 237.9h0M345.1 231.4h0M349.2 230.8h0M346.8 243.5h0M346.1 240.6h0M347.7 237.7h0M345.0 236.8h0M346.7 243.3h0M347.3 238.8h0M345.2 241.9h0M345.1 240.0h0M345.2 243.8h0M348.9 240.8h0M347.7 232.5h0M348.9 244.1h0M347.5 243.2h0M347.4 228.9h0M346.8 211.8h0M346.1 213.9h0M347.0 219.2h0M345.3 228.6h0M349.4 213.9h0M346.8 221.6h0M345.6 229.8h0M348.9 212.7h0M349.1 226.8h0M345.4 214.6h0M349.0 230.3h0M349.1 209.5h0" stroke="#000" stroke-opacity="0.9" stroke-width="1.0" stroke-linecap="round" fill="none"/>
<text x="336.6" y="258.6" text-anchor="middle" font-family='"Liberation Sans", Arial, Helvetica, sans-serif' font-weight="bold" font-size="6.8" fill="#111" stroke="#111" stroke-width="0.22">LUAD</text>
<text x="336.6" y="266.4" text-anchor="middle" font-family='"Liberation Sans", Arial, Helvetica, sans-serif' font-weight="bold" font-size="5.6" fill="#111" stroke="#111" stroke-width="0.28">T(n=483)</text>
<text x="336.6" y="273.6" text-anchor="middle" font-family='"Liberation Sans", Arial, Helvetica, sans-serif' font-weight="bold" font-size="5.6" fill="#111" stroke="#111" stroke-width="0.28">N(n=347)</text>
<path d="M387.10 148.0V198.5M387.10 238.3V244.1" stroke="#666" stroke-width="0.5" stroke-dasharray="1.6 1" fill="none"/>
<path d="M382.50 148.0h9.2M382.50 244.1h9.2" stroke="#3a3a3a" stroke-width="0.8" fill="none"/>
<rect x="378.70" y="198.5" width="16.8" height="39.8" fill="#8a8a8a" stroke="#3a3a3a" stroke-width="0.65"/>
<path d="M378.70 216.4h16.8" stroke="#3a3a3a" stroke-width="0.65" fill="none"/>
<path d="M387.0 204.4h0M387.0 242.1h0M387.2 214.6h0M388.9 214.2h0M388.6 211.0h0M386.2 186.9h0M384.9 177.1h0M386.3 234.7h0M386.8 193.0h0M389.6 220.1h0M385.5 167.6h0M384.8 202.9h0M387.4 241.5h0M384.9 221.9h0M387.5 173.9h0M385.9 231.8h0M388.3 242.7h0M386.6 241.7h0M385.9 205.4h0M388.1 149.1h0M386.2 202.1h0M386.5 243.0h0M388.6 224.8h0M385.1 204.5h0M388.7 240.1h0M386.8 223.7h0M389.1 242.9h0M385.6 196.0h0M385.5 211.1h0M385.4 161.9h0M385.7 223.9h0M385.5 167.7h0M387.4 226.3h0M388.7 200.9h0M385.3 241.7h0M387.0 211.8h0M389.3 242.8h0M387.3 240.0h0M389.2 239.3h0M388.4 211.9h0M384.5 158.0h0M386.1 194.1h0M389.0 201.7h0M386.5 203.0h0M388.9 163.1h0M387.4 153.2h0M384.7 236.3h0M385.6 213.6h0M385.2 208.5h0M386.8 243.5h0M388.7 202.1h0M387.1 224.9h0M384.5 190.7h0M388.8 244.1h0M384.5 195.6h0M389.1 200.5h0M387.9 186.4h0M386.6 241.9h0M386.3 174.5h0M385.9 242.1h0M386.5 236.0h0M387.2 162.2h0M389.6 213.0h0M385.8 230.4h0M388.8 196.6h0M389.1 176.8h0M387.8 242.9h0M389.2 202.4h0M387.8 169.4h0M389.0 181.9h0M385.1 239.9h0M386.6 157.2h0M388.3 234.5h0M389.3 240.2h0M385.6 169.7h0M387.7 243.9h0M387.0 213.0h0M385.9 160.4h0M387.1 204.1h0M387.2 235.1h0M385.0 150.9h0M388.2 204.2h0M387.5 232.1h0M388.0 241.9h0M385.7 240.2h0M384.6 215.0h0M387.3 180.1h0M389.7 241.1h0M387.5 238.1h0M385.7 240.8h0M388.0 228.4h0M384.7 206.7h0M385.1 243.9h0M385.0 226.0h0M385.5 222.5h0M389.3 219.0h0M387.5 166.9h0M388.0 235.8h0M386.6 242.2h0M384.9 156.8h0M387.8 200.8h0M386.2 206.3h0M385.6 232.6h0M384.8 206.9h0M389.2 243.5h0M388.3 203.5h0M386.4 231.0h0M385.6 226.4h0M389.6 210.1h0M389.5 210.4h0M387.3 237.6h0M386.6 160.7h0M388.8 199.6h0M387.5 222.5h0M386.3 174.0h0M389.6 209.4h0M389.3 180.9h0M385.9 244.0h0M389.6 230.5h0M388.9 215.6h0M389.6 148.8h0M389.5 174.5h0M386.1 239.2h0M388.7 224.1h0M385.5 242.0h0M385.4 179.3h0M385.8 188.1h0M386.1 230.4h0M386.2 242.5h0M388.9 204.6h0M387.8 162.5h0M384.6 206.7h0M388.8 209.8h0M385.4 173.6h0M388.6 235.0h0M385.8 206.5h0M389.5 207.1h0M387.8 228.1h0M387.7 156.4h0M385.9 171.9h0M388.9 243.2h0M384.9 243.4h0M388.8 226.7h0M387.4 233.2h0M386.6 154.3h0M386.6 238.3h0M384.6 228.4h0M387.1 201.3h0M387.0 203.8h0M386.4 238.5h0M385.5 199.7h0M387.5 210.1h0M386.8 204.3h0M385.6 156.4h0M385.7 203.0h0M385.4 181.9h0M384.6 223.3h0M388.2 226.7h0M385.4 193.9h0M388.0 219.0h0M386.5 240.9h0M385.0 222.8h0M385.6 198.4h0M388.3 238.7h0M386.2 240.3h0M387.4 232.8h0M384.9 218.9h0M389.4 237.1h0M386.9 201.4h0M388.7 197.4h0M385.7 232.7h0M389.4 207.6h0M385.7 218.1h0M388.1 206.3h0M389.2 242.5h0M387.8 239.8h0M385.1 228.6h0M389.0 211.8h0M388.6 225.7h0M388.0 216.5h0M387.7 191.2h0M384.8 165.8h0M386.1 169.5h0M386.2 191.8h0M385.7 201.4h0M388.7 152.0h0M385.2 229.3h0M385.9 241.9h0M385.4 199.6h0M385.4 243.5h0M389.0 240.9h0M384.7 202.9h0M384.7 233.4h0M388.5 218.9h0M386.1 203.9h0M386.0 235.5h0M385.4 242.9h0M387.7 237.2h0M385.1 201.6h0M386.7 193.5h0M387.8 243.3h0M384.5 198.1h0M386.8 183.1h0M385.2 198.7h0M384.7 197.1h0M388.6 186.3h0M384.6 243.7h0M385.5 164.3h0M389.5 241.5h0M384.7 241.5h0M386.8 177.3h0M388.2 190.1h0M387.5 205.5h0M389.5 210.5h0M386.7 227.0h0M389.1 192.5h0M385.9 231.8h0M386.5 195.0h0M389.7 202.3h0M386.7 238.8h0M387.6 244.1h0M388.9 195.6h0M389.1 233.9h0M389.3 156.0h0M384.6 240.5h0M386.4 205.7h0M389.4 224.7h0M386.4 236.4h0M385.7 204.9h0M385.8 204.9h0M388.9 213.1h0M387.4 223.2h0M386.5 199.1h0M385.5 221.2h0M385.9 225.3h0M385.8 239.4h0M387.1 208.6h0M384.8 243.6h0M387.3 240.1h0M387.6 241.6h0M388.4 238.8h0M387.3 241.3h0M388.5 241.7h0M385.4 210.3h0M388.8 201.2h0M385.6 179.9h0M386.3 242.3h0M387.6 240.2h0M385.0 234.2h0M388.7 212.7h0M388.7 235.3h0M388.2 234.3h0M386.2 223.3h0M385.5 243.1h0M385.5 210.2h0M385.7 226.8h0M387.8 173.7h0M385.7 240.1h0M387.4 170.1h0M388.5 187.8h0M389.1 241.3h0M388.4 227.7h0M386.2 165.8h0M388.3 230.0h0M389.4 204.2h0M387.9 212.4h0M384.9 240.2h0M387.3 230.5h0M387.0 216.5h0M384.6 237.7h0M386.0 204.6h0M388.9 238.6h0M387.0 241.8h0M389.3 229.3h0M388.9 236.2h0M387.0 200.8h0M387.3 240.6h0M385.4 195.6h0M387.9 239.6h0M385.3 234.8h0M387.3 242.1h0M387.0 230.2h0M388.1 221.1h0M388.2 222.5h0M389.3 218.4h0M389.1 210.3h0M388.9 197.7h0M385.3 208.8h0M386.8 198.6h0M388.2 241.2h0M386.7 207.9h0M384.5 199.8h0M387.6 240.4h0M385.1 237.8h0M384.6 165.6h0M385.4 213.2h0M385.7 191.7h0M385.7 233.4h0M386.6 170.0h0M388.4 168.8h0M387.6 199.9h0M386.6 179.4h0M386.5 221.7h0M386.9 218.0h0M386.3 210.8h0M389.1 176.1h0M386.6 160.8h0M388.4 200.1h0M387.4 202.7h0M386.8 223.9h0M387.6 212.4h0M388.6 242.3h0M387.0 189.7h0M387.9 242.0h0M386.0 239.3h0M388.0 187.8h0M385.7 180.4h0M386.0 241.5h0M389.4 219.8h0M388.1 241.9h0M387.8 220.5h0M386.1 188.8h0M387.5 238.7h0M386.0 227.2h0M385.6 233.1h0M387.8 216.5h0M385.2 240.1h0M384.7 162.8h0M387.9 237.5h0M386.4 209.9h0M386.3 214.0h0M387.8 201.2h0M389.1 240.3h0M387.9 238.1h0M385.2 221.8h0M388.5 239.7h0M387.3 198.9h0M389.3 234.7h0M385.1 243.3h0M386.3 232.7h0M384.9 198.9h0M386.1 193.7h0M386.9 240.5h0M386.8 184.9h0M386.3 190.2h0M388.3 217.8h0M389.3 243.8h0M387.5 235.2h0M386.9 242.1h0M388.7 202.4h0M387.7 177.2h0M387.7 225.5h0M385.8 227.0h0M387.4 173.1h0M388.1 200.5h0M385.1 239.5h0M387.6 205.5h0M387.6 194.2h0M387.5 198.0h0M388.1 207.1h0M389.3 197.6h0M389.4 167.2h0M389.4 212.0h0M388.8 208.8h0M385.3 234.9h0M388.2 228.4h0M388.2 239.4h0M387.2 243.6h0M386.8 242.9h0M386.5 241.6h0M386.5 211.9h0M386.6 197.8h0M385.6 229.4h0M388.7 170.5h0M387.5 183.9h0M389.5 188.4h0M387.2 196.5h0M389.5 195.1h0M389.5 214.6h0M385.0 215.1h0M387.3 168.0h0M387.8 168.6h0M389.2 198.3h0M386.7 154.2h0M388.5 218.3h0M385.8 223.9h0M386.3 242.4h0M386.6 209.4h0M387.6 194.5h0M385.9 173.4h0M385.3 237.9h0M384.6 198.7h0M385.4 241.7h0M389.0 198.1h0M388.9 242.5h0M386.1 213.2h0M386.9 241.4h0M386.6 221.5h0M387.4 156.6h0M385.7 213.2h0M384.7 179.0h0M387.4 198.0h0M389.5 186.2h0M388.8 227.7h0M387.7 173.4h0M385.1 210.6h0M386.7 233.7h0M387.1 201.0h0M389.6 238.9h0M387.7 219.9h0M388.2 200.5h0M387.0 158.4h0M388.4 192.0h0M385.4 204.9h0M389.6 219.6h0M389.4 185.1h0M388.0 239.9h0M386.6 241.2h0M388.9 148.1h0M384.6 201.2h0M385.8 162.7h0M387.7 242.3h0M388.8 208.6h0M385.9 243.5h0M388.1 207.7h0M389.2 239.9h0M388.6 202.9h0M387.2 212.0h0M388.7 168.3h0M389.0 232.9h0M386.9 237.3h0M385.7 222.4h0M386.3 172.8h0M386.4 240.1h0M389.5 216.9h0M384.5 243.7h0M387.7 200.9h0M385.4 234.8h0M385.4 239.9h0M386.4 225.5h0M386.7 188.1h0M388.5 200.4h0M385.9 243.4h0M388.1 238.3h0M384.8 151.0h0M386.3 222.8h0M386.2 207.5h0M385.2 231.2h0M387.2 198.5h0M386.3 227.5h0M386.0 197.8h0M385.9 189.9h0M388.5 240.5h0M386.5 240.2h0M388.1 240.2h0M388.1 230.8h0M388.7 178.4h0M388.8 194.2h0M388.1 243.1h0M387.2 185.0h0M386.2 198.0h0M389.4 192.4h0M384.9 218.3h0M385.0 159.5h0M385.0 241.8h0M386.6 240.9h0M389.1 215.6h0M389.4 218.9h0M388.1 228.7h0M389.4 243.7h0M385.7 177.0h0M387.4 225.0h0M386.3 236.8h0M387.4 243.0h0M389.1 193.3h0M385.3 158.0h0M387.2 214.6h0M384.9 219.4h0M385.1 224.1h0M386.3 179.1h0M387.1 200.6h0M384.7 235.1h0M388.8 238.7h0M384.6 222.8h0M388.5 215.4h0M386.0 170.3h0" stroke="#000" stroke-opacity="0.9" stroke-width="1.0" stroke-linecap="round" fill="none"/>
<path d="M408.30 230.3V237.2M408.30 242.7V244.4" stroke="#666" stroke-width="0.5" stroke-dasharray="1.6 1" fill="none"/>
<path d="M403.70 230.3h9.2M403.70 244.4h9.2" stroke="#3a3a3a" stroke-width="0.8" fill="none"/>
<rect x="399.90" y="237.2" width="16.8" height="5.5" fill="#fff" stroke="#3a3a3a" stroke-width="0.65"/>
<path d="M399.90 240.1h16.8" stroke="#3a3a3a" stroke-width="0.65" fill="none"/>
<path d="M409.3 242.2h0M407.9 243.5h0M407.6 244.0h0M408.7 237.8h0M408.5 236.9h0M407.4 243.0h0M407.7 242.5h0M409.6 241.2h0M407.8 239.7h0M408.2 243.3h0M406.3 244.3h0M407.0 238.7h0M409.4 241.6h0M410.3 241.0h0M408.5 237.4h0M407.5 243.0h0M408.8 236.8h0M409.8 241.2h0M410.9 241.9h0M405.9 239.6h0M406.0 244.4h0M408.0 239.2h0M405.9 241.6h0M408.5 244.2h0M407.6 241.8h0M405.8 238.9h0M406.4 241.9h0M408.4 244.2h0M410.4 242.5h0M407.0 242.8h0M407.7 243.6h0M408.9 243.6h0M410.3 242.9h0M408.9 239.8h0M409.6 237.4h0M407.5 239.9h0M407.0 244.3h0M410.2 232.6h0M409.0 238.2h0M406.4 242.9h0M409.5 244.2h0M406.2 238.4h0M409.8 234.7h0M409.3 237.3h0M410.2 236.3h0M407.8 241.1h0M407.0 241.8h0M410.5 241.6h0M405.8 240.7h0M408.3 236.9h0M407.3 238.0h0M406.3 236.4h0M406.8 238.4h0M410.9 238.8h0M406.2 242.0h0M410.6 237.2h0M407.4 243.6h0M409.4 233.0h0M407.7 238.2h0M405.8 238.8h0M408.9 243.8h0M406.3 243.6h0M406.0 241.4h0M406.5 233.2h0M410.4 238.6h0M407.3 239.1h0M408.7 241.2h0M407.5 244.3h0M407.5 241.6h0M406.2 235.4h0M405.8 240.2h0M409.8 241.1h0M407.1 239.2h0M410.6 238.0h0M406.1 232.9h0M410.1 244.2h0M410.0 240.3h0M410.1 238.8h0M408.4 239.2h0M406.0 242.5h0M409.6 242.7h0M409.9 236.9h0M406.9 237.7h0M409.7 241.0h0M405.9 237.6h0M408.8 239.0h0M405.7 242.7h0M406.3 240.2h0M408.1 235.5h0M410.4 239.4h0M410.1 233.2h0M409.5 231.0h0M406.0 234.5h0M410.6 241.0h0M406.7 239.3h0M409.1 237.4h0M408.4 241.2h0M407.5 234.2h0M407.8 239.9h0M409.7 239.4h0M406.8 242.0h0M410.4 233.4h0M410.5 242.5h0M407.2 241.6h0M408.4 241.3h0M410.2 234.2h0M408.4 231.8h0M406.0 244.2h0M408.8 236.6h0M406.5 233.5h0M409.8 237.7h0M406.5 235.8h0M408.5 240.2h0M407.2 244.3h0M409.1 242.5h0M410.7 243.9h0M409.5 241.8h0M407.5 243.7h0M408.4 240.9h0M409.1 237.6h0M407.0 240.3h0M408.3 237.5h0M408.3 230.5h0M406.4 244.2h0M409.3 243.9h0M406.6 232.4h0M409.1 237.8h0M410.5 232.7h0M408.7 241.1h0M410.3 242.0h0M408.7 244.0h0M407.8 241.2h0M408.2 241.1h0M409.9 241.3h0M409.8 243.2h0M408.4 238.5h0M408.7 243.5h0M407.2 241.0h0M406.6 243.5h0M408.5 236.6h0M406.4 243.0h0M407.3 241.6h0M406.1 242.1h0M408.8 239.8h0M406.7 231.6h0M406.4 243.0h0M405.8 239.9h0M407.6 232.7h0M410.5 243.5h0M408.1 239.2h0M408.3 239.1h0M408.0 243.5h0M406.8 240.4h0M410.2 243.8h0M409.4 241.3h0M407.7 231.5h0M408.7 239.0h0M410.1 230.5h0M409.0 238.6h0M406.4 244.0h0M405.7 243.2h0M405.9 244.2h0M407.2 238.9h0M410.6 243.1h0M408.7 236.9h0M406.6 240.8h0M408.7 242.9h0M408.9 235.2h0M409.7 242.2h0M409.6 241.8h0M409.2 242.7h0M407.1 240.2h0M406.9 235.5h0M406.4 244.0h0M407.1 242.2h0M407.4 239.6h0M407.9 244.0h0M406.6 244.3h0M409.2 237.2h0M409.9 242.5h0M408.5 238.4h0M407.9 237.5h0M406.8 238.5h0M409.8 237.2h0M406.5 238.4h0M406.8 241.5h0M407.4 236.7h0M409.9 238.9h0M408.5 243.6h0M406.7 238.6h0M406.1 243.4h0M410.2 242.0h0M410.7 242.9h0M410.4 241.6h0M409.9 242.9h0M408.4 240.8h0M410.0 233.4h0M406.8 238.5h0M406.0 243.3h0M408.8 231.7h0M408.5 239.5h0M409.7 239.3h0M408.2 244.2h0M407.1 233.2h0M410.2 234.2h0M409.2 243.1h0M407.3 241.6h0M406.7 240.1h0M408.7 238.6h0M407.7 241.7h0M407.5 239.2h0M408.3 240.0h0M410.1 231.7h0M408.7 243.9h0M406.5 242.4h0M409.9 243.3h0M407.7 237.3h0M406.2 239.8h0M406.4 243.1h0M407.3 243.1h0M405.7 237.3h0M410.3 239.5h0M407.8 241.8h0M406.0 243.9h0M409.6 240.4h0M409.7 243.2h0M406.0 240.0h0M407.3 244.1h0M409.0 244.2h0M408.3 240.8h0M408.2 232.5h0M409.3 241.1h0M406.1 238.3h0M405.9 230.9h0M410.7 239.6h0M407.6 243.4h0M408.3 241.1h0M408.2 242.3h0M406.3 242.9h0M410.2 243.8h0M407.0 244.3h0M409.8 237.9h0M408.7 242.4h0M408.0 243.6h0M407.2 241.5h0M410.1 236.4h0M408.2 237.7h0M410.8 240.3h0M409.6 243.6h0M407.3 238.8h0M409.8 243.8h0M410.1 232.0h0M409.8 244.0h0M407.6 243.9h0M408.0 240.3h0M407.0 240.8h0M409.4 238.3h0M406.4 241.2h0M409.6 242.7h0M406.8 242.0h0M405.9 240.5h0M408.6 243.9h0M406.8 237.3h0M408.8 242.7h0M410.3 242.5h0M410.5 237.2h0M409.7 244.2h0M408.3 243.0h0M410.3 242.1h0M407.2 240.4h0M408.6 238.6h0M406.9 240.3h0M410.3 238.4h0M409.1 244.1h0M410.3 241.7h0M406.2 243.2h0M408.0 238.9h0M406.0 236.0h0M410.7 239.2h0M409.8 243.2h0M406.6 237.3h0M406.1 234.6h0M408.4 241.2h0M409.3 236.3h0M406.2 241.8h0M406.6 241.4h0M409.7 232.1h0M407.6 234.8h0M407.5 240.5h0M406.7 237.2h0M407.6 238.9h0M408.1 237.2h0M406.8 243.6h0M409.3 240.7h0M408.3 236.0h0M409.3 243.0h0M408.8 240.9h0M410.0 237.4h0M406.0 239.0h0M410.2 238.9h0M409.9 243.6h0M408.0 241.4h0M407.0 238.6h0M406.2 238.8h0M410.1 233.3h0M410.5 238.8h0M409.5 242.8h0M408.1 238.2h0M406.2 240.8h0M410.7 241.2h0M409.7 243.2h0M405.9 240.4h0M406.4 230.5h0M410.3 240.0h0M407.4 239.4h0M407.7 242.3h0M406.2 236.3h0M406.0 243.4h0M407.5 238.8h0M410.6 240.7h0M409.5 239.9h0M407.8 234.4h0M407.6 231.1h0M410.1 243.7h0M406.8 237.3h0M407.5 244.3h0M409.7 236.3h0M408.7 235.7h0M409.4 238.6h0M407.1 244.3h0M408.2 238.6h0M408.0 243.1h0M408.0 239.9h0M407.0 239.7h0M409.8 233.9h0M406.3 241.3h0M408.5 244.1h0M407.5 242.3h0M406.3 229.2h0M409.0 230.2h0M410.4 229.8h0M409.0 222.3h0M408.1 221.9h0M407.4 209.2h0M407.1 227.7h0M406.6 214.3h0M409.8 230.2h0M409.0 230.3h0M406.9 219.8h0M409.0 225.8h0M408.8 229.2h0M405.7 223.6h0M409.6 225.4h0M409.2 208.6h0" stroke="#000" stroke-opacity="0.9" stroke-width="1.0" stroke-linecap="round" fill="none"/>
<text x="397.3" y="258.6" text-anchor="middle" font-family='"Liberation Sans", Arial, Helvetica, sans-serif' font-weight="bold" font-size="6.8" fill="#111" stroke="#111" stroke-width="0.22">LUSC</text>
<text x="397.3" y="266.4" text-anchor="middle" font-family='"Liberation Sans", Arial, Helvetica, sans-serif' font-weight="bold" font-size="5.6" fill="#111" stroke="#111" stroke-width="0.28">T(n=486)</text>
<text x="397.3" y="273.6" text-anchor="middle" font-family='"Liberation Sans", Arial, Helvetica, sans-serif' font-weight="bold" font-size="5.6" fill="#111" stroke="#111" stroke-width="0.28">N(n=338)</text>
<path d="M448.38 238.0V241.8M448.38 244.1V244.4" stroke="#666" stroke-width="0.5" stroke-dasharray="1.6 1" fill="none"/>
<path d="M443.78 238.0h9.2M443.78 244.4h9.2" stroke="#3a3a3a" stroke-width="0.8" fill="none"/>
<rect x="439.98" y="241.8" width="16.8" height="2.3" fill="#8a8a8a" stroke="#3a3a3a" stroke-width="0.65"/>
<path d="M439.98 243.2h16.8" stroke="#3a3a3a" stroke-width="0.65" fill="none"/>
<path d="M450.6 244.2h0M448.5 241.0h0M445.9 242.5h0M447.1 241.8h0M448.0 240.8h0M447.1 242.6h0M447.6 243.5h0M448.2 244.2h0M447.8 244.2h0M447.5 243.4h0M445.9 242.7h0M448.8 244.1h0M448.9 242.1h0M448.2 242.6h0M449.6 244.4h0M451.0 244.3h0M448.6 243.9h0M448.6 242.8h0M449.2 243.3h0M450.2 244.3h0M450.1 244.2h0M448.1 243.0h0M446.1 244.4h0M448.0 243.2h0M446.5 241.9h0M446.4 241.6h0M446.5 242.4h0M446.5 244.4h0M448.9 243.2h0M448.9 242.0h0M450.1 242.8h0M448.1 243.3h0M446.0 241.5h0M449.8 241.1h0M448.2 243.4h0M447.6 243.4h0M450.5 241.0h0M446.8 244.4h0M446.1 242.6h0M450.3 243.2h0M450.8 244.2h0M450.3 239.6h0M446.0 242.0h0M447.2 241.4h0M449.0 240.9h0M449.6 244.2h0M449.0 242.6h0M449.1 243.2h0M449.8 238.5h0M450.6 239.2h0M448.6 242.4h0M448.5 243.6h0M448.4 244.3h0M448.1 243.4h0M449.2 242.7h0M446.8 243.1h0M445.9 242.6h0M450.7 239.9h0M448.4 240.6h0M450.1 244.2h0M450.0 239.6h0M446.7 243.7h0M450.3 244.4h0M447.8 244.2h0M448.3 243.2h0M448.3 244.3h0M447.9 243.2h0M450.3 244.3h0M446.9 244.3h0M448.4 243.7h0M448.2 242.2h0M447.3 242.1h0M446.2 243.7h0M449.7 243.7h0M449.7 240.3h0M446.1 244.1h0M448.3 243.7h0M448.5 242.0h0M449.3 238.5h0M446.7 243.5h0M450.6 244.3h0M449.4 244.1h0M446.5 240.6h0M450.9 238.2h0M448.5 243.9h0M449.7 244.2h0M449.4 238.9h0M448.1 240.1h0M448.2 242.3h0M446.0 240.2h0M450.1 244.2h0M449.3 244.1h0M446.2 244.3h0M449.0 244.2h0M449.6 244.1h0M446.8 241.7h0M450.2 240.7h0M449.4 242.5h0M447.5 243.6h0M448.6 242.8h0M449.6 241.3h0M450.1 238.2h0M450.1 244.2h0M447.3 244.2h0M448.6 244.4h0M450.6 241.5h0M449.7 244.2h0M446.7 242.2h0M446.5 242.8h0M450.6 244.2h0M445.8 241.6h0M446.5 243.6h0M446.0 244.4h0M449.0 243.7h0M446.0 241.8h0M447.2 240.3h0M450.6 239.5h0M447.1 244.1h0M448.1 241.0h0M447.5 242.1h0M449.8 242.5h0M445.9 241.3h0M448.0 241.5h0M446.0 241.4h0M450.8 239.5h0M450.6 244.3h0M450.3 239.4h0M448.1 243.4h0M450.7 244.3h0M449.7 243.4h0M446.7 242.0h0M448.0 244.4h0M448.4 244.2h0M446.5 243.9h0M449.0 243.8h0M449.6 243.5h0M446.2 241.7h0M448.9 243.2h0M449.7 242.2h0M450.4 239.6h0M450.0 240.7h0M449.5 242.6h0M446.3 244.4h0M449.3 244.2h0M449.1 242.6h0M447.7 243.5h0M446.7 240.6h0M447.7 242.8h0M446.3 240.2h0M449.2 243.0h0M448.5 242.3h0M450.9 241.1h0M447.2 242.0h0M447.5 241.7h0M446.6 242.5h0M450.6 239.3h0M448.1 244.0h0M449.9 242.2h0M445.9 242.8h0M450.3 240.4h0M450.1 244.4h0M448.4 241.5h0M447.1 243.9h0M448.8 240.9h0M450.9 244.2h0M446.8 244.3h0M448.4 244.2h0M450.8 242.4h0M449.7 242.0h0M445.9 244.3h0M446.4 241.0h0M448.1 241.1h0M447.3 243.8h0M447.1 244.3h0M448.7 239.4h0M449.5 243.1h0M449.0 240.2h0M450.0 244.3h0M446.7 243.1h0M446.9 244.3h0M446.2 244.3h0M449.0 241.2h0M450.7 244.1h0M446.8 242.0h0M447.4 243.2h0M448.4 243.1h0M446.7 241.5h0M450.2 244.4h0M447.0 241.1h0M449.5 243.1h0M446.4 243.5h0M451.0 243.0h0M447.8 244.3h0M448.2 242.3h0M447.9 244.2h0M448.7 242.0h0M447.3 242.5h0M448.5 243.5h0M448.7 242.1h0M446.4 242.4h0M447.9 244.2h0M450.2 244.1h0M447.9 244.2h0M448.9 242.2h0M445.8 243.9h0M449.0 244.2h0M446.2 244.2h0M447.7 244.2h0M450.7 241.8h0M448.2 244.3h0M447.2 244.2h0M449.8 243.4h0M448.1 243.8h0M448.0 244.2h0M447.0 241.9h0M447.2 244.1h0M446.4 244.2h0M448.4 242.2h0M448.0 242.0h0M448.4 242.4h0M447.8 238.9h0M448.9 244.1h0M447.3 244.3h0M446.7 243.4h0M448.5 244.2h0M447.4 243.2h0M446.0 243.9h0M448.8 240.9h0M448.1 244.1h0M447.8 244.2h0M446.6 242.3h0M450.3 242.6h0M450.7 242.7h0M446.5 243.8h0M449.9 244.2h0M450.6 243.6h0M446.8 240.1h0M450.1 244.3h0M449.5 238.5h0M448.3 244.0h0M449.0 243.9h0M447.7 241.4h0M447.7 242.5h0M449.3 243.1h0M450.3 244.4h0M447.3 244.1h0M446.6 242.1h0M448.3 243.7h0M449.3 242.2h0M446.9 244.4h0M446.2 243.0h0M446.1 238.8h0M447.3 243.3h0M449.3 241.1h0M449.2 242.0h0M450.6 243.8h0M446.8 243.3h0M446.5 243.6h0M449.3 238.8h0M449.0 241.8h0M447.3 239.6h0M445.9 244.2h0M448.6 240.9h0M448.5 242.2h0M448.3 241.2h0M447.4 244.3h0M448.7 243.0h0M448.8 242.3h0M449.1 240.4h0M446.5 242.3h0M448.3 243.2h0M450.0 242.8h0M446.5 243.4h0M449.4 244.1h0M450.8 242.6h0M446.1 242.9h0M447.0 243.6h0M449.7 243.6h0M448.6 244.4h0M448.6 240.3h0M450.0 243.1h0M447.4 244.0h0M448.7 244.3h0M450.5 241.9h0M450.8 241.7h0M447.7 244.2h0M448.2 243.1h0M446.4 241.9h0M448.6 243.9h0M449.4 244.3h0M446.4 243.8h0M449.4 243.7h0M449.0 244.1h0M449.1 244.2h0M447.9 238.1h0M446.5 244.2h0M449.9 238.1h0M449.8 240.6h0M449.4 244.0h0M449.4 243.4h0M446.5 244.2h0M450.4 244.2h0M449.4 240.4h0M450.9 243.9h0M446.2 244.2h0M450.5 243.2h0M447.8 244.1h0M445.9 238.9h0M449.6 243.5h0M449.1 244.3h0M446.0 244.2h0M447.4 244.4h0M448.4 242.8h0M450.7 242.9h0M447.3 243.5h0M445.9 243.1h0M450.9 244.2h0M446.6 242.8h0M450.0 244.3h0M446.1 242.4h0M448.4 243.9h0M449.0 242.1h0M448.8 241.9h0M450.9 243.9h0M447.1 244.2h0M447.3 242.4h0M448.7 238.9h0M446.7 242.7h0M449.5 243.5h0M449.4 242.2h0M447.8 244.4h0M447.2 244.1h0M447.5 242.0h0M448.4 243.0h0M448.1 244.1h0M446.1 242.5h0M446.7 244.1h0M449.8 243.1h0M450.7 242.5h0M446.7 243.0h0M448.1 242.5h0M448.1 244.1h0M447.8 240.0h0M448.7 242.6h0M445.8 241.6h0M450.9 242.9h0M451.0 240.0h0M448.8 240.1h0M449.2 239.7h0M448.3 240.9h0M446.9 240.6h0M450.3 242.9h0M446.7 243.6h0M445.9 243.5h0M450.7 242.0h0M449.7 242.1h0M446.1 244.3h0M449.9 243.3h0M447.4 244.3h0M449.4 242.8h0M446.5 243.7h0M450.3 243.6h0M448.1 243.3h0M448.7 241.7h0M448.5 243.4h0M446.1 238.2h0M448.3 241.3h0M448.6 242.7h0M446.3 239.7h0M449.0 243.7h0M448.3 243.9h0M450.0 240.3h0M447.0 244.2h0M448.7 238.5h0M447.6 243.8h0M447.0 244.3h0M446.5 241.7h0M448.1 243.6h0M446.5 244.0h0M446.9 244.4h0M449.9 242.2h0M449.7 244.2h0M450.5 241.3h0M449.9 244.1h0M448.0 239.0h0M446.1 239.1h0M446.1 244.4h0M449.3 239.3h0M450.8 244.1h0M450.1 241.5h0M447.6 244.1h0M450.2 242.8h0M449.8 244.3h0M449.1 244.4h0M450.2 243.8h0M446.9 240.2h0M449.2 243.3h0M449.8 243.1h0M448.5 243.8h0M450.0 243.8h0M449.4 242.9h0M447.1 244.2h0M449.2 244.3h0M449.6 244.2h0M449.1 244.3h0M447.1 243.6h0M446.1 244.2h0M448.1 241.5h0M449.6 242.8h0M449.7 243.8h0M450.6 243.2h0M450.0 244.2h0M448.3 242.8h0M447.4 244.2h0M448.5 241.5h0M450.4 244.1h0M447.3 243.6h0M446.8 241.8h0M450.4 241.9h0M450.7 244.2h0M449.6 242.5h0M450.9 241.4h0M450.0 242.8h0M449.0 242.9h0M449.3 243.4h0M448.6 244.1h0M450.3 214.4h0M447.2 237.3h0M449.8 232.2h0M449.4 229.9h0M447.9 236.6h0M445.9 218.9h0M446.2 236.5h0M450.4 218.7h0M449.4 224.9h0M450.2 229.4h0M448.6 228.7h0M447.5 237.9h0M448.0 226.1h0M447.8 237.9h0M447.1 238.0h0M447.5 213.5h0" stroke="#000" stroke-opacity="0.9" stroke-width="1.0" stroke-linecap="round" fill="none"/>
<path d="M469.58 236.6V240.4M469.58 243.5V244.4" stroke="#666" stroke-width="0.5" stroke-dasharray="1.6 1" fill="none"/>
<path d="M464.98 236.6h9.2M464.98 244.4h9.2" stroke="#3a3a3a" stroke-width="0.8" fill="none"/>
<rect x="461.18" y="240.4" width="16.8" height="3.1" fill="#fff" stroke="#3a3a3a" stroke-width="0.65"/>
<path d="M461.18 242.0h16.8" stroke="#3a3a3a" stroke-width="0.65" fill="none"/>
<path d="M467.6 242.2h0M470.4 244.3h0M471.4 240.4h0M469.0 242.8h0M467.6 243.2h0M468.0 242.5h0M471.6 241.5h0M471.5 240.6h0M468.5 239.6h0M467.9 243.8h0M470.7 243.7h0M469.1 240.2h0M468.4 237.8h0M471.7 244.3h0M467.7 243.9h0M470.2 239.8h0M472.0 239.0h0M467.5 241.9h0M470.1 240.0h0M467.4 241.0h0M470.2 241.7h0M467.4 242.4h0M469.9 243.6h0M470.0 237.5h0M471.0 243.6h0M469.0 244.1h0M467.7 239.1h0M471.6 242.4h0M470.3 244.0h0M470.4 244.3h0M469.6 239.5h0M471.8 237.2h0M469.8 240.5h0M468.2 240.9h0M469.4 238.8h0M470.7 240.0h0M469.4 242.4h0M469.2 242.8h0M468.6 243.4h0M468.4 241.4h0M468.9 243.1h0M468.8 244.0h0M470.6 240.3h0M470.0 239.9h0M467.0 242.6h0M468.8 243.4h0M467.0 242.5h0M470.7 244.3h0M468.4 242.0h0M471.4 243.8h0M470.4 241.8h0M470.4 237.6h0M471.1 243.9h0M470.1 241.6h0M470.8 243.9h0M471.0 240.4h0M467.3 242.7h0M470.5 236.6h0M471.4 241.4h0M468.3 238.2h0M469.0 244.0h0M471.5 243.7h0M471.8 237.0h0M468.2 244.1h0M469.6 241.9h0M469.5 241.6h0M470.0 241.9h0M468.0 243.9h0M469.0 243.5h0M471.4 239.8h0M468.2 244.0h0M471.4 244.4h0M472.0 241.6h0M467.4 242.8h0M471.7 241.6h0M468.4 241.1h0M467.6 243.7h0M469.4 238.5h0M472.2 241.8h0M470.1 244.3h0M468.4 242.6h0M470.0 239.7h0M470.7 243.4h0M467.9 241.2h0M471.9 240.6h0M469.4 242.8h0M467.7 237.1h0M470.4 237.4h0M469.6 225.0h0M468.5 229.4h0M471.5 230.5h0M467.1 220.7h0" stroke="#000" stroke-opacity="0.9" stroke-width="1.0" stroke-linecap="round" fill="none"/>
<text x="460.2" y="258.6" text-anchor="middle" font-family='"Liberation Sans", Arial, Helvetica, sans-serif' font-weight="bold" font-size="6.8" fill="#111" stroke="#111" stroke-width="0.22">OV</text>
<text x="460.2" y="266.4" text-anchor="middle" font-family='"Liberation Sans", Arial, Helvetica, sans-serif' font-weight="bold" font-size="5.6" fill="#111" stroke="#111" stroke-width="0.28">T(n=426)</text>
<text x="460.2" y="273.6" text-anchor="middle" font-family='"Liberation Sans", Arial, Helvetica, sans-serif' font-weight="bold" font-size="5.6" fill="#111" stroke="#111" stroke-width="0.28">N(n=88)</text>
<path d="M509.66 228.0V236.3M509.66 242.1V244.4" stroke="#666" stroke-width="0.5" stroke-dasharray="1.6 1" fill="none"/>
<path d="M505.06 228.0h9.2M505.06 244.4h9.2" stroke="#3a3a3a" stroke-width="0.8" fill="none"/>
<rect x="501.26" y="236.3" width="16.8" height="5.8" fill="#8a8a8a" stroke="#3a3a3a" stroke-width="0.65"/>
<path d="M501.26 239.5h16.8" stroke="#3a3a3a" stroke-width="0.65" fill="none"/>
<path d="M510.6 241.1h0M510.4 242.2h0M510.4 235.9h0M507.7 243.0h0M509.4 240.7h0M509.4 243.9h0M507.2 243.6h0M507.2 237.0h0M509.8 241.9h0M507.6 237.2h0M510.6 243.9h0M508.2 242.5h0M511.2 238.1h0M508.7 236.6h0M509.0 242.1h0M508.9 237.5h0M510.9 239.7h0M510.2 243.5h0M511.6 241.3h0M508.7 239.5h0M511.8 242.2h0M508.2 239.0h0M511.4 238.8h0M511.4 236.8h0M510.7 243.0h0M508.3 238.9h0M507.5 234.4h0M508.8 235.0h0M509.4 238.5h0M512.1 238.6h0M508.3 237.1h0M510.6 231.2h0M509.3 235.2h0M507.5 240.4h0M512.2 233.4h0M508.3 239.1h0M507.6 240.9h0M507.8 240.3h0M507.3 238.2h0M510.2 243.4h0M507.1 240.0h0M510.9 239.0h0M508.2 239.0h0M508.6 243.0h0M511.4 242.3h0M507.8 236.8h0M511.1 233.5h0M512.2 241.7h0M511.4 241.8h0M508.6 238.4h0M507.9 233.5h0M511.4 241.3h0M507.5 243.8h0M509.0 244.2h0M510.3 235.1h0M511.3 241.3h0M510.1 233.7h0M509.6 240.8h0M508.7 244.1h0M510.7 238.6h0M510.8 236.0h0M511.3 241.3h0M509.4 243.4h0M511.0 237.3h0M509.1 243.4h0M507.9 243.8h0M510.2 235.9h0M507.3 238.2h0M507.8 237.3h0M512.2 244.3h0M508.9 236.1h0M512.0 243.0h0M512.1 239.8h0M508.8 231.6h0M511.7 240.5h0M511.9 242.7h0M511.3 244.1h0M508.6 236.5h0M509.4 235.0h0M510.6 243.8h0M510.8 238.8h0M511.8 244.2h0M509.4 243.5h0M510.8 231.5h0M507.4 241.2h0M511.5 238.4h0M508.6 239.2h0M510.8 234.5h0M507.1 231.8h0M509.2 241.3h0M509.6 236.9h0M509.6 238.0h0M509.8 238.9h0M512.2 239.2h0M511.5 244.1h0M509.0 236.3h0M507.4 241.8h0M508.1 241.9h0M511.3 244.0h0M510.8 232.5h0M509.8 238.0h0M510.9 240.3h0M508.1 237.6h0M509.5 236.5h0M509.5 228.4h0M508.8 241.4h0M509.5 238.8h0M507.7 244.0h0M510.0 241.1h0M510.4 236.4h0M509.9 238.6h0M511.1 243.1h0M511.5 236.9h0M510.4 235.4h0M509.4 241.0h0M509.0 243.9h0M508.8 242.5h0M511.9 232.1h0M507.4 239.1h0M507.8 238.8h0M509.0 244.3h0M508.0 237.5h0M510.5 235.4h0M512.1 231.6h0M510.6 244.1h0M509.9 237.8h0M509.7 233.8h0M509.1 236.3h0M509.7 243.7h0M510.8 240.8h0M508.8 241.2h0M508.1 233.9h0M508.1 234.4h0M507.2 240.8h0M510.0 234.8h0M510.6 243.9h0M508.0 228.8h0M510.1 240.0h0M509.5 242.7h0M507.8 237.3h0M507.8 241.3h0M511.1 240.4h0M511.8 244.0h0M508.6 243.3h0M510.1 239.2h0M509.3 241.2h0M509.8 238.9h0M508.7 239.3h0M509.8 236.7h0M507.9 236.1h0M508.4 242.9h0M507.9 238.3h0M509.8 243.5h0M510.3 238.5h0M510.0 237.4h0M508.7 242.4h0M510.4 243.2h0M509.3 238.0h0M511.9 237.4h0M508.9 243.5h0M507.8 234.6h0M509.3 244.2h0M508.7 243.6h0M511.4 240.6h0M510.9 235.6h0M512.0 229.1h0M509.6 228.2h0M511.0 236.2h0M510.4 239.7h0M507.5 240.7h0M507.5 241.8h0M511.7 231.5h0M512.0 239.1h0M509.0 242.2h0M507.4 233.3h0M508.1 231.9h0M511.4 237.5h0M509.0 239.3h0M510.9 237.1h0M510.7 222.2h0M508.6 224.9h0M507.5 203.4h0M508.0 224.0h0M508.4 217.4h0M508.3 222.4h0M509.6 227.8h0M510.6 198.3h0M509.7 212.3h0M508.4 209.3h0M511.8 224.4h0M507.2 196.0h0M511.2 220.2h0M509.3 222.4h0M511.0 227.9h0M507.1 192.7h0" stroke="#000" stroke-opacity="0.9" stroke-width="1.0" stroke-linecap="round" fill="none"/>
<path d="M530.86 240.4V242.1M530.86 244.1V244.4" stroke="#666" stroke-width="0.5" stroke-dasharray="1.6 1" fill="none"/>
<path d="M526.26 240.4h9.2M526.26 244.4h9.2" stroke="#3a3a3a" stroke-width="0.8" fill="none"/>
<rect x="522.46" y="242.1" width="16.8" height="2.0" fill="#fff" stroke="#3a3a3a" stroke-width="0.65"/>
<path d="M522.46 243.3h16.8" stroke="#3a3a3a" stroke-width="0.65" fill="none"/>
<path d="M529.2 244.4h0M533.4 243.7h0M532.7 244.4h0M532.6 244.0h0M532.0 244.2h0M531.3 240.6h0M532.2 242.1h0M530.6 240.8h0M533.0 241.1h0M531.9 244.3h0M530.3 244.1h0M529.5 242.9h0M531.4 242.1h0M530.8 241.5h0M529.7 242.4h0M529.0 243.9h0M532.9 243.3h0M533.2 243.8h0M529.9 244.4h0M528.3 242.8h0M528.7 244.3h0M531.6 242.6h0M531.5 242.0h0M532.3 244.4h0M532.1 244.4h0M531.5 240.4h0M531.8 241.3h0M532.8 244.3h0M531.1 240.5h0M531.7 242.2h0M530.5 241.1h0M529.5 242.2h0M529.7 244.1h0M528.6 244.2h0M533.3 244.3h0M532.3 244.4h0M530.7 241.7h0M532.5 242.3h0M533.3 241.4h0M528.3 243.4h0M532.0 243.5h0M530.3 242.5h0M530.7 243.6h0M528.9 243.2h0M529.5 242.0h0M532.0 242.1h0M532.4 244.3h0M528.5 242.3h0M530.6 241.0h0M530.7 244.3h0M529.4 244.3h0M528.3 243.6h0M531.9 244.3h0M531.1 244.0h0M532.7 244.2h0M528.9 241.5h0M531.7 244.4h0M530.6 244.3h0M529.3 242.7h0M530.4 243.5h0M529.7 243.7h0M529.4 241.2h0M529.5 244.3h0M532.6 242.6h0M528.3 241.0h0M529.5 242.4h0M528.8 244.3h0M532.5 243.1h0M533.0 244.3h0M529.9 243.3h0M530.3 244.0h0M530.5 244.4h0M530.1 243.0h0M529.0 244.0h0M529.4 243.5h0M532.9 242.9h0M529.3 243.5h0M532.8 242.3h0M532.4 242.0h0M532.9 242.7h0M531.2 243.1h0M529.8 243.8h0M530.2 243.1h0M530.8 240.5h0M528.6 241.3h0M532.3 242.2h0M530.1 243.5h0M532.2 244.2h0M533.0 243.4h0M531.2 243.8h0M529.6 243.1h0M533.1 242.6h0M529.4 243.2h0M531.0 243.6h0M531.4 241.0h0M528.3 243.6h0M532.1 244.3h0M533.4 241.7h0M528.7 240.6h0M532.0 244.3h0M529.9 244.4h0M529.8 243.4h0M528.3 243.5h0M530.2 241.6h0M531.4 244.2h0M529.5 241.3h0M531.7 244.2h0M529.5 243.0h0M529.8 244.4h0M530.6 243.6h0M531.5 244.0h0M531.7 243.7h0M528.6 243.7h0M530.2 243.1h0M531.9 243.9h0M529.4 243.6h0M530.3 244.2h0M532.9 242.4h0M531.5 243.4h0M530.9 243.6h0M532.5 243.3h0M531.9 244.3h0M531.1 243.2h0M531.8 244.4h0M528.9 241.8h0M530.9 243.6h0M529.9 241.4h0M530.9 244.2h0M529.1 243.7h0M528.7 243.1h0M531.5 243.9h0M529.3 242.8h0M531.4 243.1h0M529.1 241.3h0M528.3 244.1h0M532.2 244.1h0M532.1 244.2h0M532.2 243.7h0M531.1 242.9h0M528.4 243.9h0M532.0 242.0h0M530.1 242.6h0M531.0 241.6h0M532.2 244.3h0M530.0 244.1h0M528.7 244.3h0M531.1 243.1h0M529.2 242.2h0M531.6 241.5h0M531.4 244.4h0M532.4 244.1h0M530.6 244.0h0M528.6 243.1h0M531.3 242.6h0M530.7 244.4h0M529.4 243.8h0M533.2 244.2h0M532.5 242.3h0M531.9 243.8h0M528.6 242.7h0M530.7 244.4h0M532.6 241.0h0M529.3 240.5h0M531.5 244.2h0M531.5 243.4h0M528.6 242.9h0M532.9 243.1h0M530.9 242.9h0M530.5 241.0h0M531.3 242.1h0M531.5 242.3h0M529.5 233.7h0M532.5 233.7h0M530.2 234.5h0M533.0 240.4h0M532.7 240.2h0M532.0 230.3h0" stroke="#000" stroke-opacity="0.9" stroke-width="1.0" stroke-linecap="round" fill="none"/>
<text x="520.2" y="258.6" text-anchor="middle" font-family='"Liberation Sans", Arial, Helvetica, sans-serif' font-weight="bold" font-size="6.8" fill="#111" stroke="#111" stroke-width="0.22">PAAD</text>
<text x="520.2" y="266.4" text-anchor="middle" font-family='"Liberation Sans", Arial, Helvetica, sans-serif' font-weight="bold" font-size="5.6" fill="#111" stroke="#111" stroke-width="0.28">T(n=179)</text>
<text x="520.2" y="273.6" text-anchor="middle" font-family='"Liberation Sans", Arial, Helvetica, sans-serif' font-weight="bold" font-size="5.6" fill="#111" stroke="#111" stroke-width="0.28">N(n=171)</text>
<path d="M203.26 179.7V176H224.46V191" fill="none" stroke="#444" stroke-width="0.8"/>
<circle cx="213.86" cy="176" r="1.6" fill="#fff"/>
<text x="213.86" y="179.4" text-anchor="middle" font-family='"Liberation Sans", Arial, Helvetica, sans-serif' font-weight="bold" font-size="7" fill="#e8202a">*</text>
<path d="M387.10 147.0V143.7H408.30V208" fill="none" stroke="#444" stroke-width="0.8"/>
<circle cx="397.70" cy="143.7" r="1.6" fill="#fff"/>
<text x="397.70" y="147.1" text-anchor="middle" font-family='"Liberation Sans", Arial, Helvetica, sans-serif' font-weight="bold" font-size="7" fill="#e8202a">*</text>
<path d="M40.8 280.0V384.7H548.3" fill="none" stroke="#6e6e6e" stroke-width="0.9"/>
<text x="35.1" y="385.56" text-anchor="end" font-family='"Liberation Sans", Arial, Helvetica, sans-serif' font-weight="bold" font-size="10.5" fill="#111" stroke="#111" stroke-width="0.25">0</text>
<text x="35.1" y="370.09" text-anchor="end" font-family='"Liberation Sans", Arial, Helvetica, sans-serif' font-weight="bold" font-size="10.5" fill="#111" stroke="#111" stroke-width="0.25">1</text>
<text x="35.1" y="354.62" text-anchor="end" font-family='"Liberation Sans", Arial, Helvetica, sans-serif' font-weight="bold" font-size="10.5" fill="#111" stroke="#111" stroke-width="0.25">2</text>
<text x="35.1" y="339.15" text-anchor="end" font-family='"Liberation Sans", Arial, Helvetica, sans-serif' font-weight="bold" font-size="10.5" fill="#111" stroke="#111" stroke-width="0.25">3</text>
<text x="35.1" y="323.68" text-anchor="end" font-family='"Liberation Sans", Arial, Helvetica, sans-serif' font-weight="bold" font-size="10.5" fill="#111" stroke="#111" stroke-width="0.25">4</text>
<text x="35.1" y="308.21" text-anchor="end" font-family='"Liberation Sans", Arial, Helvetica, sans-serif' font-weight="bold" font-size="10.5" fill="#111" stroke="#111" stroke-width="0.25">5</text>
<text x="35.1" y="292.74" text-anchor="end" font-family='"Liberation Sans", Arial, Helvetica, sans-serif' font-weight="bold" font-size="10.5" fill="#111" stroke="#111" stroke-width="0.25">6</text>
<path d="M38.2 380.80H40.8M38.2 366.22H40.8M38.2 351.64H40.8M38.2 337.06H40.8M38.2 322.48H40.8M38.2 307.90H40.8M38.2 293.32H40.8M91.2 384.7v2.2M153.1 384.7v2.2M215.0 384.7v2.2M276.9 384.7v2.2M338.8 384.7v2.2M400.8 384.7v2.2M462.7 384.7v2.2M524.6 384.7v2.2" fill="none" stroke="#6e6e6e" stroke-width="0.8"/>
<path d="M80.55 355.0V368.1M80.55 376.8V380.9" stroke="#666" stroke-width="0.5" stroke-dasharray="1.6 1" fill="none"/>
<path d="M75.95 355.0h9.2M75.95 380.9h9.2" stroke="#3a3a3a" stroke-width="0.8" fill="none"/>
<rect x="72.15" y="368.1" width="16.8" height="8.7" fill="#8a8a8a" stroke="#3a3a3a" stroke-width="0.65"/>
<path d="M72.15 373.0h16.8" stroke="#3a3a3a" stroke-width="0.65" fill="none"/>
<path d="M79.8 375.7h0M78.1 380.5h0M78.8 377.5h0M81.1 369.8h0M79.4 369.9h0M78.4 373.4h0M78.9 375.1h0M82.4 375.6h0M80.4 378.9h0M81.0 376.0h0M83.0 376.1h0M81.1 374.8h0M78.8 367.9h0M80.2 368.0h0M81.2 377.3h0M81.8 371.0h0M79.7 363.6h0M78.0 377.7h0M79.8 378.3h0M81.1 370.3h0M78.3 374.9h0M79.6 379.0h0M79.1 375.0h0M80.3 376.0h0M82.7 373.3h0M78.2 375.4h0M79.5 379.4h0M78.0 376.5h0M83.0 376.6h0M78.7 378.1h0M79.4 373.8h0M82.3 374.1h0M81.8 366.3h0M81.0 358.5h0M82.1 373.8h0M78.2 372.7h0M81.3 380.3h0M80.2 370.3h0M83.0 380.8h0M78.4 377.7h0M81.8 367.5h0M80.4 368.2h0M81.3 368.3h0M78.7 370.5h0M81.3 377.7h0M79.6 380.8h0M82.0 368.3h0M83.0 377.6h0M80.1 369.1h0M80.9 380.8h0M78.9 371.9h0M81.9 377.3h0M80.9 370.7h0M78.8 355.6h0M80.0 378.7h0M78.3 379.2h0M79.4 365.6h0M78.0 374.9h0M83.1 372.3h0M79.4 377.5h0M80.4 373.8h0M78.6 369.9h0M78.1 374.2h0M78.6 376.7h0M83.1 370.4h0M79.7 379.1h0M81.7 380.1h0M79.5 368.1h0M82.0 380.3h0M79.4 369.0h0M83.0 379.5h0M81.1 369.7h0M79.4 377.6h0M79.3 368.6h0M78.5 375.9h0M79.2 371.5h0M81.5 378.2h0M82.7 375.4h0M81.1 379.2h0M82.8 355.7h0M79.2 374.6h0M81.2 378.7h0M81.1 370.0h0M79.4 375.7h0M79.2 368.1h0M79.5 363.1h0M78.0 360.0h0M81.6 367.7h0M82.8 378.9h0M78.9 376.8h0M82.8 372.0h0M81.2 380.7h0M81.4 380.7h0M78.5 369.6h0M80.6 370.7h0M78.6 375.9h0M81.5 371.9h0M80.7 376.3h0M80.7 378.2h0M79.4 370.5h0M80.6 379.9h0M81.6 362.1h0M82.5 380.1h0M82.8 372.2h0M81.5 370.5h0M81.3 375.5h0M79.3 373.6h0M80.0 373.4h0M80.7 380.1h0M78.4 380.2h0M78.1 372.5h0M82.3 370.9h0M79.8 377.4h0M79.8 358.5h0M82.0 380.7h0M81.6 371.9h0M79.1 365.9h0M80.9 374.0h0M81.0 379.1h0M80.2 376.1h0M82.8 373.4h0M79.5 378.8h0M81.3 357.4h0M82.8 371.9h0M78.6 380.0h0M80.7 369.2h0M80.1 379.6h0M80.3 378.9h0M83.1 379.4h0M81.5 380.7h0M78.9 368.0h0M82.9 380.7h0M82.5 359.2h0M78.4 376.1h0M82.1 372.1h0M80.5 373.3h0M78.1 375.2h0M82.3 363.3h0M83.1 376.9h0M82.6 380.7h0M80.6 379.5h0M78.2 363.9h0M80.5 362.0h0M80.7 374.4h0M81.0 377.7h0M81.4 379.6h0M83.0 368.1h0M80.8 373.1h0M81.8 369.7h0M80.9 368.9h0M82.7 361.3h0M78.9 372.2h0M82.3 373.2h0M78.8 371.0h0M82.8 362.9h0M79.6 369.1h0M79.7 377.2h0M80.6 375.8h0M81.3 378.6h0M80.8 368.5h0M83.1 380.8h0M79.3 367.6h0M79.6 364.5h0M79.8 380.4h0M82.3 373.9h0M78.4 372.9h0M79.9 379.3h0M80.2 368.2h0M78.4 378.1h0M79.1 360.7h0M81.4 379.4h0M80.8 367.3h0M79.9 370.9h0M80.2 369.1h0M81.3 370.9h0M82.1 367.0h0M79.4 377.3h0M78.5 370.1h0M82.4 371.4h0M78.5 379.4h0M80.2 379.6h0M78.6 367.3h0M82.8 368.8h0M82.4 370.2h0M79.5 378.2h0M81.3 372.1h0M80.1 375.6h0M78.5 375.4h0M78.7 369.1h0M81.7 376.8h0M79.0 366.6h0M79.4 372.4h0M80.4 375.9h0M80.6 379.5h0M80.3 370.7h0M82.4 367.8h0M79.4 375.7h0M79.9 368.6h0M78.7 373.1h0M78.9 373.1h0M81.2 361.9h0M79.5 367.8h0M79.9 373.6h0M78.3 375.2h0M79.0 355.5h0M81.1 376.0h0M82.9 356.7h0M81.3 380.0h0M80.1 379.2h0M82.6 366.6h0M79.7 375.3h0M82.5 375.5h0M78.2 377.2h0M80.6 377.6h0M82.9 369.3h0M79.9 376.4h0M80.5 372.6h0M80.0 366.2h0M78.5 379.1h0M80.5 367.3h0M80.1 373.3h0M82.1 366.2h0M78.9 375.7h0M78.2 378.6h0M82.7 376.4h0M78.6 379.5h0M82.7 369.3h0M80.9 356.3h0M80.7 376.7h0M78.8 371.5h0M80.3 373.8h0M81.2 379.5h0M78.0 374.7h0M81.9 376.2h0M81.1 380.3h0M82.3 369.9h0M80.4 376.0h0M82.6 370.1h0M82.0 378.7h0M79.7 370.0h0M82.4 375.0h0M79.5 375.7h0M80.1 374.4h0M79.1 373.3h0M80.3 365.5h0M78.1 380.5h0M80.8 373.5h0M78.9 372.6h0M78.3 373.4h0M81.6 369.8h0M80.9 358.9h0M80.7 378.3h0M78.9 358.8h0M82.5 376.3h0M78.1 375.1h0M78.5 369.3h0M80.0 369.2h0M79.2 376.8h0M80.0 375.8h0M82.7 374.9h0M82.9 368.5h0M79.1 370.5h0M79.0 368.5h0M79.7 373.6h0M79.5 376.3h0M78.5 366.7h0M81.5 374.0h0M78.5 368.1h0M80.1 372.8h0M78.5 376.0h0M82.3 374.3h0M79.7 373.7h0M78.6 373.0h0M81.7 358.9h0M79.1 366.0h0M79.4 368.3h0M79.9 380.9h0M79.4 375.8h0M80.4 366.5h0M78.7 360.4h0M79.4 367.1h0M81.0 372.8h0M80.3 366.1h0M78.5 376.9h0M81.1 378.5h0M81.4 372.5h0M81.2 375.3h0M80.1 376.4h0M80.7 379.4h0M79.6 372.0h0M82.6 359.1h0M80.3 379.1h0M81.7 378.7h0M81.5 380.2h0M80.2 375.3h0M78.8 371.8h0M80.0 368.7h0M81.7 376.4h0M79.9 372.8h0M78.7 375.4h0M80.2 380.2h0M81.7 360.4h0M82.9 377.5h0M81.9 372.9h0M78.9 378.1h0M79.2 363.6h0M81.4 366.4h0M79.4 372.3h0M79.7 376.1h0M82.4 373.4h0M83.0 375.8h0M82.4 357.2h0M81.9 359.0h0M80.7 364.6h0M79.1 360.3h0M79.9 378.3h0M79.4 380.2h0M80.9 367.0h0M79.0 368.1h0M82.6 369.7h0M79.9 370.2h0M80.5 378.0h0M82.9 366.1h0M81.5 366.6h0M81.6 367.9h0M78.2 376.5h0M82.8 380.2h0M80.4 379.3h0M78.1 368.4h0M80.3 356.9h0M83.1 370.4h0M80.0 370.2h0M80.9 373.1h0M80.2 375.3h0M83.0 368.3h0M82.0 375.2h0M80.7 359.6h0M79.1 359.2h0M79.0 358.2h0M79.4 367.6h0M82.7 372.6h0M79.6 369.9h0M82.0 380.6h0M82.6 370.1h0M81.4 364.8h0M80.5 375.6h0M82.2 377.2h0M82.8 374.3h0M81.4 357.1h0M81.6 379.6h0M82.3 366.4h0M78.1 375.3h0M79.8 361.9h0M81.9 375.7h0M80.4 377.5h0M80.6 374.3h0M79.3 375.9h0M82.2 372.4h0M81.9 377.4h0M78.3 356.0h0M79.4 373.5h0M80.1 370.8h0M80.3 376.6h0M82.0 371.5h0M82.1 370.1h0M82.2 377.1h0M78.7 378.7h0M79.0 368.1h0M79.6 370.9h0M82.0 375.1h0M78.4 378.9h0M82.7 379.6h0M78.4 375.0h0M79.0 375.7h0M79.7 369.1h0M83.0 379.2h0M79.4 371.1h0M79.1 358.3h0M78.8 373.8h0M81.4 376.6h0M78.1 380.4h0M78.7 370.3h0M82.8 370.1h0M81.3 369.9h0M80.2 373.7h0M81.7 376.0h0M82.6 373.4h0M78.3 372.0h0M82.2 378.8h0M78.3 368.2h0M82.7 366.7h0M80.9 376.5h0M82.9 378.2h0M83.1 367.2h0M79.9 371.6h0M78.5 366.6h0M79.1 378.9h0M81.4 377.9h0M82.1 368.9h0M83.1 356.9h0M78.7 379.9h0M78.3 365.9h0M80.4 375.3h0M80.8 377.6h0M82.1 380.6h0M80.2 375.7h0M78.6 373.5h0M81.4 370.5h0M83.0 378.3h0M82.2 364.3h0M81.5 368.9h0M78.9 360.4h0M80.5 374.3h0M78.6 366.8h0M80.8 367.6h0M82.4 375.4h0M82.2 372.1h0M79.9 379.7h0M79.5 366.4h0M82.9 377.5h0M81.6 379.8h0M80.7 375.9h0M81.4 379.2h0M78.2 378.9h0M81.9 380.2h0M80.9 358.7h0M82.0 375.4h0M78.8 374.2h0M80.5 366.7h0M78.9 367.2h0M82.1 374.0h0M79.0 379.2h0M78.8 377.3h0M79.0 367.8h0M80.4 357.0h0M79.3 380.6h0M79.9 360.2h0M82.7 378.1h0M79.7 360.1h0M78.1 371.8h0M78.6 380.2h0M82.7 374.5h0M78.0 355.3h0M78.7 378.8h0M78.3 375.1h0M81.1 370.5h0M81.7 362.0h0M81.9 378.9h0M79.4 368.1h0M79.8 369.7h0M83.0 379.0h0M81.7 357.3h0M81.1 373.8h0M78.2 366.7h0M79.7 369.2h0M78.1 366.4h0M78.5 375.5h0M79.8 365.5h0M78.6 372.7h0M80.3 370.7h0M81.5 364.3h0M78.6 365.4h0M80.9 365.6h0M78.1 358.3h0M79.1 373.7h0M78.5 367.7h0M81.4 369.0h0M80.8 371.5h0M82.6 378.2h0M80.8 376.1h0M81.5 369.4h0M82.9 368.5h0M82.4 379.6h0M82.4 374.3h0M81.2 379.2h0M81.0 366.6h0M82.4 379.4h0M81.6 377.7h0M79.0 377.1h0M80.8 369.0h0M82.9 366.2h0M81.9 375.7h0M78.4 368.7h0M81.3 368.8h0M82.5 367.3h0M79.9 360.4h0M80.3 376.1h0M78.9 378.3h0M82.9 368.0h0M81.7 369.6h0M79.0 376.0h0M80.0 371.9h0M81.0 347.0h0M81.1 341.5h0M79.1 353.2h0M80.6 351.6h0M81.1 348.9h0M82.3 354.2h0M80.3 355.0h0M82.6 342.9h0M78.6 341.1h0M82.2 353.9h0M80.3 354.1h0M81.3 345.6h0M80.5 354.9h0M81.8 354.6h0M78.7 354.3h0M80.7 340.5h0" stroke="#000" stroke-opacity="0.9" stroke-width="1.0" stroke-linecap="round" fill="none"/>
<path d="M101.75 344.8V360.2M101.75 371.6V380.9" stroke="#666" stroke-width="0.5" stroke-dasharray="1.6 1" fill="none"/>
<path d="M97.15 344.8h9.2M97.15 380.9h9.2" stroke="#3a3a3a" stroke-width="0.8" fill="none"/>
<rect x="93.35" y="360.2" width="16.8" height="11.4" fill="#fff" stroke="#3a3a3a" stroke-width="0.65"/>
<path d="M93.35 366.0h16.8" stroke="#3a3a3a" stroke-width="0.65" fill="none"/>
<path d="M102.5 360.8h0M100.7 370.2h0M99.5 379.9h0M103.1 360.5h0M103.0 359.6h0M103.5 379.9h0M99.8 355.4h0M100.0 367.7h0M104.1 370.5h0M101.6 368.0h0M102.6 352.4h0M102.9 363.6h0M104.1 371.4h0M100.2 375.1h0M104.1 360.2h0M100.7 362.9h0M103.3 346.2h0M99.4 373.2h0M102.9 353.3h0M100.4 372.7h0M103.3 374.1h0M101.8 361.0h0M103.3 362.7h0M101.4 364.4h0M101.4 347.8h0M100.2 352.1h0M99.5 355.9h0M100.3 360.7h0M103.9 359.0h0M99.2 368.9h0M102.7 378.3h0M100.6 370.8h0M102.3 359.9h0M100.1 377.3h0M101.6 349.0h0M101.4 370.5h0M104.3 378.6h0M103.4 374.3h0M104.2 369.3h0M100.3 359.6h0M99.6 372.1h0M101.3 368.4h0M103.8 354.7h0M103.4 375.5h0M101.4 364.7h0M101.8 361.2h0M100.8 364.8h0M103.2 359.8h0M99.7 366.3h0M100.2 360.2h0M102.3 352.9h0M104.1 360.0h0M99.2 361.5h0M99.6 362.1h0M103.9 371.9h0M101.7 376.3h0M99.5 373.4h0M101.9 361.6h0M100.0 379.4h0M102.7 368.7h0M101.0 369.9h0M103.9 369.9h0M100.5 360.0h0M102.2 365.0h0M101.2 358.3h0M101.8 375.0h0M101.3 367.4h0M102.9 378.4h0M100.9 376.1h0M99.3 380.8h0M101.1 363.8h0M99.3 366.9h0M100.8 359.8h0M103.4 370.8h0M103.0 362.3h0M100.7 373.6h0M101.3 357.6h0M101.2 371.1h0M100.1 358.2h0M102.5 372.6h0M104.0 372.6h0M101.0 353.4h0M104.1 363.3h0M103.6 366.2h0M101.3 366.5h0M104.1 369.9h0M99.6 351.8h0M103.6 363.3h0M99.9 365.8h0M100.5 359.7h0M101.4 370.3h0M99.3 371.6h0M100.6 360.2h0M99.3 355.5h0M100.1 377.7h0M103.3 370.8h0M101.3 370.7h0M100.6 363.2h0M102.6 347.0h0M100.2 360.7h0M99.7 358.4h0M99.7 363.3h0M103.6 380.7h0M99.6 379.8h0M103.8 352.3h0M103.9 353.3h0M103.7 375.5h0M99.3 363.7h0M99.9 346.3h0M101.6 350.2h0M103.0 359.5h0M99.6 374.3h0M99.4 376.0h0M99.3 376.6h0M99.7 374.0h0M104.2 369.7h0M103.3 364.0h0M103.1 374.2h0M103.0 361.9h0M100.7 360.2h0M100.0 362.3h0M99.9 375.4h0M100.7 371.1h0M100.0 375.0h0M99.4 376.9h0M100.7 364.1h0M103.1 356.4h0M101.9 371.0h0M101.2 362.4h0M101.2 370.4h0M103.0 374.7h0M101.8 363.7h0M99.4 358.5h0M101.0 377.5h0M103.8 360.3h0M100.8 368.5h0M102.0 361.8h0M99.4 365.3h0M99.2 363.1h0M102.9 375.0h0M100.3 374.1h0M99.9 352.4h0M100.9 352.9h0M103.9 369.6h0M104.3 368.4h0M102.9 370.0h0M100.9 375.7h0M102.8 365.9h0M102.3 361.6h0M101.2 367.5h0M102.0 369.8h0M102.1 370.9h0M100.0 331.3h0M99.4 344.3h0M101.0 337.1h0M104.1 344.8h0M99.5 344.8h0M103.3 331.0h0M99.7 326.8h0" stroke="#000" stroke-opacity="0.9" stroke-width="1.0" stroke-linecap="round" fill="none"/>
<text x="91.4" y="395.7" text-anchor="middle" font-family='"Liberation Sans", Arial, Helvetica, sans-serif' font-weight="bold" font-size="6.8" fill="#111" stroke="#111" stroke-width="0.22">PRAD</text>
<text x="91.4" y="402.8" text-anchor="middle" font-family='"Liberation Sans", Arial, Helvetica, sans-serif' font-weight="bold" font-size="5.6" fill="#111" stroke="#111" stroke-width="0.28">T(n=492)</text>
<text x="91.4" y="409.7" text-anchor="middle" font-family='"Liberation Sans", Arial, Helvetica, sans-serif' font-weight="bold" font-size="5.6" fill="#111" stroke="#111" stroke-width="0.28">N(n=152)</text>
<path d="M142.47 374.8V377.7M142.47 380.3V381.0" stroke="#666" stroke-width="0.5" stroke-dasharray="1.6 1" fill="none"/>
<path d="M137.87 374.8h9.2M137.87 381.0h9.2" stroke="#3a3a3a" stroke-width="0.8" fill="none"/>
<rect x="134.07" y="377.7" width="16.8" height="2.6" fill="#8a8a8a" stroke="#3a3a3a" stroke-width="0.65"/>
<path d="M134.07 379.3h16.8" stroke="#3a3a3a" stroke-width="0.65" fill="none"/>
<path d="M142.6 376.3h0M141.8 378.0h0M145.1 377.5h0M142.5 380.8h0M140.2 380.5h0M143.8 378.4h0M142.3 380.4h0M141.4 378.7h0M142.3 379.7h0M141.6 380.3h0M144.4 379.3h0M143.9 376.2h0M144.1 379.0h0M144.6 379.4h0M142.0 379.6h0M142.2 378.1h0M141.4 380.0h0M144.0 380.9h0M143.3 378.8h0M143.6 378.3h0M143.9 380.8h0M143.7 380.1h0M143.1 378.0h0M141.6 375.5h0M142.6 380.9h0M142.8 376.2h0M143.4 380.4h0M140.3 380.1h0M144.1 379.8h0M142.0 377.9h0M143.7 379.6h0M144.1 380.7h0M142.2 379.2h0M143.0 377.3h0M142.0 380.8h0M142.5 379.3h0M140.1 378.3h0M143.8 377.6h0M143.2 377.7h0M140.7 378.6h0M144.4 377.1h0M144.2 377.2h0M141.7 374.8h0M143.9 380.9h0M140.4 377.1h0M141.7 380.2h0M143.4 379.4h0M141.0 377.7h0M143.2 380.8h0M141.4 375.2h0M142.3 377.8h0M140.9 376.6h0M141.7 378.2h0M144.9 380.4h0M142.8 376.8h0M143.7 380.3h0M144.2 377.2h0M139.9 375.9h0M143.4 379.8h0M140.5 380.9h0M144.4 380.5h0M142.1 378.1h0M144.5 380.8h0M141.1 377.1h0M140.5 380.9h0M143.5 380.8h0M140.8 377.1h0M144.8 377.1h0M143.6 380.7h0M140.4 380.3h0M143.8 378.7h0M142.8 376.2h0M144.3 380.6h0M140.4 377.4h0M144.2 378.7h0M145.0 377.7h0M144.3 380.0h0M141.0 378.8h0M141.1 377.8h0M144.7 375.9h0M142.5 380.4h0M143.4 377.1h0M142.3 378.2h0M142.2 379.4h0M142.4 379.0h0M144.1 379.3h0M144.3 375.3h0M141.7 378.0h0M140.5 378.3h0M142.7 379.5h0M141.3 380.3h0M143.5 380.2h0M141.1 372.7h0M140.0 369.8h0M144.7 374.4h0M140.2 373.9h0M142.2 373.4h0M144.1 374.3h0M143.8 364.6h0" stroke="#000" stroke-opacity="0.9" stroke-width="1.0" stroke-linecap="round" fill="none"/>
<path d="M163.67 368.1V374.8M163.67 379.1V381.0" stroke="#666" stroke-width="0.5" stroke-dasharray="1.6 1" fill="none"/>
<path d="M159.07 368.1h9.2M159.07 381.0h9.2" stroke="#3a3a3a" stroke-width="0.8" fill="none"/>
<rect x="155.27" y="374.8" width="16.8" height="4.3" fill="#fff" stroke="#3a3a3a" stroke-width="0.65"/>
<path d="M155.27 377.4h16.8" stroke="#3a3a3a" stroke-width="0.65" fill="none"/>
<path d="M163.8 377.3h0M165.2 374.2h0M163.1 377.4h0M164.7 374.7h0M161.3 380.0h0M163.5 378.0h0M161.4 377.2h0M163.5 370.0h0M165.3 380.9h0M166.2 373.8h0M165.3 380.9h0M163.3 376.7h0M165.0 375.5h0M164.2 369.6h0M162.2 369.9h0M162.5 377.4h0M163.8 373.9h0M164.4 378.4h0M162.5 379.4h0M165.5 377.7h0M162.5 376.3h0M162.5 372.2h0M162.5 376.8h0M162.2 378.8h0M161.9 371.0h0M162.3 378.1h0M164.7 379.5h0M161.9 369.4h0M161.3 377.8h0M162.8 380.6h0M162.7 378.0h0M164.2 376.4h0M165.8 377.3h0M166.1 375.9h0M164.8 377.1h0M162.1 376.4h0M164.9 377.0h0M163.0 372.7h0M163.6 376.0h0M164.0 378.8h0M163.5 377.2h0M166.2 375.0h0M163.9 368.6h0M164.1 374.8h0M163.3 377.0h0M161.8 374.7h0M163.7 372.9h0M165.3 377.1h0M166.1 377.0h0M164.0 372.3h0M164.9 378.6h0M165.6 374.2h0M164.4 379.5h0M164.6 380.6h0M166.3 379.5h0M163.2 377.5h0M165.5 375.3h0M166.2 371.7h0M164.6 379.0h0M164.7 378.9h0M161.3 377.6h0M161.6 377.1h0M163.1 377.5h0M165.6 378.9h0M163.4 379.0h0M162.0 375.1h0M165.8 377.7h0M161.8 374.9h0M163.7 374.8h0M164.5 369.6h0M161.4 375.5h0M166.3 380.3h0M165.8 378.9h0M164.8 378.0h0M162.1 378.7h0M162.0 377.5h0M165.1 375.9h0M164.7 381.0h0M165.8 378.6h0M163.2 368.7h0M162.0 379.3h0M164.0 380.2h0M162.3 380.8h0M161.7 371.4h0M164.6 377.7h0M163.4 373.4h0M163.6 378.5h0M162.7 368.9h0M161.5 369.1h0M162.2 371.2h0M161.8 380.7h0M163.3 378.5h0M163.2 377.1h0M163.9 372.3h0M165.1 376.2h0M164.0 377.5h0M163.6 380.7h0M162.1 377.3h0M163.9 380.6h0M162.7 378.5h0M164.4 377.5h0M164.0 371.0h0M161.5 375.8h0M163.9 379.5h0M164.2 375.4h0M161.2 376.2h0M166.0 380.8h0M161.7 377.3h0M163.1 368.8h0M164.0 370.8h0M165.1 379.5h0M165.2 377.5h0M164.2 376.9h0M166.1 377.9h0M163.3 373.3h0M164.3 376.3h0M163.3 380.8h0M161.3 376.4h0M164.0 378.3h0M165.4 375.0h0M165.7 377.5h0M166.2 378.4h0M164.0 380.3h0M162.1 377.9h0M164.5 374.9h0M163.9 380.0h0M163.8 372.5h0M161.6 378.0h0M162.9 371.6h0M165.3 380.3h0M164.9 374.6h0M161.2 377.5h0M161.5 380.1h0M165.4 375.9h0M164.8 376.8h0M163.8 380.6h0M161.4 374.0h0M161.1 376.0h0M165.1 380.6h0M164.2 375.2h0M165.2 376.8h0M164.9 378.1h0M166.2 377.5h0M162.6 374.4h0M164.0 375.3h0M165.2 374.4h0M165.6 377.5h0M162.8 378.1h0M164.0 374.8h0M164.0 373.7h0M164.4 373.2h0M164.2 373.3h0M164.5 374.7h0M164.7 377.2h0M166.2 375.7h0M161.4 373.7h0M163.3 377.9h0M163.1 374.0h0M161.7 369.2h0M164.5 376.3h0M161.4 378.4h0M162.1 373.6h0M162.3 377.4h0M166.2 381.0h0M161.9 377.4h0M166.3 379.9h0M164.9 375.2h0M163.0 373.9h0M165.6 374.2h0M164.6 378.0h0M163.6 379.5h0M161.6 378.0h0M161.2 379.4h0M164.9 376.9h0M164.2 377.2h0M162.7 369.3h0M161.8 378.5h0M161.3 380.1h0M165.1 374.0h0M161.8 370.9h0M165.5 379.4h0M161.7 377.8h0M164.0 380.2h0M161.6 377.2h0M163.4 371.6h0M164.5 373.8h0M165.4 374.6h0M163.1 374.7h0M162.9 369.9h0M166.1 368.6h0M164.2 376.8h0M162.6 376.8h0M164.6 375.1h0M161.2 370.5h0M163.5 376.9h0M164.9 379.7h0M165.4 377.4h0M161.3 377.5h0M164.1 375.0h0M163.2 380.5h0M161.1 373.0h0M162.8 375.2h0M161.9 378.7h0M164.9 377.3h0M161.2 376.8h0M165.4 378.7h0M164.8 379.9h0M165.0 378.1h0M162.0 380.9h0M164.4 380.4h0M166.3 377.7h0M162.0 377.9h0M166.0 375.4h0M162.0 376.1h0M164.1 376.7h0M161.1 375.9h0M163.5 377.0h0M162.4 373.9h0M165.0 377.1h0M162.0 378.2h0M162.6 374.6h0M163.6 372.9h0M165.3 376.9h0M165.8 376.3h0M164.3 377.0h0M163.1 376.5h0M161.8 379.4h0M165.4 374.3h0M163.9 378.9h0M162.2 374.8h0M162.1 374.6h0M163.2 368.6h0M164.8 378.3h0M163.3 379.7h0M165.7 377.7h0M162.0 374.8h0M164.6 379.3h0M163.7 375.8h0M165.8 370.8h0M163.3 378.6h0M161.3 378.7h0M162.9 378.4h0M164.7 377.4h0M164.1 377.7h0M161.2 380.8h0M164.0 379.3h0M163.9 378.3h0M163.8 374.1h0M165.5 376.8h0M163.6 374.6h0M162.4 379.3h0M163.8 379.3h0M165.3 376.4h0M165.8 370.3h0M162.2 377.3h0M164.9 374.2h0M163.0 378.5h0M163.4 378.8h0M161.7 377.5h0M162.8 379.1h0M163.0 380.4h0M163.9 378.5h0M164.1 373.7h0M162.0 378.8h0M163.8 369.6h0M163.5 380.7h0M165.3 379.6h0M163.8 376.5h0M161.6 377.5h0M165.2 375.4h0M161.2 368.8h0M165.9 379.0h0M161.7 377.9h0M161.6 378.1h0M163.2 376.5h0M163.4 380.6h0M165.4 378.8h0M164.9 378.5h0M165.5 379.6h0M164.1 372.4h0M165.2 375.3h0M161.4 374.1h0M162.6 378.9h0M164.9 377.7h0M164.4 377.3h0M161.2 380.6h0M161.1 376.4h0M161.9 377.2h0M162.1 369.0h0M165.4 377.2h0M161.7 376.0h0M165.0 377.1h0M166.2 378.7h0M161.6 379.8h0M163.0 374.9h0M165.2 377.4h0M162.9 378.7h0M165.2 377.5h0M161.7 379.2h0M162.3 378.5h0M163.1 373.2h0M166.2 380.0h0M161.8 376.0h0M161.5 376.2h0M161.1 376.9h0M164.7 380.7h0M161.5 380.2h0M165.7 371.7h0M162.4 379.9h0M162.3 377.0h0M161.4 376.8h0M163.1 378.5h0M161.2 377.4h0M161.3 377.2h0M164.5 375.9h0M165.2 377.7h0M161.7 372.9h0M163.6 380.2h0M162.5 365.5h0M162.2 368.0h0M163.8 365.3h0M162.9 364.8h0M164.7 365.0h0M163.1 367.7h0M161.2 362.4h0M161.7 366.6h0M163.8 365.8h0M165.4 365.9h0M162.7 361.4h0" stroke="#000" stroke-opacity="0.9" stroke-width="1.0" stroke-linecap="round" fill="none"/>
<text x="152.7" y="395.7" text-anchor="middle" font-family='"Liberation Sans", Arial, Helvetica, sans-serif' font-weight="bold" font-size="6.8" fill="#111" stroke="#111" stroke-width="0.22">READ</text>
<text x="152.7" y="402.8" text-anchor="middle" font-family='"Liberation Sans", Arial, Helvetica, sans-serif' font-weight="bold" font-size="5.6" fill="#111" stroke="#111" stroke-width="0.28">T(n=92)</text>
<text x="152.7" y="409.7" text-anchor="middle" font-family='"Liberation Sans", Arial, Helvetica, sans-serif' font-weight="bold" font-size="5.6" fill="#111" stroke="#111" stroke-width="0.28">N(n=318)</text>
<path d="M204.39 373.7V377.5M204.39 381.0V381.2" stroke="#666" stroke-width="0.5" stroke-dasharray="1.6 1" fill="none"/>
<path d="M199.79 373.7h9.2M199.79 381.2h9.2" stroke="#3a3a3a" stroke-width="0.8" fill="none"/>
<rect x="195.99" y="377.5" width="16.8" height="3.5" fill="#8a8a8a" stroke="#3a3a3a" stroke-width="0.65"/>
<path d="M195.99 379.6h16.8" stroke="#3a3a3a" stroke-width="0.65" fill="none"/>
<path d="M202.2 377.5h0M202.5 375.6h0M206.2 381.1h0M203.1 379.8h0M206.6 376.2h0M205.6 376.1h0M205.4 376.4h0M205.2 380.1h0M206.2 381.0h0M206.2 380.7h0M202.5 375.0h0M205.7 378.9h0M203.5 381.0h0M205.9 380.5h0M203.3 381.0h0M203.3 378.0h0M203.5 380.3h0M203.2 381.0h0M202.8 381.1h0M205.2 381.1h0M206.7 380.7h0M206.8 376.6h0M202.8 376.7h0M205.5 377.3h0M206.4 381.0h0M204.7 380.5h0M202.3 380.7h0M206.0 379.6h0M205.5 380.6h0M204.5 378.8h0M205.8 378.4h0M203.4 381.1h0M202.8 373.8h0M203.8 379.5h0M201.8 377.4h0M205.4 381.1h0M205.4 378.1h0M203.5 374.4h0M206.8 378.8h0M205.7 381.0h0M202.4 375.2h0M206.9 376.7h0M202.9 375.3h0M203.2 378.3h0M203.8 374.2h0M205.7 377.0h0M205.7 381.0h0M204.7 381.2h0M206.7 381.1h0M204.3 378.9h0M205.8 377.5h0M205.6 381.1h0M202.7 381.1h0M204.2 380.8h0M205.1 377.5h0M206.6 379.4h0M203.8 381.1h0M206.8 379.4h0M202.3 377.1h0M203.5 381.1h0M204.4 373.9h0M205.1 375.0h0M202.8 380.3h0M202.0 379.9h0M206.4 374.3h0M203.2 375.7h0M202.3 381.0h0M202.7 381.2h0M203.0 377.3h0M202.6 378.0h0M203.6 379.5h0M206.8 380.0h0M203.8 381.1h0M205.2 378.9h0M206.3 380.4h0M203.5 380.2h0M206.5 381.1h0M206.3 377.6h0M206.7 376.5h0M206.3 381.0h0M202.2 381.1h0M206.5 377.3h0M205.8 377.3h0M203.6 381.2h0M206.0 377.5h0M203.4 379.3h0M203.9 381.0h0M206.5 380.3h0M203.9 377.0h0M206.3 380.6h0M206.0 377.9h0M204.6 378.7h0M206.2 381.1h0M206.4 380.0h0M206.0 381.1h0M202.9 379.2h0M206.0 380.7h0M205.1 381.2h0M204.6 380.5h0M204.5 377.8h0M205.2 381.1h0M203.3 377.1h0M205.6 380.8h0M202.3 379.0h0M206.3 375.4h0M201.9 379.6h0M202.7 373.9h0M204.2 381.0h0M206.4 381.0h0M204.5 381.2h0M206.8 381.1h0M206.4 377.1h0M204.5 379.1h0M204.4 373.9h0M204.8 375.4h0M204.3 377.9h0M203.2 378.4h0M203.0 379.6h0M205.9 379.6h0M203.7 381.1h0M206.1 376.0h0M205.8 374.7h0M205.4 377.6h0M205.5 380.9h0M204.3 379.8h0M204.9 378.3h0M205.7 377.5h0M204.1 376.6h0M205.4 381.1h0M202.1 377.3h0M206.9 381.1h0M205.3 381.1h0M203.9 380.3h0M204.7 375.6h0M202.9 375.0h0M205.5 380.8h0M206.3 381.1h0M206.8 380.5h0M206.1 381.1h0M203.1 377.4h0M203.7 377.8h0M205.4 380.7h0M203.6 380.4h0M205.6 380.3h0M206.6 373.9h0M206.4 377.9h0M205.9 377.8h0M205.3 377.4h0M204.4 381.0h0M205.0 374.0h0M206.4 374.8h0M205.3 381.2h0M207.0 380.2h0M204.9 381.0h0M203.9 379.0h0M206.0 375.2h0M204.3 378.6h0M204.2 381.0h0M203.4 381.2h0M202.5 380.0h0M203.6 378.7h0M203.7 379.8h0M202.2 375.9h0M203.9 381.1h0M206.1 381.0h0M205.5 380.3h0M206.7 377.2h0M202.9 381.0h0M202.0 381.1h0M202.7 376.6h0M203.1 380.2h0M202.7 381.2h0M202.8 377.6h0M203.4 378.9h0M204.3 379.6h0M202.3 379.6h0M206.5 375.7h0M203.4 377.4h0M202.1 378.3h0M204.7 377.6h0M203.2 381.0h0M203.1 378.6h0M204.6 376.7h0M203.3 375.6h0M203.8 377.5h0M203.7 377.9h0M206.9 377.5h0M204.8 374.1h0M205.3 381.0h0M204.8 380.2h0M205.2 379.7h0M205.7 381.2h0M201.8 380.3h0M204.7 381.2h0M204.1 376.3h0M203.4 381.0h0M202.7 375.1h0M203.4 376.9h0M203.9 381.1h0M203.0 376.6h0M203.5 379.2h0M206.8 381.1h0M204.8 377.2h0M206.9 380.7h0M204.8 381.1h0M204.3 381.1h0M202.9 380.8h0M202.0 374.7h0M206.5 380.2h0M201.8 376.7h0M205.7 380.9h0M206.0 381.1h0M203.6 376.3h0M203.2 379.1h0M203.6 376.2h0M204.0 381.1h0M202.9 377.8h0M204.8 379.4h0M205.4 377.4h0M203.2 375.7h0M205.4 378.4h0M202.6 379.8h0M203.2 375.7h0M205.5 380.7h0M205.6 381.1h0M203.7 377.4h0M203.8 377.9h0M206.4 379.3h0M205.4 380.5h0M204.3 379.2h0M206.3 377.4h0M205.7 377.6h0M202.6 380.6h0M204.2 375.5h0M206.9 377.5h0M202.0 381.0h0M206.7 379.4h0M206.6 381.0h0M202.5 380.9h0M202.7 376.1h0M203.2 379.8h0M205.5 380.5h0M202.5 381.2h0M205.4 375.2h0M202.9 374.7h0M205.8 381.1h0M202.8 378.4h0M202.6 378.0h0M205.9 381.1h0M201.8 379.8h0M204.2 380.3h0M204.0 378.6h0M204.1 378.5h0M202.1 377.7h0M203.0 377.5h0M204.9 378.2h0M203.4 381.1h0M206.9 375.7h0M204.8 378.7h0M202.2 381.0h0M203.9 379.7h0M203.8 377.8h0M203.0 377.8h0M203.5 381.1h0M203.8 379.6h0M205.4 374.3h0M202.0 381.0h0M205.2 377.5h0M203.1 377.4h0M204.8 379.9h0M205.3 378.3h0M203.4 377.3h0M206.7 377.7h0M202.3 376.8h0M202.8 380.0h0M205.4 375.4h0M202.3 375.1h0M206.2 381.1h0M204.9 381.1h0M205.4 381.1h0M205.4 381.1h0M203.0 376.3h0M204.8 379.4h0M205.0 380.3h0M205.8 375.0h0M206.6 376.1h0M204.6 381.1h0M206.8 379.7h0M203.8 381.1h0M205.4 376.5h0M202.5 378.9h0M205.6 379.1h0M203.2 381.2h0M206.1 378.5h0M203.0 377.0h0M203.3 378.6h0M202.6 381.1h0M205.6 378.8h0M205.1 381.0h0M202.9 378.8h0M202.3 380.0h0M203.7 381.1h0M202.6 377.5h0M206.8 377.5h0M204.5 378.5h0M206.0 381.0h0M201.9 381.1h0M205.8 379.2h0M204.7 379.9h0M203.3 379.5h0M202.7 374.3h0M202.6 379.4h0M205.6 381.0h0M205.5 379.3h0M206.7 379.7h0M206.1 381.2h0M202.4 380.2h0M206.3 378.3h0M205.3 375.3h0M205.7 380.2h0M204.4 378.6h0M203.1 379.7h0M205.1 379.5h0M202.1 376.5h0M204.3 380.5h0M202.1 381.0h0M203.3 378.5h0M203.2 377.4h0M205.0 379.2h0M201.9 378.4h0M203.9 379.8h0M202.1 379.3h0M203.9 381.1h0M206.2 381.1h0M206.2 381.1h0M204.8 381.1h0M203.9 374.2h0M206.0 381.0h0M202.4 380.4h0M206.0 381.1h0M202.8 374.0h0M202.9 377.9h0M206.5 380.9h0M204.8 377.8h0M203.0 375.4h0M203.9 381.1h0M204.5 381.1h0M203.9 375.8h0M205.6 379.3h0M205.4 381.1h0M203.2 380.0h0M206.8 376.4h0M205.8 376.7h0M202.7 381.2h0M206.2 381.2h0M204.7 380.1h0M204.9 379.4h0M202.1 375.0h0M204.2 379.6h0M202.5 378.3h0M202.7 381.0h0M205.8 381.1h0M206.2 377.5h0M204.9 381.1h0M207.0 377.1h0M202.2 374.1h0M205.2 378.6h0M202.4 380.0h0M204.2 374.3h0M205.8 377.4h0M202.9 381.2h0M206.5 375.5h0M202.2 381.0h0M206.1 380.5h0M205.2 381.1h0M202.4 379.3h0M205.6 381.1h0M205.3 378.2h0M206.3 376.2h0M205.8 380.9h0M202.5 378.0h0M205.4 378.0h0M203.1 377.6h0M204.1 381.1h0M205.6 377.5h0M204.2 376.8h0M205.4 381.1h0M205.7 377.0h0M203.6 379.9h0M203.6 381.0h0M201.9 379.3h0M202.2 376.4h0M202.5 381.0h0M204.1 374.2h0M207.0 379.6h0M206.1 379.4h0M206.3 375.0h0M205.4 380.6h0M206.4 378.1h0M204.4 379.6h0M203.2 381.2h0M206.4 377.6h0M202.6 381.0h0M204.0 378.3h0M205.5 376.1h0M203.2 377.4h0M203.9 380.2h0M205.2 380.0h0M206.9 381.1h0M202.1 380.5h0M204.8 381.0h0M202.9 381.0h0M203.7 381.2h0M206.8 376.7h0M205.5 381.2h0M203.5 380.9h0M204.8 378.1h0M206.1 379.7h0M204.0 381.1h0M206.5 379.8h0M204.4 377.2h0M201.8 380.7h0M203.8 380.2h0M204.4 380.9h0M204.0 378.5h0M204.5 377.3h0M206.7 380.3h0M204.9 381.2h0M202.0 377.4h0M202.8 377.5h0M202.2 380.5h0M202.3 380.9h0M203.0 381.0h0M203.4 381.1h0M204.8 381.1h0M202.2 377.0h0M203.2 381.1h0M201.9 376.3h0M202.0 379.2h0M204.6 378.4h0M206.9 381.0h0M205.3 378.8h0M204.9 381.1h0M202.7 378.1h0M204.6 377.3h0M206.2 375.9h0M203.1 375.2h0M202.6 381.1h0M202.0 380.1h0M204.2 376.7h0M203.6 375.4h0M206.7 377.7h0M206.1 379.4h0M204.7 377.5h0M204.0 380.5h0M204.7 381.0h0M206.9 378.7h0M205.7 381.1h0M202.2 381.0h0M206.3 380.9h0M202.7 378.8h0M202.5 367.9h0M202.0 344.6h0M205.0 346.2h0M205.9 300.5h0M205.1 363.7h0M205.7 340.9h0M206.5 372.1h0M203.9 349.7h0M202.4 373.7h0M205.7 373.7h0M205.4 356.4h0M204.3 366.8h0M203.5 373.5h0M204.5 347.2h0M204.6 320.2h0M206.5 344.8h0M206.7 313.4h0M205.6 354.0h0M202.6 354.5h0M204.5 332.1h0M202.7 320.2h0M202.7 308.3h0M202.4 355.3h0M202.8 323.2h0M203.8 373.2h0M206.0 354.4h0M206.7 370.6h0M204.9 323.9h0M204.3 372.6h0M204.1 352.1h0M203.1 361.2h0M202.4 362.1h0M202.7 372.9h0M201.8 372.0h0M203.7 373.6h0M205.1 370.8h0M203.3 325.8h0M203.8 336.4h0M205.8 332.2h0M204.9 360.5h0M202.5 327.0h0M203.0 363.5h0M204.2 356.1h0M201.9 342.5h0M204.5 301.8h0M202.4 327.0h0M206.3 359.7h0M202.6 351.8h0M203.5 372.5h0M203.7 371.2h0M204.7 373.7h0M204.0 364.8h0M202.2 373.3h0M206.2 345.5h0M205.1 364.3h0M203.1 295.8h0" stroke="#000" stroke-opacity="0.9" stroke-width="1.0" stroke-linecap="round" fill="none"/>
<path d="M225.59 332.2V349.5M225.59 361.0V377.5" stroke="#666" stroke-width="0.5" stroke-dasharray="1.6 1" fill="none"/>
<path d="M220.99 332.2h9.2M220.99 377.5h9.2" stroke="#3a3a3a" stroke-width="0.8" fill="none"/>
<rect x="217.19" y="349.5" width="16.8" height="11.5" fill="#fff" stroke="#3a3a3a" stroke-width="0.65"/>
<path d="M217.19 355.3h16.8" stroke="#3a3a3a" stroke-width="0.65" fill="none"/>
<path d="M225.7 359.3h0M226.2 375.4h0M226.2 356.5h0M228.0 346.7h0M226.3 375.0h0M223.1 341.8h0M225.0 349.9h0M223.8 363.6h0M227.4 341.8h0M223.5 366.9h0M224.9 356.7h0M225.1 350.8h0M224.0 370.3h0M226.2 348.6h0M223.5 362.4h0M224.3 358.4h0M227.1 353.3h0M225.2 332.6h0M224.0 372.8h0M223.1 335.6h0M223.2 348.5h0M224.3 356.4h0M223.5 350.5h0M224.4 377.2h0M227.8 357.7h0M223.3 370.5h0M224.6 369.8h0M224.4 367.6h0M227.5 358.6h0M227.0 360.4h0M223.6 352.6h0M226.7 375.1h0M227.2 377.4h0M225.4 368.3h0M223.5 365.4h0M227.3 355.5h0M224.3 369.0h0M224.3 368.6h0M225.6 361.5h0M223.3 372.0h0M224.5 350.8h0M224.1 349.0h0M223.3 375.3h0M223.6 350.8h0M227.8 347.3h0M225.3 335.9h0M226.8 352.5h0M226.8 359.0h0M224.1 334.8h0M223.6 372.8h0M225.1 364.1h0M225.5 350.6h0M224.3 350.0h0M223.9 372.8h0M227.1 357.8h0M225.5 374.5h0M225.6 341.0h0M223.6 348.8h0M227.8 349.8h0M226.0 363.4h0M227.5 360.8h0M227.6 352.3h0M226.7 360.8h0M224.2 340.1h0M223.1 363.8h0M223.2 356.6h0M223.8 344.1h0M224.1 350.0h0M227.0 358.0h0M224.8 349.5h0M223.2 359.5h0M224.0 347.2h0M225.7 369.2h0M227.9 356.2h0M223.6 357.7h0M223.2 351.2h0M225.4 338.9h0M227.3 373.0h0M227.0 340.7h0M225.0 347.6h0M226.1 356.4h0M226.5 371.4h0M223.9 373.9h0M227.8 359.3h0M227.5 343.6h0M224.6 336.3h0M226.2 343.6h0M227.4 353.8h0M227.6 350.9h0M224.5 342.2h0M224.4 353.2h0M223.7 352.3h0M227.6 355.9h0M225.4 358.4h0M223.5 349.5h0M225.4 360.7h0M225.7 354.7h0M224.8 367.4h0M225.1 360.3h0M226.1 352.6h0M225.9 344.2h0M225.4 341.5h0M224.5 353.7h0M225.7 351.3h0M227.9 353.0h0M223.5 356.7h0M223.6 357.0h0M223.8 352.3h0M224.7 353.4h0M224.2 373.9h0M226.3 347.4h0M224.7 340.3h0M224.7 332.3h0M223.2 346.7h0M226.5 349.4h0M225.1 344.6h0M225.4 348.4h0M225.9 337.8h0M224.5 363.1h0M225.6 340.5h0M224.6 353.2h0M223.9 355.6h0M223.3 333.5h0M225.7 345.5h0M227.7 349.4h0M224.2 364.7h0M224.2 360.6h0M227.4 356.0h0M227.0 347.7h0M226.8 343.4h0M227.2 352.8h0M226.4 357.3h0M223.6 345.7h0M228.0 364.7h0M227.6 347.1h0M228.1 356.4h0M226.9 346.7h0M228.1 336.9h0M223.3 340.3h0M227.7 358.1h0M224.8 351.1h0M227.0 341.0h0M225.2 349.4h0M226.7 335.6h0M223.7 351.4h0M227.1 353.8h0M224.2 370.4h0M223.1 355.8h0M223.8 360.7h0M223.7 333.8h0M224.4 353.6h0M224.2 349.0h0M223.5 352.9h0M225.8 351.5h0M224.6 370.0h0M226.5 374.8h0M226.2 376.9h0M225.0 348.3h0M227.2 354.6h0M226.2 366.1h0M224.2 360.5h0M226.5 343.6h0M227.2 371.7h0M225.8 353.9h0M223.0 345.8h0M223.2 370.8h0M226.1 362.8h0M224.1 349.6h0M223.6 332.3h0M226.0 348.7h0M224.2 357.0h0M223.2 371.0h0M224.5 356.0h0M223.9 338.1h0M224.6 352.3h0M226.8 370.3h0M223.5 356.9h0M225.1 355.9h0M225.1 354.8h0M225.7 346.6h0M227.0 347.3h0M227.2 356.1h0M225.8 344.5h0M224.1 353.9h0M225.9 356.2h0M226.0 348.9h0M223.8 355.3h0M227.6 360.5h0M227.6 358.3h0M225.3 345.0h0M225.6 359.7h0M225.0 348.2h0M226.9 360.6h0M225.3 353.4h0M224.2 351.7h0M223.1 352.3h0M226.3 345.2h0M223.5 352.6h0M228.1 341.1h0M225.8 364.4h0M227.0 344.1h0M226.2 346.9h0M227.2 360.3h0M226.5 363.1h0M227.0 347.8h0M227.0 351.9h0M227.5 340.2h0M223.3 359.4h0M226.9 368.5h0M225.4 350.5h0M227.4 333.7h0M225.1 364.2h0M225.1 339.1h0M226.8 364.0h0M224.1 375.3h0M226.9 350.6h0M226.3 354.1h0M225.3 355.4h0M224.2 371.8h0M226.7 361.6h0M223.3 358.4h0M226.0 351.5h0M227.7 355.2h0M224.4 352.6h0M225.3 362.2h0M223.4 359.1h0M226.0 352.4h0M223.6 359.3h0M226.4 360.0h0M223.7 359.6h0M226.0 358.7h0M225.6 359.0h0M225.2 344.5h0M226.6 352.0h0M225.7 348.6h0M228.1 339.8h0M226.5 343.2h0M225.4 350.3h0M227.6 351.2h0M223.9 350.9h0M227.6 358.6h0M227.9 363.3h0M223.3 352.3h0M226.4 352.0h0M227.6 342.3h0M223.6 347.1h0M225.8 354.9h0M227.1 359.7h0M226.9 375.9h0M225.3 349.8h0M227.5 346.6h0M226.5 376.8h0M225.9 359.1h0M225.1 358.5h0M227.2 364.1h0M224.5 343.7h0M224.4 354.1h0M226.6 353.1h0M223.4 365.2h0M224.0 342.8h0M224.9 353.1h0M226.4 357.2h0M224.3 348.2h0M225.3 374.1h0M226.6 338.3h0M225.1 360.0h0M227.6 342.5h0M226.4 335.5h0M224.3 351.3h0M224.5 348.8h0M227.1 349.2h0M226.7 368.0h0M224.1 337.0h0M227.1 344.2h0M227.6 340.9h0M225.9 377.3h0M223.1 372.0h0M227.0 355.8h0M224.8 356.0h0M227.5 337.1h0M224.8 355.0h0M225.6 351.2h0M223.5 355.2h0M225.5 373.5h0M224.2 371.7h0M224.7 367.2h0M225.5 361.3h0M225.1 359.8h0M225.3 373.3h0M227.5 355.2h0M224.8 370.3h0M227.3 368.8h0M226.1 363.9h0M226.2 350.8h0M224.6 363.3h0M225.9 360.0h0M223.6 341.2h0M224.0 376.8h0M227.6 357.0h0M227.3 349.4h0M223.2 371.2h0M224.6 358.2h0M226.0 366.2h0M227.3 341.4h0M227.4 333.2h0M226.4 369.5h0M227.3 365.2h0M223.4 376.6h0M226.2 342.5h0M225.9 365.5h0M225.8 358.1h0M226.4 349.4h0M227.8 350.2h0M228.1 346.3h0M225.7 351.8h0M223.9 332.5h0M228.0 352.1h0M223.1 357.3h0M226.1 355.7h0M226.8 349.5h0M226.2 360.2h0M225.1 344.5h0M225.0 355.3h0M223.8 373.5h0M224.3 347.6h0M224.3 356.4h0M224.7 376.7h0M226.1 349.6h0M225.5 367.3h0M223.4 357.2h0M224.3 358.9h0M224.8 333.3h0M225.9 354.9h0M227.5 358.0h0M224.9 346.7h0M224.5 352.3h0M223.4 352.1h0M223.5 341.9h0M223.2 338.6h0M226.8 355.7h0M223.1 360.4h0M225.8 354.5h0M227.4 352.5h0M225.5 352.9h0M227.6 348.8h0M226.2 354.8h0M223.5 357.6h0M225.3 354.9h0M225.5 347.8h0M225.1 354.7h0M226.7 350.6h0M223.3 354.4h0M224.8 352.9h0M225.7 353.5h0M225.5 334.1h0M224.9 375.3h0M226.9 374.5h0M226.0 352.3h0M228.1 351.4h0M223.6 369.8h0M226.2 365.1h0M223.9 376.3h0M226.2 362.3h0M224.8 349.1h0M225.1 343.8h0M226.7 346.6h0M227.8 348.1h0M224.7 365.0h0M226.4 372.9h0M227.8 355.9h0M224.8 347.1h0M227.8 349.4h0M226.0 342.4h0M225.5 357.0h0M226.7 340.7h0M227.4 363.0h0M225.9 349.3h0M224.0 357.0h0M228.0 357.1h0M223.4 356.4h0M227.8 359.0h0M223.7 356.6h0M225.3 361.6h0M225.5 353.7h0M228.2 353.9h0M223.1 360.3h0M224.9 356.4h0M227.5 348.7h0M223.9 357.1h0M224.7 362.4h0M226.8 345.7h0M226.6 349.4h0M225.0 361.7h0M226.6 354.5h0M227.6 373.3h0M228.2 351.5h0M223.3 350.8h0M226.1 358.3h0M223.3 365.0h0M223.0 370.6h0M223.5 359.1h0M225.0 357.6h0M227.9 353.1h0M225.3 347.9h0M227.4 350.0h0M223.1 347.2h0M225.8 349.3h0M225.1 375.5h0M225.0 351.4h0M224.6 360.5h0M224.3 373.8h0M227.3 351.3h0M227.2 374.9h0M223.8 360.4h0M223.0 369.3h0M225.7 347.7h0M226.1 349.2h0M223.9 351.6h0M227.8 357.5h0M225.6 374.2h0M224.5 351.0h0M224.4 350.2h0M223.6 336.6h0M228.0 350.4h0M224.2 374.2h0M225.5 350.9h0M227.1 352.8h0M224.1 371.1h0M225.5 352.5h0M223.3 364.3h0M227.8 359.2h0M223.7 355.3h0M224.8 357.5h0M223.4 369.3h0M224.2 358.0h0M227.4 356.6h0M223.4 345.4h0M224.8 358.4h0M228.0 344.2h0M226.9 350.0h0M223.5 343.8h0M227.4 352.2h0M223.5 364.6h0M227.7 366.0h0M224.5 352.3h0M226.9 356.9h0M223.6 375.2h0M224.4 362.3h0M224.9 360.8h0M223.7 347.5h0M226.0 371.3h0M228.2 341.0h0M228.1 350.0h0M224.4 338.8h0M224.9 356.9h0M224.7 346.0h0M223.6 367.4h0M226.2 367.3h0M224.9 357.8h0M226.3 351.3h0M223.8 360.2h0M223.4 351.5h0M223.5 350.8h0M226.5 355.4h0M223.3 347.8h0M225.3 369.4h0M225.8 351.8h0M224.7 352.1h0M227.4 360.3h0M226.5 360.0h0M226.4 348.5h0M224.4 354.8h0M225.7 355.5h0M224.7 346.9h0M226.8 353.3h0M225.1 350.6h0M227.2 352.6h0M224.9 352.9h0M223.2 349.1h0M225.7 355.9h0M225.4 373.1h0M225.0 356.5h0M225.5 367.0h0M226.3 333.7h0M225.4 356.1h0M226.9 351.4h0M227.4 357.0h0M227.3 349.6h0M224.7 344.1h0M224.3 336.9h0M227.5 352.8h0M224.2 355.4h0M223.4 354.6h0M225.3 360.2h0M224.9 376.8h0M227.1 346.1h0M225.9 340.5h0M226.5 333.3h0M226.9 356.5h0M226.8 356.1h0M224.5 349.3h0M223.4 355.0h0M227.4 362.0h0M226.9 351.3h0M223.8 337.9h0M223.5 353.7h0M226.5 339.7h0M227.0 352.4h0M225.5 365.4h0M224.2 354.0h0M224.8 345.7h0M223.7 351.9h0M226.1 365.0h0M224.5 359.3h0M226.3 350.9h0M224.6 360.9h0M225.9 352.3h0M227.5 355.1h0M226.3 363.4h0M224.2 352.8h0M226.0 360.8h0M227.0 356.8h0M224.2 358.2h0M225.1 349.5h0M225.9 362.1h0M224.7 356.9h0M225.5 345.4h0M224.4 358.4h0M224.6 360.4h0M226.5 370.7h0M223.8 358.8h0M224.8 343.6h0M225.7 360.8h0M223.0 343.6h0M223.1 360.3h0M226.7 335.8h0M223.2 353.5h0M227.1 341.7h0M227.3 376.8h0M223.6 337.5h0M226.8 369.8h0M228.2 345.2h0M223.0 353.6h0M225.4 332.4h0M225.4 367.1h0M224.0 373.0h0M225.7 358.3h0M227.4 373.1h0M225.1 339.8h0M226.3 364.4h0M228.0 343.0h0M226.1 371.9h0M223.2 371.3h0M226.8 352.6h0M227.8 363.8h0M224.1 355.6h0M227.1 357.0h0M223.7 366.5h0M227.3 327.7h0M226.0 331.6h0M224.4 315.8h0M225.3 331.4h0M227.0 311.6h0M228.0 326.8h0M225.5 320.1h0M224.6 331.5h0M228.1 331.7h0M225.1 312.1h0M223.8 332.2h0M226.2 332.0h0M225.7 309.6h0M225.8 379.7h0M227.8 380.6h0M224.9 379.4h0M224.0 378.3h0M226.3 380.0h0M225.2 379.2h0M223.7 378.3h0M224.7 377.6h0M226.6 380.6h0M227.3 379.3h0" stroke="#000" stroke-opacity="0.9" stroke-width="1.0" stroke-linecap="round" fill="none"/>
<text x="215.4" y="395.7" text-anchor="middle" font-family='"Liberation Sans", Arial, Helvetica, sans-serif' font-weight="bold" font-size="6.8" fill="#111" stroke="#111" stroke-width="0.22">SKCM</text>
<text x="215.4" y="402.8" text-anchor="middle" font-family='"Liberation Sans", Arial, Helvetica, sans-serif' font-weight="bold" font-size="5.6" fill="#111" stroke="#111" stroke-width="0.28">T(n=461)</text>
<text x="215.4" y="409.7" text-anchor="middle" font-family='"Liberation Sans", Arial, Helvetica, sans-serif' font-weight="bold" font-size="5.6" fill="#111" stroke="#111" stroke-width="0.28">N(n=558)</text>
<path d="M266.31 367.4V373.4M266.31 380.4V381.2" stroke="#666" stroke-width="0.5" stroke-dasharray="1.6 1" fill="none"/>
<path d="M261.71 367.4h9.2M261.71 381.2h9.2" stroke="#3a3a3a" stroke-width="0.8" fill="none"/>
<rect x="257.91" y="373.4" width="16.8" height="7.0" fill="#8a8a8a" stroke="#3a3a3a" stroke-width="0.65"/>
<path d="M257.91 377.3h16.8" stroke="#3a3a3a" stroke-width="0.65" fill="none"/>
<path d="M264.6 369.5h0M265.0 371.4h0M265.9 377.1h0M264.3 372.2h0M266.0 380.5h0M265.9 380.4h0M267.1 375.5h0M266.3 376.1h0M266.0 379.2h0M266.0 381.0h0M265.3 376.9h0M265.6 380.9h0M265.2 380.3h0M267.6 379.3h0M264.2 379.7h0M265.9 378.4h0M266.0 379.9h0M264.0 372.9h0M267.8 376.9h0M266.0 379.8h0M268.8 380.7h0M265.1 373.6h0M266.2 380.5h0M268.3 373.9h0M266.5 381.0h0M267.4 371.1h0M266.5 380.8h0M268.4 373.2h0M265.5 380.6h0M268.2 380.2h0M267.3 378.6h0M268.0 373.3h0M263.9 377.2h0M268.5 378.3h0M266.0 381.0h0M265.5 372.0h0M264.1 370.6h0M265.8 374.0h0M265.5 375.7h0M264.0 380.9h0M265.8 375.6h0M268.8 376.5h0M266.0 378.8h0M267.0 377.1h0M268.2 381.2h0M264.8 380.2h0M265.9 379.4h0M267.7 377.8h0M266.8 380.7h0M267.0 380.4h0M264.8 380.8h0M267.0 375.8h0M266.3 374.5h0M264.0 381.1h0M268.0 380.5h0M268.9 378.5h0M265.4 380.4h0M267.2 381.1h0M264.2 373.0h0M263.8 373.5h0M268.2 369.7h0M268.1 380.8h0M267.7 373.4h0M267.4 375.3h0M267.7 380.5h0M267.7 380.5h0M268.0 367.6h0M265.6 376.7h0M265.3 375.3h0M267.8 380.9h0M265.7 379.2h0M264.6 381.1h0M265.7 368.0h0M265.5 371.7h0M264.4 373.0h0M264.1 378.4h0M266.7 372.1h0M264.9 377.7h0M266.6 381.1h0M266.7 373.1h0M265.1 369.8h0M265.1 381.0h0M264.0 368.5h0M264.8 381.0h0M264.0 379.4h0M266.8 371.2h0M268.4 374.6h0M266.5 371.6h0M266.5 375.7h0M268.5 380.2h0M264.6 380.5h0M265.8 376.4h0M267.4 378.4h0M265.1 374.4h0M266.3 368.5h0M264.4 369.7h0M266.9 377.9h0M267.5 380.7h0M266.4 378.8h0M268.2 380.0h0M265.7 380.6h0M266.5 376.2h0M266.4 379.8h0M264.1 380.6h0M265.9 376.2h0M265.3 380.3h0M267.1 379.9h0M266.3 376.5h0M267.0 376.0h0M264.7 380.8h0M263.9 378.9h0M263.8 378.1h0M268.6 371.9h0M267.8 381.0h0M264.6 369.3h0M268.5 373.4h0M263.9 381.0h0M268.2 380.3h0M267.5 372.8h0M264.7 380.9h0M268.9 381.1h0M265.4 371.3h0M268.4 380.8h0M266.2 375.8h0M268.3 375.7h0M265.9 367.6h0M265.1 380.5h0M265.8 371.8h0M266.8 374.3h0M264.4 369.3h0M266.1 374.1h0M265.8 374.3h0M266.5 381.0h0M268.7 380.6h0M264.7 371.5h0M266.4 381.0h0M264.8 377.4h0M264.6 367.4h0M266.8 367.0h0M266.4 359.7h0M266.9 353.4h0M266.9 365.5h0M265.5 367.0h0M266.5 365.2h0M267.8 358.5h0M268.6 358.0h0M265.6 351.9h0M268.8 353.1h0M267.3 365.5h0M268.5 342.8h0" stroke="#000" stroke-opacity="0.9" stroke-width="1.0" stroke-linecap="round" fill="none"/>
<path d="M287.51 349.5V356.4M287.51 362.2V369.1" stroke="#666" stroke-width="0.5" stroke-dasharray="1.6 1" fill="none"/>
<path d="M282.91 349.5h9.2M282.91 369.1h9.2" stroke="#3a3a3a" stroke-width="0.8" fill="none"/>
<rect x="279.11" y="356.4" width="16.8" height="5.8" fill="#fff" stroke="#3a3a3a" stroke-width="0.65"/>
<path d="M279.11 359.3h16.8" stroke="#3a3a3a" stroke-width="0.65" fill="none"/>
<path d="M286.9 366.0h0M286.7 356.5h0M288.5 355.7h0M288.9 362.5h0M286.5 356.9h0M288.4 358.3h0M287.4 354.7h0M285.5 361.5h0M289.0 355.0h0M285.5 360.1h0M286.1 365.8h0M285.7 366.3h0M289.5 354.5h0M287.3 360.0h0M289.7 360.7h0M287.7 354.7h0M287.5 354.1h0M288.9 358.0h0M287.6 353.1h0M286.0 354.1h0M285.8 357.4h0M286.8 357.4h0M286.5 357.6h0M285.5 361.7h0M286.8 363.5h0M290.0 368.9h0M285.9 356.7h0M287.9 365.6h0M285.3 360.3h0M288.4 356.4h0M288.3 351.1h0M289.7 360.9h0M288.2 356.9h0M286.8 358.2h0M288.8 350.9h0M287.3 358.6h0M290.0 363.2h0M286.3 357.7h0M286.1 359.8h0M288.8 368.3h0M289.8 355.3h0M289.7 358.9h0M287.3 358.5h0M287.6 356.3h0M286.5 360.0h0M289.7 367.3h0M287.0 353.6h0M289.2 360.2h0M287.4 361.3h0M287.2 358.4h0M288.6 356.9h0M287.9 362.3h0M285.2 354.8h0M285.1 355.9h0M288.5 364.8h0M286.0 360.2h0M287.1 367.5h0M289.8 354.5h0M288.4 365.6h0M286.3 350.6h0M286.8 354.8h0M287.3 361.2h0M286.6 358.2h0M286.6 354.7h0M287.3 361.2h0M289.2 361.6h0M288.2 360.6h0M285.8 361.7h0M289.4 357.0h0M288.5 357.3h0M289.9 355.6h0M287.9 357.9h0M286.4 361.3h0M285.2 356.9h0M287.1 367.1h0M287.1 355.6h0M287.5 362.0h0M285.0 366.0h0M288.7 360.0h0M285.0 358.8h0M287.2 361.7h0M287.8 350.2h0M289.3 364.4h0M285.7 358.9h0M289.1 363.0h0M287.0 361.3h0M288.9 358.8h0M285.9 355.2h0M288.2 355.5h0M287.7 355.8h0M285.2 357.5h0M286.6 353.5h0M289.7 356.2h0M289.8 360.3h0M288.2 355.1h0M285.8 359.0h0M285.1 357.8h0M286.4 354.2h0M287.1 354.0h0M287.6 354.0h0M288.3 358.0h0M289.2 362.3h0M287.9 368.4h0M285.4 358.4h0M285.0 361.3h0M286.4 357.4h0M288.1 356.5h0M288.3 360.7h0M288.3 359.7h0M289.6 359.4h0M289.5 358.8h0M288.8 361.2h0M287.4 363.8h0M284.9 360.5h0M286.6 366.8h0M285.9 363.0h0M285.1 367.5h0M285.7 365.9h0M286.1 352.5h0M288.3 361.0h0M288.0 361.5h0M289.1 357.2h0M287.5 350.2h0M287.0 355.4h0M286.6 354.4h0M289.1 351.8h0M286.9 361.1h0M290.0 355.6h0M286.6 362.0h0M289.0 350.7h0M288.5 368.1h0M286.7 355.7h0M288.0 365.2h0M288.5 358.3h0M286.6 359.0h0M285.0 355.7h0M287.0 366.2h0M290.0 359.3h0M285.6 356.3h0M286.1 359.0h0M289.7 367.9h0M286.8 368.3h0M285.5 355.1h0M285.9 363.2h0M288.0 366.2h0M289.6 360.2h0M287.3 358.7h0M288.4 356.0h0M285.7 364.9h0M289.5 350.3h0M290.0 355.1h0M286.9 358.1h0M287.2 361.1h0M288.7 359.8h0M289.7 361.0h0M286.4 367.5h0M288.0 353.2h0M286.5 359.4h0M285.5 359.7h0M285.1 358.7h0M289.2 362.2h0M285.3 358.4h0M286.8 358.6h0M289.9 360.5h0M285.6 354.2h0M289.4 348.9h0M287.9 345.6h0M285.7 346.4h0M289.7 342.0h0M289.3 371.8h0M285.1 372.5h0M289.4 370.9h0M287.8 371.9h0" stroke="#000" stroke-opacity="0.9" stroke-width="1.0" stroke-linecap="round" fill="none"/>
<text x="276.3" y="395.7" text-anchor="middle" font-family='"Liberation Sans", Arial, Helvetica, sans-serif' font-weight="bold" font-size="6.8" fill="#111" stroke="#111" stroke-width="0.22">TGCT</text>
<text x="276.3" y="402.8" text-anchor="middle" font-family='"Liberation Sans", Arial, Helvetica, sans-serif' font-weight="bold" font-size="5.6" fill="#111" stroke="#111" stroke-width="0.28">T(n=137)</text>
<text x="276.3" y="409.7" text-anchor="middle" font-family='"Liberation Sans", Arial, Helvetica, sans-serif' font-weight="bold" font-size="5.6" fill="#111" stroke="#111" stroke-width="0.28">N(n=165)</text>
<path d="M328.23 371.7V376.9M328.23 380.7V381.2" stroke="#666" stroke-width="0.5" stroke-dasharray="1.6 1" fill="none"/>
<path d="M323.63 371.7h9.2M323.63 381.2h9.2" stroke="#3a3a3a" stroke-width="0.8" fill="none"/>
<rect x="319.83" y="376.9" width="16.8" height="3.8" fill="#8a8a8a" stroke="#3a3a3a" stroke-width="0.65"/>
<path d="M319.83 379.0h16.8" stroke="#3a3a3a" stroke-width="0.65" fill="none"/>
<path d="M329.8 374.8h0M328.5 376.1h0M328.4 381.1h0M329.9 372.3h0M330.0 377.5h0M326.6 376.9h0M329.2 371.8h0M328.5 374.1h0M326.4 372.4h0M330.8 381.0h0M328.6 379.6h0M329.7 373.1h0M329.6 376.9h0M326.0 380.8h0M329.3 374.3h0M329.8 377.7h0M328.9 380.8h0M329.7 379.6h0M328.8 375.5h0M329.3 378.2h0M329.7 381.1h0M326.2 372.2h0M327.5 378.4h0M330.4 373.1h0M330.7 381.1h0M326.4 379.0h0M329.1 376.9h0M326.3 374.2h0M326.1 380.6h0M326.8 380.3h0M328.8 380.7h0M327.6 374.2h0M329.1 380.1h0M328.6 380.8h0M330.0 381.1h0M329.9 375.9h0M326.5 380.7h0M330.8 379.1h0M328.6 380.2h0M328.5 378.6h0M328.5 380.2h0M327.5 372.1h0M328.5 373.4h0M327.4 380.0h0M330.0 380.9h0M327.7 377.8h0M328.9 380.9h0M327.0 377.7h0M328.9 381.1h0M327.1 379.2h0M327.3 376.8h0M330.8 379.6h0M328.7 373.7h0M327.1 380.1h0M329.5 381.1h0M329.7 376.9h0M325.8 380.0h0M325.7 376.8h0M327.4 378.4h0M328.9 380.8h0M329.5 380.9h0M329.2 377.2h0M326.8 380.0h0M330.8 378.5h0M327.5 378.1h0M328.5 380.5h0M327.3 377.9h0M330.3 378.6h0M326.7 379.3h0M328.5 377.6h0M326.5 381.2h0M329.8 374.5h0M328.4 380.7h0M325.8 373.7h0M330.6 379.5h0M327.7 375.8h0M330.3 374.6h0M326.1 381.0h0M330.3 377.2h0M327.3 380.9h0M330.6 378.0h0M327.3 376.9h0M329.3 378.6h0M329.5 380.9h0M326.3 376.6h0M329.1 379.5h0M330.3 380.6h0M330.5 379.2h0M329.5 378.3h0M330.1 381.1h0M326.3 380.7h0M325.7 378.8h0M329.9 381.0h0M329.5 380.7h0M328.0 376.5h0M327.8 376.9h0M325.8 381.1h0M329.1 373.8h0M326.5 380.9h0M329.2 379.6h0M327.0 381.0h0M326.3 380.8h0M330.4 378.2h0M326.4 377.8h0M329.1 378.8h0M326.1 374.4h0M327.1 376.3h0M328.0 378.2h0M330.3 379.0h0M330.4 381.2h0M328.2 380.9h0M330.2 380.8h0M329.4 380.3h0M328.6 380.8h0M328.5 379.7h0M326.9 381.2h0M325.9 380.1h0M329.8 376.9h0M326.1 380.9h0M330.8 375.5h0M329.4 379.9h0M329.7 377.8h0M327.7 375.3h0M329.3 378.2h0M326.8 380.8h0M326.5 376.7h0M329.0 380.9h0M330.3 380.5h0M330.1 377.4h0M326.9 378.4h0M326.1 378.7h0M326.6 380.4h0M326.4 379.0h0M328.3 375.6h0M328.3 380.8h0M328.4 378.8h0M326.9 378.4h0M327.2 377.5h0M330.3 377.4h0M327.1 372.5h0M327.9 377.5h0M327.2 380.6h0M327.1 379.1h0M329.5 374.3h0M326.7 374.1h0M326.4 375.8h0M325.8 379.4h0M326.7 380.8h0M327.7 380.9h0M327.5 380.9h0M328.7 380.7h0M328.3 381.1h0M326.7 380.7h0M326.6 373.6h0M325.7 377.3h0M326.6 381.1h0M329.7 381.2h0M328.5 379.0h0M329.5 379.7h0M328.8 376.1h0M330.4 372.2h0M330.3 378.3h0M330.5 380.9h0M330.2 380.5h0M328.6 375.3h0M329.3 381.1h0M330.0 378.3h0M327.6 379.6h0M326.2 380.2h0M326.3 380.8h0M327.8 375.0h0M327.0 371.9h0M328.8 380.8h0M330.0 380.8h0M325.9 378.4h0M329.3 379.2h0M329.8 378.7h0M329.7 375.1h0M326.7 376.6h0M327.3 378.1h0M325.9 381.0h0M329.1 380.1h0M330.0 377.1h0M330.6 380.9h0M329.4 378.8h0M330.0 378.2h0M327.0 381.1h0M326.1 381.0h0M327.3 378.9h0M327.9 380.0h0M330.8 377.7h0M328.8 378.1h0M325.9 381.1h0M330.5 380.8h0M329.3 377.9h0M327.0 380.8h0M326.5 380.2h0M330.6 375.3h0M326.3 380.8h0M328.2 377.3h0M330.5 374.5h0M327.9 375.4h0M330.8 381.1h0M328.7 377.6h0M328.2 377.4h0M326.1 372.9h0M325.9 378.3h0M329.3 375.3h0M325.9 380.1h0M327.5 381.0h0M327.3 377.2h0M327.9 380.1h0M326.1 378.7h0M330.8 381.1h0M328.6 377.2h0M329.9 381.1h0M325.7 381.1h0M328.9 380.4h0M327.5 381.2h0M327.7 377.3h0M329.6 380.2h0M329.9 378.4h0M326.9 379.7h0M328.5 372.2h0M328.6 380.9h0M328.4 378.4h0M328.2 379.0h0M328.5 378.1h0M329.2 380.9h0M328.5 379.5h0M329.9 378.6h0M328.3 379.9h0M329.3 379.5h0M325.7 380.9h0M327.6 380.0h0M330.1 380.7h0M328.1 374.6h0M327.7 379.7h0M326.5 379.6h0M326.2 376.9h0M326.6 377.1h0M328.0 378.4h0M326.1 381.2h0M330.0 381.2h0M326.5 380.9h0M327.7 380.9h0M327.2 374.7h0M328.5 376.5h0M328.7 375.4h0M325.7 379.3h0M326.3 376.1h0M328.2 371.8h0M326.1 379.7h0M329.5 379.1h0M326.8 381.2h0M326.3 380.8h0M330.5 374.9h0M326.8 377.1h0M329.0 380.5h0M327.8 379.9h0M326.1 379.7h0M330.6 378.7h0M325.8 377.9h0M328.0 378.5h0M329.4 379.8h0M327.2 378.4h0M328.6 380.9h0M330.2 374.6h0M328.0 376.5h0M329.4 380.2h0M330.3 381.0h0M327.9 378.2h0M328.0 374.0h0M329.5 376.2h0M329.1 377.0h0M326.5 380.7h0M330.3 372.9h0M328.9 381.1h0M327.6 377.3h0M326.9 378.8h0M327.4 380.4h0M329.5 380.8h0M330.5 373.9h0M326.2 379.5h0M327.3 378.6h0M328.6 379.6h0M328.7 381.0h0M327.1 381.1h0M327.3 374.5h0M326.0 377.1h0M327.1 380.2h0M326.0 376.7h0M327.8 380.0h0M330.1 378.1h0M329.1 379.9h0M328.3 375.2h0M325.9 381.0h0M327.1 373.0h0M328.8 381.0h0M329.0 371.8h0M328.5 378.2h0M325.8 380.9h0M328.7 377.7h0M325.7 381.1h0M328.6 373.7h0M328.0 378.0h0M327.8 379.1h0M327.7 378.3h0M326.6 379.1h0M325.6 374.6h0M328.2 376.2h0M325.8 379.2h0M328.5 378.0h0M326.6 379.5h0M327.1 381.1h0M327.8 373.8h0M328.8 377.6h0M330.5 380.2h0M325.7 376.9h0M325.8 381.2h0M327.6 379.7h0M328.9 373.1h0M330.1 381.0h0M328.7 380.9h0M327.8 380.2h0M330.6 381.0h0M326.9 379.9h0M326.7 381.0h0M328.6 375.1h0M329.5 380.9h0M330.6 381.0h0M328.3 380.7h0M330.4 381.0h0M328.9 379.3h0M330.4 381.2h0M326.0 380.3h0M326.3 379.9h0M329.4 376.7h0M327.8 377.8h0M327.0 377.0h0M327.6 377.2h0M328.5 378.7h0M325.7 377.4h0M329.8 378.2h0M328.1 381.1h0M326.3 376.8h0M329.8 377.3h0M327.8 374.8h0M326.3 378.1h0M327.5 380.2h0M328.6 380.9h0M330.5 376.3h0M328.0 378.6h0M327.5 377.6h0M328.6 375.6h0M328.5 380.1h0M326.9 378.2h0M328.9 379.1h0M329.7 377.7h0M329.6 381.0h0M326.8 377.0h0M327.3 374.4h0M326.0 376.6h0M326.7 380.0h0M327.9 380.3h0M330.3 378.4h0M329.1 380.9h0M328.9 373.5h0M329.8 380.7h0M326.3 380.9h0M327.9 374.5h0M325.7 375.4h0M327.7 381.1h0M326.1 381.0h0M326.7 380.7h0M330.3 379.7h0M327.0 375.4h0M325.8 378.3h0M328.4 377.3h0M328.5 380.6h0M329.1 374.5h0M327.5 377.2h0M330.4 372.4h0M329.3 377.0h0M326.0 376.4h0M329.4 377.4h0M326.4 377.4h0M329.0 379.4h0M326.8 376.1h0M326.5 372.2h0M325.9 372.4h0M326.1 380.3h0M328.6 375.7h0M329.1 379.0h0M327.3 378.3h0M329.4 379.7h0M328.2 375.0h0M328.7 372.9h0M329.1 376.8h0M327.6 376.2h0M326.2 381.2h0M327.2 377.1h0M328.7 380.9h0M326.4 373.9h0M327.6 379.2h0M328.9 380.4h0M326.0 378.1h0M327.7 372.1h0M328.2 375.6h0M328.7 380.9h0M328.6 374.8h0M327.5 379.6h0M326.1 379.3h0M326.2 373.6h0M326.3 380.7h0M330.6 377.3h0M327.9 381.2h0M330.3 381.1h0M327.4 377.5h0M327.6 377.5h0M327.6 379.3h0M330.1 381.1h0M325.6 379.6h0M328.3 373.6h0M330.1 371.7h0M326.4 380.7h0M330.3 377.3h0M327.4 378.4h0M327.2 372.9h0M329.0 380.8h0M327.4 379.6h0M326.6 379.4h0M329.4 380.0h0M328.7 380.0h0M329.0 379.5h0M326.4 379.8h0M329.1 379.4h0M329.2 380.9h0M327.4 380.9h0M327.4 378.4h0M325.8 379.5h0M325.8 380.7h0M327.3 381.0h0M329.5 380.3h0M330.6 380.5h0M328.4 381.2h0M327.9 379.1h0M329.0 377.6h0M327.5 380.2h0M330.0 381.0h0M328.2 378.6h0M326.1 380.8h0M327.6 380.8h0M329.8 379.9h0M330.0 377.1h0M327.1 378.8h0M325.7 379.0h0M328.7 376.7h0M329.0 378.5h0M330.2 380.6h0M329.0 380.2h0M329.7 379.6h0M329.4 374.5h0M328.6 376.6h0M327.6 380.1h0M330.1 380.3h0M330.0 380.4h0M330.5 380.7h0M329.1 377.1h0M327.9 371.9h0M328.4 379.0h0M328.5 372.8h0M328.8 379.6h0M328.9 375.4h0M326.4 376.3h0M330.1 378.7h0M330.1 381.1h0M328.8 379.2h0M327.5 380.7h0M328.9 378.2h0M329.6 375.5h0M330.8 379.7h0M330.7 372.2h0M326.0 378.6h0M325.9 377.6h0M328.2 376.7h0M329.1 378.5h0M327.3 373.7h0M327.8 373.4h0M328.1 374.2h0M329.7 381.0h0M328.6 380.0h0M329.6 378.7h0M330.7 374.1h0M327.9 378.3h0M327.3 378.7h0M326.4 377.9h0M327.6 377.2h0M328.3 380.0h0M328.9 378.0h0M326.0 375.1h0M329.2 375.4h0M330.1 379.3h0M327.5 377.8h0M327.5 376.0h0M328.1 376.5h0M326.8 378.9h0M326.7 375.7h0M326.2 381.0h0M329.5 373.7h0M326.6 376.9h0M326.0 378.8h0M329.5 370.5h0M330.6 362.0h0M327.0 366.0h0M327.6 371.7h0M326.5 346.7h0M326.1 368.8h0M330.3 371.3h0M329.2 368.3h0M330.0 343.1h0M327.5 356.5h0M329.9 362.1h0M328.0 369.0h0M327.9 353.9h0M328.8 366.4h0M328.0 369.3h0M329.9 356.3h0M330.0 363.1h0M328.9 342.8h0M328.8 351.7h0M330.6 370.2h0M325.7 366.0h0M328.7 371.4h0M328.4 370.6h0M329.2 346.9h0M326.7 358.6h0M327.5 370.5h0M327.2 366.5h0M328.8 371.1h0M330.3 370.2h0M330.8 356.5h0M328.7 342.8h0M330.8 312.5h0" stroke="#000" stroke-opacity="0.9" stroke-width="1.0" stroke-linecap="round" fill="none"/>
<path d="M349.43 363.6V371.1M349.43 376.9V381.0" stroke="#666" stroke-width="0.5" stroke-dasharray="1.6 1" fill="none"/>
<path d="M344.83 363.6h9.2M344.83 381.0h9.2" stroke="#3a3a3a" stroke-width="0.8" fill="none"/>
<rect x="341.03" y="371.1" width="16.8" height="5.8" fill="#fff" stroke="#3a3a3a" stroke-width="0.65"/>
<path d="M341.03 374.0h16.8" stroke="#3a3a3a" stroke-width="0.65" fill="none"/>
<path d="M347.9 366.4h0M348.8 371.9h0M347.9 377.4h0M347.7 369.4h0M349.4 376.1h0M348.1 380.8h0M348.0 373.8h0M349.5 372.8h0M350.4 377.7h0M349.4 380.4h0M348.8 374.9h0M349.1 373.7h0M348.6 368.9h0M349.2 368.1h0M348.6 363.9h0M348.8 379.5h0M346.9 378.4h0M347.8 366.8h0M348.9 372.6h0M350.4 376.3h0M347.0 378.2h0M347.5 372.1h0M351.6 366.3h0M349.4 380.2h0M347.7 372.0h0M349.2 371.0h0M348.9 373.7h0M350.0 369.3h0M350.8 380.5h0M349.9 379.3h0M349.0 379.8h0M348.9 370.9h0M348.0 371.0h0M348.1 378.4h0M350.2 373.2h0M348.5 375.2h0M347.0 379.0h0M347.7 371.8h0M347.8 373.9h0M350.5 379.4h0M351.7 374.0h0M348.9 372.7h0M348.4 372.2h0M350.8 372.2h0M346.9 374.4h0M348.8 369.0h0M348.8 375.1h0M347.2 379.4h0M348.3 378.0h0M349.1 369.5h0M347.3 366.3h0M350.2 380.1h0M351.5 374.1h0M348.6 373.8h0M348.9 367.0h0M351.8 375.2h0M349.7 371.7h0M350.1 372.3h0M347.2 376.6h0M347.0 380.1h0M347.2 371.7h0M348.0 371.6h0M350.9 370.2h0M347.6 374.9h0M348.2 370.8h0M348.2 373.8h0M349.3 378.5h0M349.9 371.1h0M347.6 373.2h0M351.6 378.1h0M350.9 375.4h0M351.7 372.9h0M348.0 364.7h0M348.5 380.0h0M346.9 379.5h0M347.7 371.1h0M348.6 376.5h0M350.4 371.6h0M351.1 373.6h0M348.4 372.6h0M350.4 365.0h0M348.3 368.6h0M350.5 377.2h0M348.3 367.9h0M350.8 368.9h0M347.6 376.6h0M347.8 367.8h0M349.7 375.5h0M350.7 378.1h0M349.1 371.4h0M349.5 377.4h0M349.3 371.7h0M351.3 368.3h0M349.7 373.7h0M352.0 366.3h0M350.3 370.7h0M352.0 376.8h0M349.7 378.6h0M347.7 369.9h0M347.6 373.3h0M348.5 369.4h0M349.9 373.5h0M350.2 369.9h0M351.8 377.0h0M350.8 373.8h0M348.6 372.8h0M350.1 372.9h0M347.4 380.8h0M348.4 365.9h0M349.0 364.6h0M349.5 369.5h0M351.2 375.9h0M348.5 371.1h0M351.0 374.7h0M348.7 379.8h0M349.2 370.8h0M351.4 376.0h0M351.7 373.0h0M352.0 370.4h0M349.1 375.0h0M348.4 365.6h0M350.1 380.0h0M346.9 370.7h0M346.9 375.6h0M350.2 371.6h0M350.3 376.5h0M350.0 379.7h0M349.7 371.6h0M351.2 372.5h0M350.1 374.4h0M349.1 372.8h0M348.4 376.6h0M351.9 375.1h0M347.8 378.5h0M351.7 374.1h0M347.1 371.0h0M348.3 372.5h0M351.0 370.8h0M350.6 368.1h0M348.5 379.8h0M348.5 372.0h0M348.5 377.2h0M351.2 367.8h0M350.5 375.2h0M350.7 368.9h0M351.0 380.4h0M348.0 370.9h0M348.5 372.6h0M351.2 371.0h0M351.6 375.8h0M348.9 374.0h0M351.3 367.7h0M348.5 377.6h0M349.8 375.6h0M347.2 371.0h0M348.1 377.1h0M347.9 377.6h0M348.4 371.0h0M351.4 372.3h0M351.3 375.2h0M349.7 368.1h0M351.0 373.0h0M348.1 377.7h0M350.1 376.3h0M351.4 377.8h0M349.0 371.7h0M351.5 371.4h0M351.7 366.8h0M349.1 375.4h0M348.6 373.0h0M348.2 372.7h0M351.5 373.4h0M347.3 367.2h0M350.3 375.7h0M348.5 380.1h0M347.3 374.5h0M347.0 378.4h0M349.5 371.9h0M350.6 374.9h0M348.5 378.2h0M349.1 369.3h0M351.5 366.5h0M351.2 371.0h0M351.2 371.8h0M347.6 374.9h0M351.1 376.4h0M349.4 373.7h0M350.8 372.9h0M350.1 373.8h0M348.0 375.9h0M348.9 371.4h0M347.7 373.7h0M350.1 373.9h0M346.8 376.5h0M352.0 377.1h0M351.7 372.5h0M347.7 375.5h0M349.9 373.1h0M349.9 374.7h0M350.2 376.5h0M351.9 364.1h0M348.8 372.3h0M350.7 380.0h0M348.3 371.2h0M350.0 371.0h0M348.8 372.9h0M347.7 369.5h0M347.2 375.9h0M350.2 380.7h0M351.7 376.9h0M347.5 372.7h0M350.7 371.1h0M349.1 371.0h0M351.9 370.8h0M351.1 370.0h0M346.9 375.8h0M348.6 377.0h0M350.2 380.0h0M350.7 365.9h0M348.5 378.8h0M349.6 373.6h0M347.4 373.7h0M348.0 371.3h0M351.5 374.0h0M349.1 378.7h0M348.7 372.7h0M348.7 379.4h0M350.2 380.4h0M346.8 375.1h0M349.8 368.7h0M351.3 374.3h0M350.4 374.3h0M351.1 372.9h0M348.1 371.3h0M348.4 378.8h0M349.3 366.3h0M348.1 373.7h0M348.2 372.8h0M348.3 380.8h0M351.3 370.7h0M351.3 372.6h0M350.2 366.5h0M347.0 372.6h0M347.4 367.1h0M350.9 379.5h0M349.1 376.5h0M351.3 376.0h0M347.0 380.2h0M347.1 377.7h0M348.7 372.2h0M350.5 376.0h0M351.2 376.1h0M351.3 368.9h0M347.9 378.3h0M351.7 370.5h0M348.3 374.2h0M347.1 370.9h0M351.8 379.1h0M349.0 369.9h0M350.9 375.0h0M349.3 375.1h0M348.1 369.5h0M347.0 375.0h0M348.7 368.6h0M347.7 364.6h0M350.2 376.2h0M349.3 376.8h0M351.6 374.3h0M349.6 374.1h0M351.5 372.1h0M350.0 379.6h0M347.1 373.9h0M350.7 379.3h0M351.4 371.4h0M351.8 375.0h0M350.8 373.8h0M350.4 378.3h0M349.4 369.2h0M348.1 367.7h0M349.8 378.5h0M349.3 380.8h0M348.6 374.8h0M349.5 368.4h0M350.9 370.6h0M350.2 377.6h0M350.5 377.6h0M349.4 371.4h0M348.6 371.5h0M350.5 372.7h0M347.8 380.7h0M348.7 367.1h0M350.5 377.1h0M348.7 374.3h0M351.2 369.0h0M349.3 369.3h0M350.2 380.7h0M348.9 375.4h0M350.8 373.7h0M347.0 375.4h0M351.3 377.8h0M351.9 371.9h0M348.2 365.3h0M348.3 375.5h0M349.6 372.4h0M349.4 377.0h0M350.9 379.2h0M347.6 377.6h0M348.3 377.5h0M350.9 370.9h0M349.4 372.8h0M348.9 368.3h0M350.3 367.7h0M347.0 371.4h0M349.0 377.5h0M349.3 369.4h0M348.9 380.8h0M349.5 378.4h0M347.5 373.5h0M350.8 372.5h0M349.5 366.5h0M350.4 380.7h0M349.7 378.5h0M351.1 369.7h0M348.8 375.3h0M348.8 378.6h0M348.5 377.3h0M348.4 378.8h0M351.2 371.2h0M349.1 366.9h0M347.5 379.1h0M350.6 369.2h0M351.1 371.7h0M348.5 377.8h0M351.6 365.2h0M347.9 373.2h0M351.0 379.8h0M350.6 378.5h0M348.5 339.2h0M350.9 357.8h0M351.2 355.4h0M348.2 344.5h0M349.6 339.2h0M350.4 362.3h0M349.7 362.4h0M347.0 363.6h0M348.6 345.7h0M351.9 345.3h0M348.1 336.2h0" stroke="#000" stroke-opacity="0.9" stroke-width="1.0" stroke-linecap="round" fill="none"/>
<text x="336.9" y="395.7" text-anchor="middle" font-family='"Liberation Sans", Arial, Helvetica, sans-serif' font-weight="bold" font-size="6.8" fill="#111" stroke="#111" stroke-width="0.22">THCA</text>
<text x="336.9" y="402.8" text-anchor="middle" font-family='"Liberation Sans", Arial, Helvetica, sans-serif' font-weight="bold" font-size="5.6" fill="#111" stroke="#111" stroke-width="0.28">T(n=512)</text>
<text x="336.9" y="409.7" text-anchor="middle" font-family='"Liberation Sans", Arial, Helvetica, sans-serif' font-weight="bold" font-size="5.6" fill="#111" stroke="#111" stroke-width="0.28">N(n=337)</text>
<path d="M390.15 309.1V349.2M390.15 376.9V381.0" stroke="#666" stroke-width="0.5" stroke-dasharray="1.6 1" fill="none"/>
<path d="M385.55 309.1h9.2M385.55 381.0h9.2" stroke="#3a3a3a" stroke-width="0.8" fill="none"/>
<rect x="381.75" y="349.2" width="16.8" height="27.7" fill="#8a8a8a" stroke="#3a3a3a" stroke-width="0.65"/>
<path d="M381.75 368.2h16.8" stroke="#3a3a3a" stroke-width="0.65" fill="none"/>
<path d="M388.0 348.7h0M389.8 347.4h0M391.9 329.9h0M389.9 379.5h0M387.6 309.1h0M390.6 380.6h0M389.1 354.6h0M389.0 378.1h0M388.9 369.5h0M387.6 378.6h0M389.5 370.7h0M389.0 359.1h0M388.0 349.2h0M391.4 349.5h0M387.8 365.8h0M391.8 360.7h0M392.6 330.9h0M388.8 320.9h0M389.4 380.2h0M391.6 361.7h0M391.6 319.7h0M391.9 369.4h0M390.7 343.4h0M392.6 373.5h0M391.2 310.1h0M391.8 370.9h0M392.4 349.1h0M389.5 378.2h0M387.8 358.2h0M390.5 379.1h0M390.5 356.4h0M391.2 368.8h0M388.2 377.8h0M390.4 360.8h0M391.8 377.1h0M388.1 364.2h0M388.3 380.4h0M389.3 359.7h0M392.1 341.4h0M390.2 362.6h0M388.9 378.2h0M391.6 366.6h0M388.0 378.7h0M391.6 348.2h0M391.0 372.0h0M388.5 377.2h0M392.3 379.0h0M389.8 379.0h0M392.2 366.0h0M391.1 379.7h0M388.2 366.4h0M392.2 374.7h0M387.8 361.2h0M388.4 364.3h0M390.5 378.5h0M391.5 346.9h0M389.9 379.1h0M390.6 375.5h0M391.0 346.0h0M390.0 378.4h0M388.1 333.3h0M391.0 334.5h0M391.4 375.6h0M388.7 347.3h0M389.3 371.0h0M391.0 326.1h0M388.2 375.2h0M387.6 371.6h0M389.5 371.6h0M388.4 375.7h0M389.3 360.0h0M391.3 314.6h0M390.9 375.5h0M389.3 310.4h0M391.0 350.1h0M387.6 375.7h0M389.9 357.8h0M389.6 363.6h0M388.2 353.4h0M391.1 377.3h0M391.7 364.3h0M388.0 332.4h0M387.6 359.7h0M387.6 344.3h0M390.6 374.4h0M388.4 380.1h0M391.0 372.9h0M390.8 370.5h0M392.6 364.2h0M391.0 377.3h0M388.4 365.0h0M392.7 377.2h0M392.1 377.0h0M392.0 378.6h0M391.8 377.7h0M390.0 380.1h0M388.8 341.2h0M392.1 372.4h0M391.2 377.5h0M389.0 348.7h0M391.7 350.7h0M388.0 368.2h0M390.9 332.7h0M389.1 327.8h0M387.9 323.3h0M391.3 369.7h0M391.7 357.1h0M388.2 316.4h0M391.5 356.0h0M390.5 344.1h0M392.3 380.9h0M389.6 378.9h0M388.0 376.8h0M392.7 310.8h0M391.8 364.4h0M391.5 378.4h0M389.5 338.7h0M388.5 372.7h0M388.4 303.8h0M389.6 305.7h0M390.0 309.1h0M389.1 307.8h0M387.6 301.0h0M389.2 283.1h0" stroke="#000" stroke-opacity="0.9" stroke-width="1.0" stroke-linecap="round" fill="none"/>
<path d="M411.35 380.8V380.8M411.35 381.2V381.2" stroke="#666" stroke-width="0.5" stroke-dasharray="1.6 1" fill="none"/>
<path d="M406.75 380.8h9.2M406.75 381.2h9.2" stroke="#3a3a3a" stroke-width="0.8" fill="none"/>
<rect x="402.95" y="380.8" width="16.8" height="0.4" fill="#fff" stroke="#3a3a3a" stroke-width="0.65"/>
<path d="M402.95 381.0h16.8" stroke="#3a3a3a" stroke-width="0.65" fill="none"/>
<path d="M413.8 380.9h0M412.6 380.8h0M412.4 380.8h0M411.9 381.2h0M412.2 381.1h0M409.9 380.9h0M413.3 381.2h0M413.6 381.1h0M411.4 381.0h0M412.5 380.8h0M411.3 381.1h0M412.2 380.8h0M412.9 381.1h0M409.2 380.8h0M411.6 381.0h0M410.9 380.9h0M413.9 381.0h0M409.8 381.2h0M413.8 381.0h0M410.4 381.2h0M409.8 380.8h0M412.0 381.1h0M412.4 381.1h0M410.0 381.2h0M409.7 381.2h0M410.2 380.8h0M413.8 381.2h0M411.7 380.8h0M409.8 381.2h0M413.9 381.2h0M412.3 380.8h0M409.6 380.9h0M409.5 381.2h0M412.4 381.2h0M409.3 381.1h0M411.9 380.8h0M413.9 381.2h0M412.9 381.2h0M409.6 381.2h0M410.4 380.8h0M409.1 381.2h0M408.9 380.8h0M409.1 380.8h0M410.8 381.1h0M409.1 380.8h0M411.3 381.2h0M412.1 380.9h0M411.7 381.2h0M409.4 381.2h0M410.5 381.2h0M410.3 380.8h0M411.1 381.2h0M410.8 381.2h0M409.1 380.8h0M409.3 381.2h0M413.8 380.9h0M413.4 380.8h0M412.2 381.2h0M412.9 380.9h0M409.6 381.1h0M410.6 381.2h0M408.9 380.9h0M413.2 380.8h0M413.5 381.0h0M413.4 380.8h0M409.8 380.8h0M410.0 381.2h0M410.3 381.1h0M413.1 380.8h0M411.2 380.9h0M410.0 380.8h0M409.3 380.8h0M411.6 381.0h0M413.6 381.2h0M413.9 380.8h0M413.5 380.8h0M410.3 381.2h0M413.0 380.9h0M412.0 380.8h0M411.2 380.8h0M412.9 380.8h0M413.5 380.8h0M411.9 380.8h0M413.1 381.2h0M412.1 381.0h0M412.3 380.8h0M413.7 381.2h0M410.7 381.0h0M410.3 381.0h0M413.6 381.2h0M410.3 380.8h0M410.9 380.8h0M409.7 381.2h0M410.9 380.8h0M409.0 380.8h0M412.0 380.9h0M413.6 381.0h0M410.9 381.1h0M413.7 381.2h0M410.4 380.8h0M409.8 380.8h0M413.4 381.2h0M412.6 380.8h0M408.9 380.8h0M409.0 381.0h0M412.3 380.8h0M409.3 381.2h0M412.2 380.8h0M409.3 381.0h0M413.4 381.2h0M413.6 381.1h0M413.7 380.9h0M411.9 381.2h0M411.2 381.2h0M411.9 380.8h0M410.3 380.8h0M411.3 381.2h0M412.0 381.0h0M411.1 381.2h0M411.1 380.8h0M411.1 381.2h0M409.3 380.8h0M412.0 381.0h0M413.9 380.9h0M411.3 380.8h0M411.5 380.9h0M409.6 380.9h0M412.8 380.8h0M412.3 381.0h0M412.9 381.2h0M412.5 380.8h0M412.2 381.0h0M409.2 380.8h0M411.9 380.8h0M413.7 380.8h0M412.3 381.2h0M412.5 380.9h0M409.9 381.0h0M410.6 381.2h0M413.8 381.2h0M410.8 380.8h0M410.6 380.9h0M409.1 380.8h0M409.6 381.1h0M412.5 380.8h0M409.1 380.8h0M410.4 381.0h0M411.3 380.8h0M412.7 381.1h0M412.1 380.8h0M411.7 381.0h0M409.9 380.9h0M411.1 381.2h0M413.5 381.2h0M413.0 381.0h0M411.3 380.9h0M412.3 380.8h0M413.4 380.8h0M409.4 381.1h0M413.4 380.8h0M410.7 381.1h0M411.3 381.0h0M409.6 381.2h0M411.1 381.0h0M413.7 380.9h0M409.6 381.0h0M410.9 381.1h0M411.4 381.1h0M411.9 380.9h0M411.9 381.2h0M413.3 380.8h0M413.2 380.8h0M411.4 381.2h0M410.5 381.0h0M409.7 380.8h0M411.4 380.8h0M409.6 380.8h0M411.8 380.8h0M410.4 380.8h0M409.7 380.8h0M410.9 381.2h0M411.6 380.9h0M409.4 380.9h0M411.7 381.1h0M409.9 380.8h0M413.3 381.0h0M413.5 380.9h0M412.2 381.1h0M408.9 380.9h0M413.6 380.8h0M408.8 380.8h0M413.7 381.1h0M412.3 381.1h0M413.5 380.8h0M412.6 380.8h0M409.6 381.0h0M412.7 381.2h0M412.2 381.2h0M410.7 381.2h0M409.5 380.9h0M410.9 380.9h0M412.6 381.1h0M408.9 381.2h0M410.5 380.9h0M413.6 380.8h0M412.1 381.2h0M410.4 381.2h0M413.6 380.9h0M413.4 380.8h0M408.9 380.8h0M409.8 381.2h0M411.5 381.2h0M411.5 380.8h0M409.0 381.2h0M412.0 381.0h0M412.3 381.2h0M410.5 380.8h0M412.8 381.2h0M410.2 381.0h0M409.8 381.1h0M410.4 381.0h0M410.3 381.2h0M411.0 381.2h0M413.6 380.9h0M410.0 380.8h0M409.9 381.2h0M412.2 381.2h0M408.8 381.2h0M413.1 381.2h0M408.8 380.9h0M411.4 380.8h0M411.8 381.1h0M409.3 381.0h0M413.2 380.8h0M412.9 381.2h0M409.2 381.0h0M410.1 381.2h0M413.6 381.1h0M410.9 380.8h0M408.9 380.9h0M410.1 381.1h0M409.3 380.8h0M410.4 381.1h0M412.2 381.1h0M412.1 381.2h0M409.1 381.0h0M410.6 381.2h0M412.1 380.8h0M412.1 381.2h0M411.4 381.0h0M410.6 381.1h0M411.8 380.9h0M409.2 381.2h0M413.4 381.1h0M413.8 380.9h0M413.7 380.8h0M412.5 380.9h0M411.2 381.2h0M411.4 381.2h0M409.7 381.0h0M410.8 381.2h0M412.3 380.8h0M413.2 380.8h0M413.9 381.2h0M410.2 381.2h0M411.9 381.2h0M412.0 380.8h0M413.0 380.8h0M410.4 381.0h0M409.5 381.2h0M410.3 381.1h0M411.0 381.0h0M413.4 381.1h0M410.4 381.2h0M409.4 381.1h0M413.7 381.2h0M409.2 381.0h0M411.2 381.1h0M413.2 381.1h0M411.8 380.8h0M412.4 381.2h0M409.3 381.2h0M412.3 381.2h0M409.4 381.1h0M410.6 381.2h0M409.6 381.2h0M410.8 381.2h0M409.9 380.8h0M413.0 381.1h0M412.3 381.0h0M410.2 380.8h0M410.0 380.8h0M410.3 380.9h0M410.9 381.0h0M413.2 381.1h0M409.9 380.8h0M411.8 380.8h0M410.8 380.8h0M413.2 381.1h0M411.5 380.8h0M413.2 381.2h0M410.7 381.1h0M411.6 380.8h0M413.3 381.2h0M413.6 380.9h0M410.3 381.2h0M413.9 381.0h0M409.7 381.2h0M411.4 381.1h0M412.9 380.8h0M413.6 380.8h0M412.0 381.0h0M410.7 381.2h0M412.8 380.8h0M413.5 381.2h0M412.3 380.8h0M410.0 380.8h0M409.7 380.8h0M413.0 381.0h0M412.3 380.8h0M413.4 381.0h0M411.5 380.9h0M409.0 380.8h0M410.9 381.2h0M412.0 381.2h0M413.0 381.1h0M413.7 381.0h0M411.9 380.8h0M413.3 381.0h0M412.0 381.1h0M409.7 381.1h0M411.0 380.8h0M410.4 381.2h0M409.7 380.9h0M410.4 380.9h0M409.3 381.0h0M409.0 380.9h0M409.6 381.2h0M413.8 380.8h0M409.5 380.7h0M412.4 371.2h0M412.1 377.8h0M410.1 380.5h0M410.9 380.4h0M409.5 343.7h0M411.0 343.7h0M413.6 356.7h0" stroke="#000" stroke-opacity="0.9" stroke-width="1.0" stroke-linecap="round" fill="none"/>
<text x="398.1" y="395.7" text-anchor="middle" font-family='"Liberation Sans", Arial, Helvetica, sans-serif' font-weight="bold" font-size="6.8" fill="#111" stroke="#111" stroke-width="0.22">THYM</text>
<text x="398.1" y="402.8" text-anchor="middle" font-family='"Liberation Sans", Arial, Helvetica, sans-serif' font-weight="bold" font-size="5.6" fill="#111" stroke="#111" stroke-width="0.28">T(n=118)</text>
<text x="398.1" y="409.7" text-anchor="middle" font-family='"Liberation Sans", Arial, Helvetica, sans-serif' font-weight="bold" font-size="5.6" fill="#111" stroke="#111" stroke-width="0.28">N(n=339)</text>
<path d="M452.07 373.7V377.8M452.07 381.0V381.2" stroke="#666" stroke-width="0.5" stroke-dasharray="1.6 1" fill="none"/>
<path d="M447.47 373.7h9.2M447.47 381.2h9.2" stroke="#3a3a3a" stroke-width="0.8" fill="none"/>
<rect x="443.67" y="377.8" width="16.8" height="3.2" fill="#8a8a8a" stroke="#3a3a3a" stroke-width="0.65"/>
<path d="M443.67 379.8h16.8" stroke="#3a3a3a" stroke-width="0.65" fill="none"/>
<path d="M454.4 381.0h0M451.7 378.7h0M450.9 376.1h0M453.0 376.6h0M450.6 381.1h0M449.9 378.5h0M450.0 381.1h0M453.3 375.6h0M452.6 379.8h0M450.6 380.6h0M450.1 376.0h0M452.0 381.1h0M453.6 380.3h0M450.8 379.8h0M452.1 381.2h0M453.8 381.1h0M453.1 381.1h0M453.9 381.1h0M453.1 381.1h0M453.0 381.1h0M453.9 380.6h0M453.1 381.0h0M454.5 381.1h0M452.8 377.2h0M453.1 375.2h0M452.8 380.0h0M449.6 381.0h0M453.1 374.9h0M450.0 380.1h0M453.3 377.1h0M449.9 381.1h0M449.7 376.7h0M451.2 381.1h0M450.6 381.2h0M453.5 378.2h0M450.6 374.1h0M451.2 379.6h0M453.2 378.4h0M454.1 381.1h0M452.2 380.8h0M450.6 381.1h0M452.9 381.1h0M450.9 381.1h0M450.9 377.7h0M450.5 380.0h0M451.3 380.4h0M451.3 374.4h0M453.4 375.0h0M450.3 381.1h0M454.6 376.6h0M452.3 378.1h0M454.2 377.9h0M451.8 378.5h0M452.4 380.5h0M452.2 374.1h0M450.4 381.0h0M450.9 380.4h0M452.6 380.3h0M453.4 380.0h0M450.9 380.0h0M450.4 381.1h0M453.3 381.2h0M453.7 378.3h0M450.7 373.9h0M454.4 377.7h0M454.6 375.1h0M453.4 374.7h0M450.0 378.6h0M451.0 378.6h0M452.7 380.6h0M449.7 380.7h0M452.7 381.1h0M453.5 380.9h0M450.2 379.7h0M451.5 379.4h0M454.2 379.4h0M450.0 379.1h0M454.1 377.5h0M449.9 376.6h0M452.3 378.6h0M454.6 374.6h0M454.3 380.3h0M450.7 379.8h0M453.6 377.9h0M454.4 378.8h0M452.2 375.0h0M454.6 381.1h0M451.3 378.7h0M453.4 381.1h0M449.9 379.9h0M454.3 381.2h0M451.2 375.8h0M451.4 380.5h0M454.2 376.5h0M454.5 377.8h0M451.4 378.6h0M451.8 381.1h0M454.1 380.5h0M452.1 379.5h0M450.0 380.4h0M450.2 381.1h0M451.7 381.2h0M453.7 381.0h0M450.5 377.9h0M450.4 380.0h0M454.2 377.7h0M451.6 375.7h0M452.9 377.6h0M452.4 380.6h0M451.5 381.1h0M449.8 376.5h0M454.6 377.6h0M450.6 381.1h0M452.7 378.6h0M450.4 378.1h0M452.7 377.1h0M452.1 377.1h0M453.4 376.9h0M450.2 379.6h0M452.7 376.4h0M452.7 377.7h0M449.9 380.0h0M453.1 380.3h0M451.2 379.4h0M452.3 378.2h0M450.0 376.7h0M451.7 379.3h0M453.5 381.0h0M449.7 379.5h0M453.6 378.2h0M454.2 380.9h0M449.8 381.0h0M452.8 380.2h0M451.3 377.5h0M452.8 380.9h0M450.3 377.5h0M450.5 377.3h0M452.8 379.8h0M452.5 381.1h0M449.6 381.2h0M452.8 379.6h0M454.7 375.2h0M451.9 379.6h0M453.3 381.1h0M453.7 379.4h0M454.2 379.6h0M454.0 374.6h0M453.0 380.9h0M454.2 381.1h0M451.2 379.5h0M453.2 381.0h0M453.4 378.5h0M453.4 378.7h0M451.8 374.0h0M454.1 374.0h0M454.1 376.8h0M451.3 375.7h0M453.6 380.8h0M450.6 379.9h0M454.3 380.5h0M452.1 381.2h0M453.7 378.4h0M452.1 378.7h0M454.3 378.9h0M452.8 379.4h0M451.2 379.3h0M449.7 380.9h0M454.7 381.1h0M449.9 378.4h0M451.0 378.1h0M451.0 378.5h0M454.6 380.2h0M453.4 381.2h0M450.6 381.1h0M451.3 370.0h0M454.5 370.7h0M454.4 353.1h0M452.5 362.2h0M451.6 363.7h0M451.9 363.6h0M450.7 327.5h0M450.8 329.8h0M451.7 362.0h0M453.9 359.7h0M454.1 328.6h0M453.8 338.1h0M452.4 368.5h0M453.2 369.1h0M453.3 373.5h0M450.5 327.5h0" stroke="#000" stroke-opacity="0.9" stroke-width="1.0" stroke-linecap="round" fill="none"/>
<path d="M473.27 376.6V379.2M473.27 381.0V381.2" stroke="#666" stroke-width="0.5" stroke-dasharray="1.6 1" fill="none"/>
<path d="M468.67 376.6h9.2M468.67 381.2h9.2" stroke="#3a3a3a" stroke-width="0.8" fill="none"/>
<rect x="464.87" y="379.2" width="16.8" height="1.8" fill="#fff" stroke="#3a3a3a" stroke-width="0.65"/>
<path d="M464.87 380.3h16.8" stroke="#3a3a3a" stroke-width="0.65" fill="none"/>
<path d="M474.4 380.4h0M472.4 381.1h0M471.2 380.1h0M474.8 381.2h0M474.8 379.3h0M474.3 380.4h0M473.2 381.2h0M470.9 379.3h0M471.8 379.0h0M471.3 381.1h0M472.1 378.7h0M472.1 379.0h0M474.6 377.7h0M474.3 381.1h0M474.8 381.1h0M474.9 381.2h0M474.9 379.7h0M472.6 381.0h0M475.8 381.1h0M475.4 381.2h0M472.7 379.2h0M472.1 380.8h0M474.1 377.9h0M474.3 379.0h0M473.3 381.2h0M471.7 380.3h0M475.4 378.3h0M473.1 379.2h0M474.3 381.0h0M472.1 381.0h0M474.2 381.0h0M475.5 380.2h0M473.3 381.1h0M473.4 380.5h0M472.7 381.2h0M474.4 380.2h0M471.5 381.2h0M474.3 380.4h0M474.8 378.5h0M471.0 379.4h0M475.8 379.2h0M471.2 379.1h0M472.0 381.1h0M473.5 379.7h0M475.6 379.8h0M472.4 380.5h0M471.2 380.9h0M471.8 379.6h0M472.0 380.2h0M474.8 380.2h0M475.6 380.7h0M474.1 380.9h0M472.9 379.8h0M472.5 378.6h0M472.1 377.7h0M471.0 379.1h0M471.4 379.4h0M471.0 381.1h0M473.9 379.3h0M472.3 381.0h0M474.9 378.9h0M470.7 380.3h0M474.0 379.0h0M470.9 380.3h0M472.0 381.0h0M470.8 380.9h0M470.9 378.8h0M472.0 380.2h0M474.6 379.7h0M475.2 379.5h0M472.2 380.5h0M472.7 381.1h0M471.9 380.9h0M474.9 377.5h0M474.1 379.1h0M474.4 379.2h0M474.0 376.9h0M471.7 379.8h0M475.3 379.5h0M470.9 378.7h0M475.1 381.1h0M474.7 379.1h0M475.8 379.9h0M474.2 381.0h0M475.8 381.1h0M473.4 379.1h0M474.2 378.1h0M474.0 377.3h0M472.3 381.2h0M470.7 379.9h0M474.6 380.2h0M473.5 376.5h0M470.9 376.6h0M475.1 376.6h0M475.2 373.2h0" stroke="#000" stroke-opacity="0.9" stroke-width="1.0" stroke-linecap="round" fill="none"/>
<text x="460.6" y="395.7" text-anchor="middle" font-family='"Liberation Sans", Arial, Helvetica, sans-serif' font-weight="bold" font-size="6.8" fill="#111" stroke="#111" stroke-width="0.22">UCEC</text>
<text x="460.6" y="402.8" text-anchor="middle" font-family='"Liberation Sans", Arial, Helvetica, sans-serif' font-weight="bold" font-size="5.6" fill="#111" stroke="#111" stroke-width="0.28">T(n=174)</text>
<text x="460.6" y="409.7" text-anchor="middle" font-family='"Liberation Sans", Arial, Helvetica, sans-serif' font-weight="bold" font-size="5.6" fill="#111" stroke="#111" stroke-width="0.28">N(n=91)</text>
<path d="M513.99 353.8V369.4M513.99 380.7V381.2" stroke="#666" stroke-width="0.5" stroke-dasharray="1.6 1" fill="none"/>
<path d="M509.39 353.8h9.2M509.39 381.2h9.2" stroke="#3a3a3a" stroke-width="0.8" fill="none"/>
<rect x="505.59" y="369.4" width="16.8" height="11.3" fill="#8a8a8a" stroke="#3a3a3a" stroke-width="0.65"/>
<path d="M505.59 377.5h16.8" stroke="#3a3a3a" stroke-width="0.65" fill="none"/>
<path d="M515.6 380.8h0M516.3 380.7h0M513.0 378.2h0M515.0 365.6h0M516.4 381.1h0M514.3 381.1h0M512.4 381.0h0M511.9 380.9h0M513.9 361.9h0M511.9 380.2h0M516.3 380.8h0M514.1 377.5h0M514.3 380.7h0M512.2 355.3h0M511.9 374.0h0M515.4 377.8h0M515.3 377.5h0M512.8 380.4h0M513.8 380.9h0M514.5 378.7h0M514.9 364.8h0M512.2 379.5h0M515.6 369.0h0M513.5 374.5h0M514.9 375.8h0M515.6 355.3h0M512.7 380.0h0M514.2 366.8h0M514.3 380.7h0M516.2 379.9h0M515.6 372.4h0M515.1 379.8h0M514.9 378.4h0M515.9 380.7h0M513.7 374.7h0M512.4 379.2h0M515.4 380.9h0M516.3 372.9h0M515.2 381.0h0M511.7 381.0h0M512.2 358.9h0M515.4 381.2h0M516.3 374.9h0M515.0 380.9h0M511.7 373.6h0M516.3 358.8h0M516.3 380.8h0M513.8 380.8h0M515.4 365.0h0M516.2 380.8h0M513.5 370.3h0M511.4 371.2h0M511.6 381.0h0M512.7 379.4h0M515.8 358.4h0M515.1 381.0h0M515.7 357.4h0M514.4 344.4h0M515.2 346.7h0M514.7 351.4h0M512.0 353.7h0M511.5 329.0h0" stroke="#000" stroke-opacity="0.9" stroke-width="1.0" stroke-linecap="round" fill="none"/>
<path d="M535.19 376.6V379.5M535.19 381.0V381.2" stroke="#666" stroke-width="0.5" stroke-dasharray="1.6 1" fill="none"/>
<path d="M530.59 376.6h9.2M530.59 381.2h9.2" stroke="#3a3a3a" stroke-width="0.8" fill="none"/>
<rect x="526.79" y="379.5" width="16.8" height="1.5" fill="#fff" stroke="#3a3a3a" stroke-width="0.65"/>
<path d="M526.79 380.4h16.8" stroke="#3a3a3a" stroke-width="0.65" fill="none"/>
<path d="M535.8 378.5h0M532.7 379.3h0M535.0 381.2h0M536.2 380.3h0M533.6 377.9h0M533.4 381.1h0M534.3 379.2h0M537.0 380.8h0M536.4 379.5h0M533.6 380.4h0M533.6 381.1h0M536.8 379.5h0M532.7 378.5h0M533.2 379.4h0M535.9 378.7h0M537.1 380.6h0M533.7 377.4h0M535.9 380.5h0M532.8 377.3h0M532.8 376.8h0M536.8 379.6h0M536.0 379.4h0M535.2 380.6h0M536.5 380.3h0M536.9 379.8h0M533.7 379.6h0M533.6 381.1h0M532.8 379.5h0M535.9 379.2h0M535.8 380.5h0M537.3 380.7h0M533.3 380.8h0M534.9 380.7h0M534.3 378.6h0M535.6 378.5h0M535.1 377.1h0M537.8 381.0h0M535.9 377.8h0M533.1 381.1h0M535.9 380.6h0M536.0 377.1h0M535.7 381.0h0M536.3 380.1h0M532.7 378.7h0M534.1 377.5h0M537.1 380.7h0M533.6 379.5h0M536.1 377.5h0M534.1 377.3h0M533.1 379.9h0M533.7 380.7h0M533.8 380.1h0M536.0 378.7h0M537.2 381.1h0M536.9 381.1h0M533.6 381.0h0M537.5 378.9h0M533.2 380.0h0M534.1 381.0h0M535.0 380.6h0M535.0 380.8h0M537.2 381.0h0M536.5 378.2h0M535.5 380.5h0M533.1 379.0h0M535.5 380.2h0M534.3 378.4h0M535.4 381.0h0M536.2 379.7h0M534.3 378.4h0M535.9 377.5h0M537.5 381.1h0M537.8 380.8h0M536.4 380.5h0M534.4 381.1h0M535.7 379.7h0M532.7 380.1h0M534.1 379.3h0M536.2 373.2h0M533.8 373.5h0M533.1 373.0h0" stroke="#000" stroke-opacity="0.9" stroke-width="1.0" stroke-linecap="round" fill="none"/>
<text x="519.3" y="395.7" text-anchor="middle" font-family='"Liberation Sans", Arial, Helvetica, sans-serif' font-weight="bold" font-size="6.8" fill="#111" stroke="#111" stroke-width="0.22">UCS</text>
<text x="519.3" y="402.8" text-anchor="middle" font-family='"Liberation Sans", Arial, Helvetica, sans-serif' font-weight="bold" font-size="5.6" fill="#111" stroke="#111" stroke-width="0.28">T(n=57)</text>
<text x="519.3" y="409.7" text-anchor="middle" font-family='"Liberation Sans", Arial, Helvetica, sans-serif' font-weight="bold" font-size="5.6" fill="#111" stroke="#111" stroke-width="0.28">N(n=78)</text>
<path d="M204.39 294.6V291.5H225.59V308.2" fill="none" stroke="#444" stroke-width="0.8"/>
<circle cx="214.99" cy="291.5" r="1.6" fill="#fff"/>
<text x="214.99" y="294.9" text-anchor="middle" font-family='"Liberation Sans", Arial, Helvetica, sans-serif' font-weight="bold" font-size="7" fill="#e8202a">*</text>
<path d="M266.31 343.7V338.5H287.51V341.4" fill="none" stroke="#444" stroke-width="0.8"/>
<circle cx="276.91" cy="338.5" r="1.6" fill="#fff"/>
<text x="276.91" y="341.9" text-anchor="middle" font-family='"Liberation Sans", Arial, Helvetica, sans-serif' font-weight="bold" font-size="7" fill="#e8202a">*</text>
</g>
</svg>
</body></html>
